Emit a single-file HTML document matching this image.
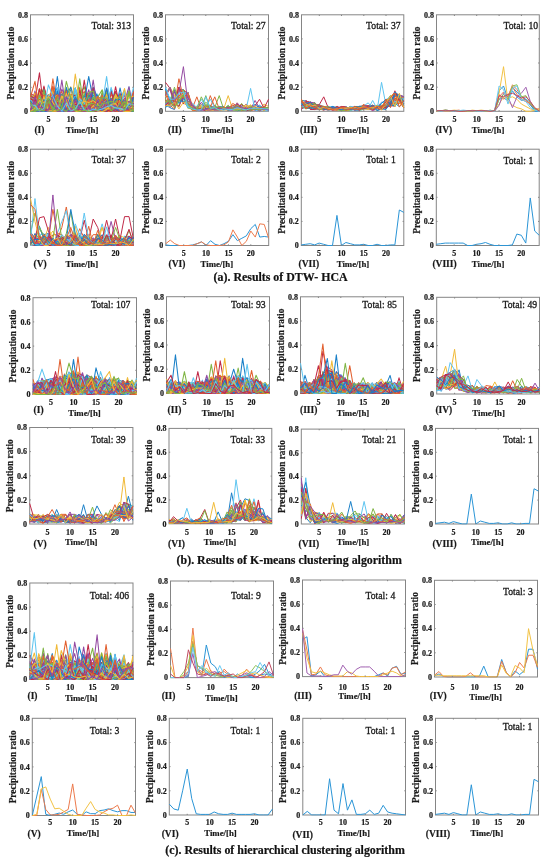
<!DOCTYPE html>
<html><head><meta charset="utf-8"><style>
html,body{margin:0;padding:0;background:#fff;}
body{width:550px;height:859px;overflow:hidden;}
svg{display:block;filter:blur(0.4px);}
text{font-family:"Liberation Serif",serif;fill:#1a1a1a;}
.tk{font-size:8px;font-weight:bold;stroke:#1a1a1a;stroke-width:0.2px;}
.yl{font-size:9.3px;font-weight:bold;stroke:#1a1a1a;stroke-width:0.2px;}
.xl{font-size:8.8px;font-weight:bold;stroke:#1a1a1a;stroke-width:0.2px;}
.rl{font-size:9.5px;font-weight:bold;stroke:#1a1a1a;stroke-width:0.2px;}
.tt{font-size:9.7px;stroke:#1a1a1a;stroke-width:0.3px;}
.pl path{fill:none;stroke-width:1;stroke-linejoin:round;vector-effect:non-scaling-stroke;}
.pl.th path{stroke-width:1.05;}
.cap{font-size:11.9px;font-weight:bold;fill:#111;stroke:#111;stroke-width:0.2px;}
</style></head><body>
<svg width="550" height="859" viewBox="0 0 550 859">
<rect width="550" height="859" fill="#fff"/>
<rect x="30.5" y="14.8" width="103" height="96.7" fill="none" stroke="#858585" stroke-width="1"/>
<clipPath id="cpa1"><rect x="29.9" y="14.2" width="104.2" height="97.9"/></clipPath>
<g clip-path="url(#cpa1)"><g class="pl th" transform="translate(30.5 111.5) scale(4.4783 -0.6044)">
<path stroke="#1a80c8" d="M0 7 1 24 2 1 3 24 4 3 5 5 6 19 7 5 8 8 9 0 10 16 11 8 12 3 13 17 14 2 15 5 16 0 17 4 18 1 19 1 20 11 21 1 22 4 23 15M0 1 1 10 2 1 3 2 4 7 5 8 6 6 7 8 8 1 9 17 10 2 11 23 12 7 13 2 14 1 15 6 16 3 17 9 18 5 19 0 20 14 21 0 22 12 23 11"/>
<path stroke="#e26030" d="M0 1 1 18 2 13 3 17 4 1 5 18 6 1 7 0 8 20 9 21 10 22 11 6 12 2 13 0 14 11 15 13 16 17 17 2 18 1 19 9 20 13 21 22 22 0 23 4M0 2 1 0 2 6 3 11 4 4 5 27 6 5 7 3 8 19 9 6 10 2 11 2 12 25 13 25 14 11 15 2 16 12 17 1 18 2 19 6 20 3 21 2 22 16 23 0"/>
<path stroke="#f0ba38" d="M0 10 1 4 2 14 3 12 4 5 5 21 6 11 7 18 8 3 9 8 10 1 11 28 12 2 13 2 14 0 15 2 16 14 17 11 18 0 19 3 20 3 21 8 22 4 23 6M0 20 1 1 2 0 3 4 4 1 5 9 6 9 7 0 8 14 9 9 10 5 11 24 12 20 13 1 14 1 15 22 16 1 17 13 18 2 19 3 20 6 21 16 22 0 23 26"/>
<path stroke="#944aa2" d="M0 16 1 2 2 16 3 8 4 1 5 26 6 5 7 37 8 20 9 0 10 15 11 1 12 4 13 1 14 19 15 21 16 23 17 9 18 11 19 6 20 2 21 3 22 15 23 1M0 16 1 0 2 1 3 3 4 8 5 4 6 22 7 1 8 9 9 17 10 24 11 21 12 1 13 17 14 12 15 5 16 0 17 1 18 12 19 0 20 2 21 1 22 10 23 2"/>
<path stroke="#80b545" d="M0 5 1 4 2 6 3 0 4 1 5 9 6 4 7 18 8 10 9 21 10 15 11 10 12 2 13 17 14 2 15 0 16 23 17 7 18 13 19 6 20 7 21 0 22 1 23 7M0 0 1 3 2 24 3 25 4 27 5 0 6 19 7 24 8 23 9 14 10 13 11 14 12 9 13 17 14 7 15 1 16 0 17 19 18 13 19 1 20 13 21 2 22 7 23 2"/>
<path stroke="#5fc5f0" d="M0 9 1 2 2 2 3 2 4 0 5 15 6 12 7 10 8 0 9 5 10 13 11 1 12 4 13 0 14 0 15 1 16 4 17 5 18 17 19 2 20 0 21 13 22 0 23 0"/>
<path stroke="#c02a48" d="M0 0 1 0 2 25 3 11 4 25 5 3 6 16 7 0 8 38 9 2 10 8 11 9 12 7 13 5 14 9 15 24 16 5 17 16 18 0 19 3 20 6 21 7 22 1 23 3"/>
<path stroke="#5fc5f0" d="M0 4 1 20 2 22 3 11 4 27 5 15 6 19 7 22 8 2 9 27 10 4 11 7 12 1 13 18 14 3 15 12 16 1 17 38 18 3 19 1 20 0 21 11 22 16 23 1M0 10 1 7 2 4 3 0 4 6 5 27 6 10 7 9 8 27 9 22 10 28 11 25 12 12 13 3 14 10 15 3 16 16 17 0 18 5 19 15 20 4 21 7 22 0 23 1"/>
<path stroke="#c02a48" d="M0 1 1 9 2 8 3 5 4 9 5 19 6 1 7 7 8 0 9 7 10 18 11 28 12 6 13 2 14 9 15 4 16 0 17 6 18 14 19 17 20 19 21 2 22 1 23 0M0 25 1 22 2 8 3 42 4 10 5 2 6 1 7 24 8 11 9 6 10 0 11 4 12 21 13 2 14 3 15 10 16 2 17 7 18 13 19 2 20 4 21 6 22 2 23 1"/>
<path stroke="#1a80c8" d="M0 5 1 21 2 19 3 24 4 5 5 15 6 5 7 2 8 12 9 25 10 18 11 2 12 1 13 16 14 13 15 19 16 1 17 17 18 4 19 2 20 2 21 18 22 16 23 0M0 9 1 4 2 22 3 0 4 3 5 16 6 1 7 4 8 20 9 3 10 2 11 22 12 0 13 20 14 3 15 1 16 6 17 5 18 20 19 12 20 4 21 6 22 2 23 15"/>
<path stroke="#e26030" d="M0 0 1 1 2 15 3 14 4 1 5 19 6 18 7 3 8 3 9 0 10 6 11 0 12 8 13 11 14 9 15 0 16 10 17 13 18 0 19 7 20 13 21 1 22 14 23 15M0 0 1 0 2 1 3 8 4 5 5 1 6 3 7 6 8 18 9 12 10 0 11 6 12 1 13 20 14 21 15 8 16 13 17 11 18 15 19 2 20 1 21 10 22 16 23 1"/>
<path stroke="#f0ba38" d="M0 0 1 3 2 33 3 17 4 4 5 21 6 3 7 3 8 1 9 26 10 18 11 6 12 2 13 25 14 4 15 25 16 4 17 12 18 13 19 0 20 18 21 8 22 0 23 11M0 15 1 1 2 22 3 2 4 27 5 3 6 2 7 3 8 7 9 1 10 2 11 22 12 24 13 1 14 5 15 5 16 17 17 10 18 4 19 13 20 7 21 1 22 11 23 3"/>
<path stroke="#944aa2" d="M0 13 1 0 2 12 3 12 4 0 5 7 6 15 7 16 8 14 9 25 10 16 11 24 12 5 13 0 14 1 15 2 16 0 17 0 18 6 19 1 20 2 21 10 22 13 23 12"/>
<path stroke="#80b545" d="M0 3 1 9 2 27 3 38 4 6 5 11 6 13 7 1 8 10 9 8 10 12 11 0 12 0 13 26 14 18 15 18 16 22 17 22 18 3 19 12 20 8 21 6 22 8 23 2"/>
<path stroke="#944aa2" d="M0 11 1 6 2 5 3 1 4 0 5 13 6 24 7 18 8 0 9 0 10 7 11 9 12 10 13 21 14 21 15 25 16 3 17 5 18 22 19 10 20 0 21 15 22 7 23 1M0 10 1 14 2 0 3 0 4 0 5 0 6 2 7 0 8 10 9 9 10 6 11 0 12 7 13 0 14 0 15 16 16 20 17 0 18 10 19 0 20 7 21 7 22 6 23 33"/>
<path stroke="#80b545" d="M0 15 1 1 2 0 3 1 4 24 5 17 6 1 7 0 8 11 9 3 10 1 11 1 12 6 13 3 14 23 15 8 16 20 17 20 18 18 19 5 20 7 21 5 22 0 23 14M0 1 1 0 2 4 3 2 4 13 5 2 6 4 7 15 8 13 9 1 10 10 11 24 12 23 13 19 14 2 15 24 16 1 17 4 18 0 19 7 20 10 21 9 22 0 23 15"/>
<path stroke="#5fc5f0" d="M0 29 1 6 2 0 3 8 4 3 5 20 6 6 7 1 8 21 9 5 10 0 11 2 12 4 13 0 14 1 15 2 16 3 17 4 18 2 19 2 20 4 21 2 22 10 23 10M0 0 1 4 2 5 3 19 4 0 5 21 6 5 7 20 8 1 9 0 10 5 11 1 12 6 13 18 14 21 15 0 16 2 17 2 18 1 19 5 20 0 21 1 22 0 23 3"/>
<path stroke="#c02a48" d="M0 1 1 0 2 3 3 1 4 0 5 35 6 26 7 13 8 23 9 21 10 12 11 8 12 4 13 7 14 3 15 1 16 6 17 10 18 8 19 11 20 2 21 0 22 1 23 24M0 10 1 1 2 3 3 9 4 1 5 24 6 0 7 22 8 27 9 11 10 1 11 18 12 5 13 14 14 3 15 1 16 22 17 0 18 0 19 25 20 12 21 2 22 2 23 8"/>
<path stroke="#1a80c8" d="M0 1 1 22 2 23 3 14 4 1 5 6 6 3 7 0 8 2 9 0 10 26 11 2 12 4 13 2 14 11 15 8 16 14 17 0 18 1 19 7 20 7 21 13 22 0 23 2M0 28 1 0 2 5 3 2 4 2 5 2 6 27 7 3 8 0 9 23 10 1 11 15 12 12 13 14 14 16 15 1 16 0 17 4 18 4 19 1 20 13 21 0 22 4 23 4"/>
<path stroke="#e26030" d="M0 24 1 20 2 3 3 4 4 7 5 26 6 1 7 8 8 12 9 15 10 0 11 10 12 6 13 3 14 25 15 0 16 12 17 1 18 33 19 5 20 4 21 1 22 5 23 12"/>
<path stroke="#f0ba38" d="M0 3 1 20 2 1 3 0 4 0 5 8 6 10 7 19 8 26 9 5 10 19 11 5 12 4 13 0 14 20 15 3 16 10 17 6 18 22 19 1 20 6 21 11 22 1 23 11"/>
<path stroke="#e26030" d="M0 3 1 23 2 3 3 17 4 1 5 7 6 4 7 2 8 2 9 26 10 13 11 6 12 9 13 19 14 12 15 0 16 1 17 19 18 7 19 7 20 1 21 0 22 1 23 2M0 0 1 0 2 23 3 5 4 22 5 28 6 10 7 2 8 22 9 1 10 8 11 26 12 15 13 8 14 4 15 7 16 0 17 0 18 2 19 0 20 1 21 3 22 13 23 14"/>
<path stroke="#f0ba38" d="M0 24 1 11 2 7 3 6 4 23 5 0 6 27 7 6 8 19 9 7 10 19 11 0 12 5 13 16 14 26 15 7 16 0 17 13 18 9 19 0 20 1 21 5 22 0 23 13M0 8 1 22 2 7 3 5 4 12 5 6 6 0 7 4 8 1 9 23 10 15 11 5 12 0 13 0 14 2 15 7 16 0 17 3 18 1 19 0 20 0 21 0 22 12 23 1"/>
<path stroke="#944aa2" d="M0 0 1 12 2 12 3 12 4 13 5 10 6 25 7 6 8 0 9 2 10 5 11 10 12 4 13 5 14 2 15 14 16 18 17 3 18 14 19 1 20 19 21 2 22 8 23 6M0 13 1 2 2 17 3 28 4 8 5 1 6 0 7 27 8 0 9 0 10 6 11 25 12 8 13 27 14 14 15 18 16 17 17 21 18 21 19 2 20 21 21 5 22 16 23 6"/>
<path stroke="#80b545" d="M0 6 1 5 2 8 3 4 4 0 5 9 6 4 7 7 8 14 9 4 10 1 11 19 12 25 13 1 14 10 15 4 16 12 17 0 18 19 19 15 20 0 21 8 22 2 23 1M0 5 1 11 2 3 3 9 4 18 5 8 6 24 7 17 8 9 9 0 10 6 11 0 12 25 13 0 14 1 15 1 16 18 17 19 18 12 19 15 20 1 21 15 22 0 23 2"/>
<path stroke="#5fc5f0" d="M0 17 1 12 2 1 3 0 4 3 5 1 6 10 7 0 8 13 9 17 10 0 11 22 12 19 13 0 14 8 15 0 16 6 17 0 18 7 19 0 20 0 21 17 22 11 23 7M0 7 1 15 2 0 3 1 4 26 5 18 6 3 7 28 8 6 9 2 10 3 11 2 12 13 13 4 14 9 15 10 16 6 17 5 18 3 19 1 20 0 21 9 22 0 23 9"/>
<path stroke="#c02a48" d="M0 8 1 21 2 20 3 0 4 3 5 5 6 17 7 13 8 8 9 4 10 2 11 9 12 18 13 3 14 2 15 0 16 0 17 0 18 4 19 13 20 3 21 0 22 0 23 15"/>
<path stroke="#1a80c8" d="M0 13 1 25 2 7 3 0 4 7 5 7 6 18 7 24 8 1 9 22 10 1 11 10 12 0 13 19 14 5 15 1 16 22 17 0 18 3 19 5 20 1 21 2 22 12 23 1"/>
<path stroke="#c02a48" d="M0 17 1 6 2 18 3 6 4 15 5 12 6 4 7 0 8 2 9 5 10 6 11 1 12 2 13 3 14 8 15 0 16 4 17 11 18 15 19 6 20 18 21 10 22 11 23 32M0 1 1 11 2 20 3 15 4 17 5 2 6 9 7 1 8 16 9 24 10 7 11 8 12 15 13 22 14 0 15 15 16 20 17 1 18 2 19 5 20 7 21 4 22 6 23 2"/>
<path stroke="#1a80c8" d="M0 7 1 12 2 0 3 21 4 6 5 4 6 2 7 20 8 2 9 3 10 22 11 6 12 0 13 0 14 15 15 3 16 2 17 2 18 21 19 5 20 16 21 12 22 11 23 10M0 0 1 0 2 5 3 9 4 5 5 7 6 4 7 18 8 18 9 1 10 11 11 8 12 0 13 0 14 18 15 13 16 23 17 8 18 18 19 6 20 7 21 8 22 5 23 12"/>
<path stroke="#e26030" d="M0 16 1 20 2 3 3 1 4 12 5 11 6 0 7 10 8 25 9 2 10 11 11 24 12 4 13 18 14 21 15 0 16 2 17 1 18 18 19 8 20 0 21 3 22 1 23 16M0 1 1 23 2 0 3 17 4 15 5 14 6 0 7 25 8 1 9 21 10 7 11 3 12 1 13 0 14 1 15 0 16 0 17 10 18 21 19 6 20 13 21 17 22 0 23 3"/>
<path stroke="#f0ba38" d="M0 4 1 19 2 6 3 19 4 4 5 3 6 1 7 0 8 9 9 4 10 1 11 8 12 14 13 11 14 0 15 4 16 11 17 4 18 4 19 13 20 0 21 1 22 10 23 14M0 10 1 5 2 6 3 27 4 5 5 12 6 0 7 8 8 16 9 6 10 15 11 12 12 0 13 6 14 0 15 0 16 11 17 1 18 0 19 5 20 10 21 1 22 31 23 1"/>
<path stroke="#944aa2" d="M0 0 1 5 2 15 3 6 4 20 5 5 6 3 7 0 8 7 9 27 10 23 11 0 12 0 13 0 14 20 15 3 16 2 17 13 18 3 19 3 20 10 21 15 22 1 23 1M0 10 1 20 2 1 3 22 4 1 5 24 6 1 7 4 8 15 9 1 10 0 11 2 12 3 13 21 14 2 15 12 16 17 17 0 18 2 19 17 20 7 21 1 22 4 23 3"/>
<path stroke="#80b545" d="M0 17 1 23 2 5 3 1 4 22 5 0 6 3 7 18 8 15 9 16 10 6 11 14 12 3 13 20 14 16 15 23 16 14 17 12 18 1 19 7 20 0 21 15 22 11 23 5"/>
<path stroke="#5fc5f0" d="M0 1 1 1 2 6 3 30 4 1 5 4 6 18 7 21 8 2 9 1 10 0 11 0 12 4 13 1 14 7 15 0 16 10 17 7 18 18 19 14 20 0 21 6 22 2 23 0"/>
<path stroke="#80b545" d="M0 9 1 1 2 21 3 12 4 0 5 0 6 0 7 1 8 10 9 0 10 5 11 2 12 12 13 14 14 11 15 9 16 8 17 14 18 6 19 1 20 0 21 7 22 11 23 8M0 0 1 18 2 18 3 0 4 2 5 6 6 25 7 4 8 9 9 0 10 0 11 15 12 7 13 0 14 14 15 1 16 20 17 23 18 20 19 1 20 7 21 14 22 7 23 0"/>
<path stroke="#5fc5f0" d="M0 3 1 0 2 0 3 3 4 0 5 0 6 17 7 22 8 27 9 3 10 0 11 5 12 0 13 9 14 12 15 13 16 0 17 15 18 15 19 2 20 19 21 36 22 1 23 0M0 11 1 9 2 22 3 12 4 23 5 8 6 11 7 19 8 5 9 5 10 14 11 0 12 6 13 1 14 6 15 0 16 0 17 7 18 2 19 10 20 6 21 4 22 41 23 0"/>
<path stroke="#c02a48" d="M0 23 1 3 2 23 3 21 4 0 5 0 6 23 7 20 8 19 9 12 10 26 11 5 12 18 13 16 14 5 15 2 16 0 17 21 18 15 19 11 20 1 21 12 22 1 23 6M0 1 1 21 2 19 3 3 4 17 5 3 6 11 7 7 8 1 9 5 10 4 11 0 12 21 13 2 14 3 15 24 16 4 17 4 18 16 19 2 20 18 21 27 22 2 23 2"/>
<path stroke="#1a80c8" d="M0 13 1 2 2 19 3 10 4 2 5 1 6 0 7 1 8 24 9 4 10 9 11 1 12 22 13 27 14 7 15 23 16 23 17 11 18 0 19 9 20 1 21 15 22 14 23 1M0 1 1 6 2 15 3 23 4 26 5 8 6 2 7 0 8 15 9 10 10 1 11 8 12 4 13 17 14 26 15 1 16 1 17 5 18 2 19 7 20 5 21 2 22 8 23 5"/>
<path stroke="#e26030" d="M0 7 1 3 2 0 3 17 4 2 5 1 6 12 7 5 8 3 9 0 10 27 11 10 12 5 13 9 14 5 15 16 16 19 17 2 18 19 19 2 20 8 21 16 22 8 23 0M0 0 1 16 2 27 3 1 4 22 5 21 6 1 7 1 8 1 9 2 10 5 11 1 12 3 13 9 14 9 15 26 16 1 17 19 18 1 19 1 20 15 21 6 22 8 23 13"/>
<path stroke="#f0ba38" d="M0 7 1 17 2 22 3 0 4 5 5 6 6 0 7 3 8 5 9 0 10 5 11 0 12 5 13 1 14 0 15 0 16 7 17 0 18 3 19 0 20 9 21 8 22 0 23 2"/>
<path stroke="#944aa2" d="M0 13 1 11 2 6 3 17 4 0 5 24 6 23 7 17 8 1 9 0 10 10 11 8 12 15 13 20 14 6 15 7 16 9 17 3 18 14 19 12 20 0 21 9 22 1 23 1"/>
<path stroke="#f0ba38" d="M0 20 1 1 2 24 3 20 4 5 5 18 6 7 7 18 8 3 9 12 10 0 11 27 12 14 13 22 14 11 15 12 16 20 17 23 18 3 19 2 20 11 21 4 22 17 23 5M0 22 1 2 2 2 3 13 4 5 5 1 6 9 7 21 8 0 9 5 10 1 11 14 12 17 13 1 14 19 15 3 16 14 17 0 18 5 19 9 20 5 21 9 22 10 23 14"/>
<path stroke="#944aa2" d="M0 9 1 2 2 5 3 0 4 23 5 0 6 3 7 23 8 8 9 8 10 12 11 14 12 3 13 0 14 10 15 6 16 9 17 21 18 7 19 1 20 2 21 14 22 1 23 1M0 15 1 25 2 10 3 5 4 4 5 0 6 14 7 3 8 0 9 23 10 2 11 0 12 15 13 16 14 16 15 10 16 29 17 7 18 20 19 4 20 2 21 6 22 7 23 1"/>
<path stroke="#80b545" d="M0 4 1 1 2 26 3 5 4 2 5 12 6 13 7 10 8 22 9 10 10 39 11 0 12 0 13 7 14 2 15 1 16 17 17 5 18 12 19 15 20 0 21 17 22 5 23 2M0 0 1 0 2 22 3 21 4 6 5 2 6 0 7 26 8 8 9 0 10 11 11 16 12 3 13 26 14 0 15 0 16 9 17 5 18 3 19 10 20 17 21 14 22 33 23 1"/>
<path stroke="#5fc5f0" d="M0 8 1 5 2 8 3 8 4 11 5 8 6 3 7 23 8 11 9 28 10 0 11 25 12 11 13 12 14 23 15 0 16 1 17 21 18 2 19 0 20 2 21 9 22 8 23 0M0 10 1 1 2 4 3 4 4 14 5 5 6 4 7 19 8 13 9 0 10 8 11 1 12 2 13 10 14 20 15 3 16 7 17 0 18 13 19 1 20 3 21 1 22 5 23 1"/>
<path stroke="#c02a48" d="M0 15 1 3 2 2 3 17 4 24 5 27 6 24 7 0 8 0 9 16 10 16 11 1 12 9 13 11 14 4 15 1 16 3 17 2 18 0 19 2 20 1 21 8 22 7 23 7M0 0 1 10 2 20 3 14 4 1 5 1 6 6 7 4 8 1 9 8 10 1 11 0 12 7 13 24 14 1 15 1 16 6 17 21 18 4 19 1 20 6 21 2 22 0 23 6"/>
<path stroke="#1a80c8" d="M0 2 1 1 2 8 3 0 4 9 5 5 6 22 7 22 8 2 9 1 10 39 11 7 12 14 13 25 14 21 15 4 16 7 17 8 18 17 19 0 20 13 21 1 22 0 23 15"/>
<path stroke="#e26030" d="M0 16 1 0 2 0 3 24 4 2 5 21 6 1 7 22 8 5 9 0 10 27 11 0 12 0 13 17 14 3 15 0 16 0 17 4 18 0 19 3 20 9 21 17 22 1 23 5"/>
<path stroke="#1a80c8" d="M0 9 1 9 2 19 3 23 4 20 5 27 6 39 7 5 8 14 9 21 10 14 11 9 12 1 13 14 14 22 15 6 16 19 17 8 18 2 19 20 20 11 21 18 22 6 23 9M0 0 1 0 2 0 3 12 4 0 5 26 6 7 7 3 8 40 9 17 10 3 11 10 12 11 13 24 14 25 15 14 16 1 17 8 18 37 19 4 20 11 21 12 22 2 23 1"/>
<path stroke="#e26030" d="M0 13 1 0 2 5 3 21 4 6 5 21 6 1 7 21 8 14 9 0 10 0 11 15 12 19 13 4 14 2 15 25 16 18 17 23 18 1 19 5 20 0 21 8 22 3 23 0M0 2 1 16 2 23 3 26 4 27 5 8 6 0 7 8 8 1 9 8 10 0 11 14 12 0 13 2 14 19 15 0 16 1 17 3 18 3 19 14 20 0 21 3 22 11 23 10"/>
<path stroke="#f0ba38" d="M0 0 1 10 2 7 3 0 4 25 5 7 6 34 7 8 8 4 9 0 10 17 11 22 12 13 13 6 14 18 15 0 16 1 17 8 18 1 19 9 20 5 21 12 22 17 23 0M0 14 1 15 2 0 3 16 4 25 5 25 6 9 7 1 8 17 9 7 10 23 11 8 12 1 13 0 14 0 15 21 16 21 17 0 18 10 19 2 20 15 21 17 22 3 23 2"/>
<path stroke="#944aa2" d="M0 13 1 0 2 0 3 0 4 20 5 0 6 0 7 0 8 0 9 3 10 10 11 24 12 1 13 0 14 25 15 1 16 13 17 20 18 4 19 20 20 2 21 0 22 13 23 7M0 0 1 2 2 5 3 0 4 1 5 13 6 21 7 0 8 16 9 3 10 5 11 26 12 3 13 1 14 18 15 1 16 10 17 9 18 1 19 13 20 8 21 0 22 9 23 2"/>
<path stroke="#80b545" d="M0 17 1 0 2 27 3 17 4 16 5 2 6 2 7 22 8 0 9 0 10 10 11 2 12 7 13 8 14 4 15 17 16 1 17 13 18 4 19 17 20 0 21 1 22 2 23 1M0 1 1 18 2 15 3 2 4 9 5 2 6 0 7 4 8 13 9 10 10 9 11 5 12 17 13 25 14 0 15 0 16 12 17 14 18 5 19 0 20 2 21 4 22 7 23 2"/>
<path stroke="#5fc5f0" d="M0 1 1 6 2 7 3 2 4 10 5 17 6 1 7 3 8 1 9 3 10 17 11 16 12 24 13 4 14 0 15 1 16 7 17 0 18 11 19 2 20 4 21 3 22 2 23 11"/>
<path stroke="#c02a48" d="M0 3 1 4 2 0 3 24 4 5 5 18 6 10 7 4 8 7 9 7 10 4 11 0 12 19 13 7 14 7 15 5 16 4 17 20 18 32 19 11 20 0 21 3 22 8 23 26"/>
<path stroke="#5fc5f0" d="M0 0 1 19 2 14 3 0 4 13 5 4 6 0 7 14 8 14 9 11 10 3 11 0 12 1 13 4 14 2 15 4 16 2 17 20 18 5 19 16 20 0 21 12 22 10 23 7M0 10 1 2 2 0 3 7 4 2 5 1 6 7 7 3 8 9 9 16 10 6 11 21 12 0 13 15 14 0 15 0 16 10 17 17 18 1 19 5 20 12 21 1 22 3 23 6"/>
<path stroke="#c02a48" d="M0 5 1 14 2 1 3 8 4 9 5 13 6 9 7 6 8 3 9 8 10 0 11 2 12 22 13 0 14 6 15 21 16 16 17 2 18 4 19 2 20 1 21 2 22 14 23 11M0 14 1 3 2 15 3 15 4 12 5 16 6 9 7 20 8 19 9 0 10 6 11 0 12 25 13 5 14 1 15 18 16 0 17 1 18 10 19 5 20 1 21 6 22 1 23 2"/>
<path stroke="#1a80c8" d="M0 1 1 3 2 3 3 9 4 1 5 16 6 16 7 13 8 3 9 21 10 3 11 3 12 1 13 0 14 11 15 6 16 1 17 3 18 4 19 1 20 1 21 0 22 1 23 0M0 17 1 0 2 10 3 26 4 8 5 22 6 18 7 6 8 5 9 1 10 4 11 1 12 20 13 10 14 23 15 4 16 12 17 16 18 0 19 2 20 4 21 16 22 13 23 0"/>
<path stroke="#e26030" d="M0 10 1 0 2 0 3 1 4 0 5 6 6 14 7 0 8 9 9 18 10 7 11 14 12 20 13 5 14 0 15 1 16 0 17 2 18 30 19 8 20 12 21 12 22 8 23 1M0 5 1 6 2 2 3 19 4 15 5 21 6 8 7 0 8 29 9 0 10 1 11 29 12 9 13 12 14 18 15 11 16 5 17 7 18 3 19 7 20 0 21 5 22 0 23 0"/>
<path stroke="#f0ba38" d="M0 18 1 11 2 0 3 1 4 2 5 22 6 0 7 0 8 20 9 16 10 20 11 14 12 18 13 0 14 9 15 3 16 7 17 2 18 1 19 1 20 0 21 3 22 12 23 5M0 10 1 1 2 3 3 1 4 2 5 16 6 11 7 26 8 25 9 1 10 1 11 23 12 1 13 16 14 1 15 1 16 22 17 11 18 16 19 1 20 0 21 12 22 3 23 6"/>
<path stroke="#944aa2" d="M0 1 1 3 2 4 3 17 4 23 5 12 6 0 7 6 8 6 9 22 10 3 11 14 12 17 13 7 14 6 15 0 16 0 17 22 18 7 19 1 20 13 21 0 22 15 23 0"/>
<path stroke="#80b545" d="M0 5 1 10 2 0 3 13 4 4 5 22 6 7 7 0 8 16 9 13 10 25 11 18 12 9 13 17 14 1 15 21 16 14 17 6 18 0 19 4 20 2 21 8 22 17 23 2"/>
<path stroke="#944aa2" d="M0 4 1 34 2 6 3 12 4 1 5 14 6 27 7 12 8 27 9 19 10 17 11 6 12 9 13 2 14 20 15 0 16 16 17 21 18 2 19 13 20 4 21 14 22 7 23 0M0 20 1 21 2 2 3 7 4 26 5 8 6 19 7 8 8 22 9 7 10 17 11 0 12 10 13 0 14 10 15 10 16 21 17 1 18 19 19 16 20 6 21 0 22 15 23 5"/>
<path stroke="#80b545" d="M0 1 1 25 2 11 3 12 4 15 5 17 6 0 7 4 8 10 9 28 10 7 11 0 12 26 13 8 14 0 15 3 16 23 17 3 18 7 19 2 20 7 21 4 22 2 23 0M0 23 1 13 2 1 3 10 4 2 5 15 6 10 7 16 8 10 9 14 10 26 11 7 12 24 13 4 14 1 15 26 16 11 17 0 18 17 19 11 20 0 21 5 22 17 23 3"/>
<path stroke="#5fc5f0" d="M0 16 1 4 2 0 3 13 4 0 5 6 6 39 7 11 8 19 9 25 10 3 11 15 12 21 13 19 14 17 15 7 16 15 17 1 18 6 19 6 20 0 21 14 22 3 23 3M0 7 1 19 2 23 3 2 4 0 5 1 6 0 7 4 8 2 9 0 10 21 11 22 12 1 13 2 14 25 15 16 16 7 17 3 18 7 19 12 20 0 21 0 22 0 23 1"/>
<path stroke="#c02a48" d="M0 5 1 25 2 0 3 8 4 6 5 2 6 0 7 0 8 19 9 1 10 0 11 9 12 1 13 4 14 17 15 9 16 1 17 27 18 8 19 15 20 4 21 8 22 11 23 0M0 24 1 8 2 18 3 27 4 26 5 7 6 9 7 1 8 12 9 4 10 17 11 9 12 8 13 16 14 19 15 10 16 0 17 6 18 17 19 11 20 7 21 0 22 16 23 0"/>
<path stroke="#1a80c8" d="M0 16 1 13 2 11 3 0 4 1 5 0 6 9 7 16 8 6 9 18 10 0 11 1 12 0 13 4 14 1 15 22 16 1 17 15 18 0 19 1 20 27 21 15 22 16 23 7M0 10 1 10 2 3 3 2 4 15 5 9 6 6 7 6 8 24 9 0 10 22 11 5 12 0 13 13 14 1 15 6 16 4 17 24 18 10 19 16 20 15 21 8 22 28 23 1"/>
<path stroke="#e26030" d="M0 4 1 8 2 3 3 1 4 12 5 0 6 3 7 1 8 0 9 19 10 16 11 21 12 33 13 19 14 5 15 6 16 6 17 0 18 16 19 15 20 19 21 13 22 15 23 15"/>
<path stroke="#f0ba38" d="M0 22 1 7 2 6 3 10 4 21 5 0 6 13 7 3 8 1 9 23 10 24 11 1 12 6 13 27 14 40 15 4 16 1 17 23 18 8 19 3 20 1 21 16 22 7 23 0"/>
<path stroke="#e26030" d="M0 6 1 1 2 27 3 0 4 5 5 4 6 16 7 6 8 0 9 3 10 13 11 21 12 22 13 2 14 21 15 22 16 5 17 4 18 3 19 9 20 19 21 9 22 5 23 1M0 8 1 1 2 25 3 17 4 1 5 14 6 21 7 4 8 0 9 0 10 0 11 26 12 7 13 0 14 0 15 10 16 15 17 18 18 0 19 5 20 1 21 15 22 14 23 0"/>
<path stroke="#f0ba38" d="M0 10 1 16 2 4 3 14 4 24 5 0 6 1 7 11 8 15 9 22 10 3 11 19 12 27 13 1 14 23 15 20 16 2 17 9 18 8 19 0 20 3 21 2 22 10 23 15M0 7 1 10 2 24 3 2 4 21 5 17 6 0 7 2 8 2 9 8 10 3 11 8 12 8 13 27 14 7 15 21 16 22 17 17 18 14 19 13 20 3 21 11 22 12 23 3"/>
<path stroke="#944aa2" d="M0 0 1 1 2 17 3 2 4 14 5 4 6 11 7 28 8 18 9 4 10 0 11 13 12 7 13 24 14 17 15 10 16 8 17 11 18 9 19 1 20 14 21 2 22 1 23 2M0 8 1 3 2 7 3 7 4 1 5 22 6 5 7 4 8 1 9 2 10 12 11 2 12 1 13 7 14 15 15 2 16 3 17 0 18 5 19 16 20 16 21 12 22 1 23 2"/>
<path stroke="#80b545" d="M0 17 1 21 2 0 3 21 4 0 5 5 6 5 7 17 8 23 9 25 10 12 11 23 12 18 13 0 14 20 15 3 16 6 17 0 18 11 19 7 20 7 21 8 22 4 23 1M0 2 1 0 2 3 3 7 4 2 5 0 6 10 7 18 8 18 9 4 10 6 11 19 12 9 13 2 14 20 15 25 16 16 17 10 18 18 19 17 20 3 21 15 22 8 23 2"/>
<path stroke="#5fc5f0" d="M0 8 1 0 2 17 3 9 4 5 5 0 6 0 7 21 8 10 9 5 10 22 11 6 12 0 13 12 14 7 15 11 16 7 17 1 18 4 19 12 20 6 21 8 22 11 23 10M0 0 1 1 2 5 3 3 4 0 5 24 6 15 7 5 8 3 9 0 10 19 11 2 12 25 13 2 14 26 15 18 16 12 17 23 18 5 19 3 20 0 21 14 22 0 23 0"/>
<path stroke="#c02a48" d="M0 0 1 7 2 0 3 8 4 0 5 22 6 19 7 4 8 12 9 12 10 10 11 22 12 12 13 5 14 4 15 1 16 0 17 2 18 8 19 11 20 0 21 17 22 14 23 7"/>
<path stroke="#1a80c8" d="M0 8 1 18 2 8 3 25 4 24 5 13 6 15 7 16 8 27 9 9 10 1 11 5 12 9 13 2 14 1 15 14 16 21 17 9 18 3 19 20 20 10 21 18 22 15 23 3"/>
<path stroke="#c02a48" d="M0 18 1 2 2 0 3 12 4 21 5 21 6 0 7 4 8 8 9 0 10 3 11 4 12 2 13 6 14 8 15 10 16 17 17 2 18 7 19 0 20 7 21 0 22 8 23 1M0 2 1 8 2 3 3 1 4 6 5 1 6 1 7 9 8 13 9 0 10 11 11 25 12 19 13 17 14 1 15 0 16 3 17 5 18 1 19 1 20 1 21 1 22 0 23 0"/>
<path stroke="#1a80c8" d="M0 1 1 6 2 2 3 8 4 2 5 2 6 2 7 1 8 28 9 4 10 3 11 0 12 5 13 15 14 1 15 23 16 13 17 15 18 7 19 14 20 1 21 5 22 0 23 5M0 5 1 9 2 27 3 3 4 19 5 4 6 5 7 22 8 1 9 39 10 5 11 19 12 13 13 17 14 3 15 3 16 16 17 2 18 13 19 18 20 11 21 12 22 3 23 8"/>
<path stroke="#e26030" d="M0 23 1 23 2 1 3 26 4 1 5 7 6 1 7 17 8 24 9 3 10 26 11 12 12 15 13 17 14 24 15 12 16 11 17 2 18 18 19 12 20 17 21 7 22 1 23 7M0 14 1 0 2 24 3 0 4 16 5 0 6 13 7 0 8 24 9 0 10 8 11 15 12 25 13 8 14 0 15 3 16 18 17 1 18 1 19 5 20 3 21 12 22 16 23 6"/>
<path stroke="#f0ba38" d="M0 20 1 3 2 0 3 13 4 16 5 25 6 26 7 6 8 15 9 5 10 28 11 6 12 1 13 17 14 0 15 3 16 1 17 14 18 15 19 12 20 4 21 11 22 14 23 2M0 2 1 2 2 2 3 6 4 22 5 18 6 12 7 7 8 19 9 41 10 0 11 0 12 18 13 10 14 1 15 14 16 4 17 0 18 5 19 1 20 9 21 2 22 0 23 0"/>
<path stroke="#944aa2" d="M0 1 1 18 2 1 3 23 4 12 5 1 6 16 7 7 8 9 9 20 10 27 11 4 12 14 13 0 14 7 15 7 16 0 17 24 18 12 19 0 20 2 21 8 22 0 23 9M0 15 1 6 2 7 3 17 4 2 5 9 6 18 7 0 8 15 9 4 10 2 11 19 12 5 13 0 14 26 15 19 16 6 17 7 18 18 19 17 20 0 21 15 22 3 23 8"/>
<path stroke="#80b545" d="M0 17 1 25 2 0 3 0 4 17 5 11 6 28 7 10 8 7 9 10 10 17 11 23 12 22 13 11 14 2 15 0 16 10 17 9 18 1 19 4 20 9 21 5 22 7 23 5"/>
<path stroke="#5fc5f0" d="M0 20 1 23 2 1 3 23 4 3 5 4 6 0 7 23 8 12 9 24 10 38 11 15 12 10 13 9 14 1 15 6 16 8 17 4 18 17 19 4 20 0 21 1 22 5 23 9"/>
<path stroke="#80b545" d="M0 2 1 2 2 17 3 2 4 26 5 14 6 11 7 20 8 17 9 0 10 10 11 5 12 9 13 11 14 7 15 0 16 11 17 9 18 2 19 0 20 17 21 9 22 5 23 4M0 4 1 4 2 19 3 3 4 4 5 6 6 2 7 0 8 27 9 0 10 6 11 9 12 7 13 5 14 0 15 11 16 0 17 3 18 0 19 4 20 18 21 1 22 4 23 4"/>
<path stroke="#5fc5f0" d="M0 8 1 9 2 2 3 3 4 1 5 3 6 0 7 3 8 1 9 15 10 2 11 0 12 5 13 2 14 0 15 14 16 23 17 4 18 1 19 2 20 16 21 15 22 11 23 40M0 0 1 24 2 1 3 26 4 1 5 1 6 5 7 17 8 1 9 0 10 24 11 26 12 5 13 6 14 13 15 14 16 10 17 10 18 6 19 2 20 1 21 11 22 6 23 8"/>
<path stroke="#c02a48" d="M0 1 1 4 2 20 3 0 4 17 5 0 6 11 7 4 8 5 9 21 10 11 11 1 12 1 13 4 14 5 15 3 16 6 17 2 18 0 19 13 20 8 21 14 22 7 23 0M0 17 1 22 2 25 3 36 4 8 5 41 6 6 7 16 8 20 9 23 10 9 11 10 12 25 13 2 14 15 15 13 16 6 17 0 18 33 19 16 20 7 21 3 22 14 23 1"/>
<path stroke="#1a80c8" d="M0 2 1 1 2 7 3 0 4 24 5 24 6 14 7 23 8 19 9 7 10 12 11 2 12 15 13 6 14 35 15 1 16 21 17 4 18 19 19 2 20 8 21 13 22 3 23 9M0 28 1 0 2 3 3 12 4 1 5 10 6 23 7 4 8 14 9 17 10 7 11 26 12 1 13 16 14 26 15 1 16 10 17 6 18 3 19 5 20 4 21 8 22 15 23 2"/>
<path stroke="#e26030" d="M0 2 1 16 2 0 3 2 4 2 5 10 6 8 7 5 8 34 9 14 10 17 11 22 12 24 13 0 14 18 15 21 16 3 17 11 18 2 19 0 20 4 21 0 22 0 23 14M0 12 1 6 2 0 3 25 4 0 5 27 6 26 7 33 8 6 9 1 10 20 11 18 12 0 13 14 14 0 15 7 16 3 17 3 18 12 19 1 20 0 21 0 22 10 23 9"/>
<path stroke="#f0ba38" d="M0 10 1 24 2 3 3 8 4 27 5 33 6 2 7 13 8 25 9 8 10 11 11 3 12 5 13 14 14 15 15 8 16 6 17 11 18 9 19 4 20 0 21 2 22 34 23 8"/>
<path stroke="#944aa2" d="M0 11 1 0 2 0 3 1 4 0 5 1 6 15 7 3 8 9 9 2 10 21 11 0 12 8 13 8 14 16 15 20 16 14 17 0 18 13 19 5 20 1 21 11 22 11 23 4"/>
<path stroke="#f0ba38" d="M0 5 1 5 2 10 3 22 4 1 5 0 6 5 7 6 8 15 9 5 10 7 11 5 12 0 13 7 14 36 15 6 16 13 17 3 18 0 19 25 20 10 21 0 22 16 23 12M0 3 1 0 2 13 3 27 4 16 5 12 6 19 7 0 8 5 9 0 10 1 11 2 12 0 13 2 14 0 15 2 16 13 17 20 18 19 19 6 20 14 21 4 22 5 23 14"/>
<path stroke="#944aa2" d="M0 17 1 1 2 3 3 0 4 25 5 0 6 13 7 17 8 5 9 15 10 14 11 14 12 3 13 5 14 1 15 2 16 2 17 1 18 11 19 5 20 18 21 5 22 11 23 8M0 24 1 1 2 24 3 0 4 1 5 0 6 23 7 8 8 1 9 14 10 2 11 1 12 0 13 10 14 13 15 3 16 0 17 3 18 7 19 12 20 12 21 9 22 0 23 3"/>
<path stroke="#80b545" d="M0 7 1 0 2 14 3 27 4 2 5 1 6 5 7 2 8 18 9 0 10 3 11 4 12 10 13 22 14 15 15 0 16 16 17 9 18 19 19 6 20 1 21 1 22 15 23 0M0 16 1 18 2 1 3 0 4 14 5 14 6 0 7 22 8 4 9 9 10 1 11 12 12 13 13 6 14 7 15 9 16 11 17 5 18 1 19 10 20 8 21 4 22 0 23 0"/>
<path stroke="#5fc5f0" d="M0 13 1 10 2 9 3 4 4 2 5 2 6 0 7 19 8 0 9 17 10 27 11 0 12 4 13 1 14 4 15 2 16 1 17 0 18 1 19 12 20 11 21 15 22 0 23 6M0 25 1 0 2 10 3 6 4 11 5 13 6 0 7 20 8 1 9 19 10 37 11 22 12 13 13 13 14 26 15 0 16 18 17 9 18 20 19 17 20 22 21 7 22 3 23 1"/>
<path stroke="#c02a48" d="M0 1 1 26 2 0 3 18 4 21 5 0 6 1 7 14 8 28 9 10 10 22 11 13 12 8 13 14 14 12 15 2 16 3 17 18 18 1 19 1 20 6 21 12 22 2 23 1M0 9 1 11 2 7 3 0 4 24 5 1 6 9 7 20 8 3 9 6 10 11 11 13 12 4 13 14 14 4 15 3 16 10 17 1 18 12 19 0 20 0 21 0 22 8 23 4"/>
<path stroke="#1a80c8" d="M0 1 1 4 2 4 3 18 4 9 5 10 6 13 7 3 8 6 9 3 10 4 11 5 12 3 13 9 14 17 15 3 16 0 17 1 18 17 19 17 20 4 21 0 22 11 23 6"/>
<path stroke="#e26030" d="M0 17 1 3 2 24 3 22 4 15 5 2 6 0 7 4 8 14 9 0 10 17 11 8 12 14 13 9 14 3 15 18 16 1 17 1 18 17 19 12 20 16 21 9 22 0 23 6"/>
<path stroke="#1a80c8" d="M0 8 1 21 2 7 3 25 4 17 5 11 6 10 7 20 8 2 9 2 10 1 11 16 12 1 13 24 14 18 15 1 16 5 17 14 18 1 19 1 20 3 21 13 22 1 23 9M0 24 1 11 2 5 3 6 4 24 5 12 6 5 7 29 8 3 9 5 10 1 11 13 12 14 13 1 14 0 15 16 16 2 17 4 18 21 19 0 20 0 21 2 22 5 23 3"/>
<path stroke="#e26030" d="M0 12 1 8 2 17 3 0 4 25 5 10 6 1 7 25 8 27 9 14 10 0 11 18 12 17 13 27 14 11 15 2 16 9 17 21 18 8 19 10 20 0 21 9 22 3 23 8M0 26 1 13 2 21 3 2 4 13 5 18 6 8 7 0 8 25 9 1 10 3 11 2 12 27 13 4 14 1 15 21 16 13 17 21 18 14 19 3 20 1 21 2 22 1 23 7"/>
<path stroke="#f0ba38" d="M0 3 1 15 2 0 3 26 4 5 5 5 6 12 7 25 8 7 9 15 10 12 11 23 12 18 13 8 14 11 15 15 16 23 17 9 18 0 19 1 20 0 21 14 22 14 23 1M0 17 1 0 2 14 3 24 4 9 5 7 6 3 7 5 8 4 9 4 10 10 11 9 12 4 13 7 14 19 15 3 16 19 17 0 18 6 19 5 20 2 21 8 22 1 23 3"/>
<path stroke="#944aa2" d="M0 2 1 18 2 2 3 20 4 0 5 1 6 14 7 1 8 18 9 0 10 25 11 3 12 12 13 36 14 9 15 14 16 0 17 14 18 5 19 4 20 15 21 16 22 0 23 8M0 10 1 8 2 20 3 15 4 0 5 6 6 12 7 3 8 15 9 19 10 0 11 4 12 13 13 8 14 16 15 2 16 0 17 14 18 3 19 19 20 0 21 3 22 4 23 3"/>
<path stroke="#80b545" d="M0 25 1 4 2 10 3 17 4 0 5 23 6 12 7 12 8 3 9 0 10 3 11 8 12 19 13 11 14 1 15 1 16 1 17 7 18 0 19 4 20 13 21 1 22 3 23 2M0 5 1 15 2 2 3 0 4 0 5 6 6 5 7 7 8 9 9 2 10 2 11 27 12 41 13 11 14 1 15 14 16 4 17 14 18 21 19 3 20 3 21 14 22 10 23 15"/>
<path stroke="#5fc5f0" d="M0 18 1 26 2 5 3 5 4 5 5 0 6 34 7 1 8 5 9 3 10 15 11 6 12 1 13 2 14 4 15 29 16 5 17 0 18 21 19 0 20 7 21 12 22 6 23 7"/>
<path stroke="#c02a48" d="M0 12 1 16 2 3 3 3 4 27 5 15 6 16 7 6 8 25 9 4 10 5 11 11 12 7 13 16 14 9 15 12 16 18 17 11 18 2 19 41 20 5 21 0 22 13 23 0"/>
<path stroke="#5fc5f0" d="M0 20 1 12 2 1 3 1 4 3 5 1 6 1 7 8 8 10 9 9 10 19 11 4 12 0 13 1 14 2 15 0 16 0 17 0 18 0 19 5 20 4 21 14 22 9 23 2M0 0 1 1 2 0 3 1 4 26 5 9 6 0 7 0 8 21 9 3 10 2 11 6 12 11 13 2 14 0 15 0 16 20 17 3 18 4 19 1 20 0 21 11 22 1 23 0"/>
<path stroke="#c02a48" d="M0 8 1 5 2 19 3 10 4 24 5 24 6 8 7 4 8 1 9 14 10 11 11 8 12 23 13 4 14 7 15 7 16 2 17 5 18 4 19 6 20 4 21 2 22 1 23 12M0 1 1 20 2 3 3 22 4 4 5 27 6 0 7 9 8 23 9 15 10 12 11 27 12 0 13 1 14 2 15 17 16 2 17 12 18 10 19 7 20 0 21 1 22 15 23 0"/>
<path stroke="#1a80c8" d="M0 14 1 12 2 5 3 16 4 3 5 0 6 4 7 14 8 13 9 27 10 11 11 0 12 5 13 20 14 40 15 23 16 0 17 11 18 8 19 2 20 1 21 0 22 4 23 10M0 1 1 6 2 37 3 24 4 5 5 7 6 15 7 4 8 19 9 6 10 1 11 2 12 14 13 25 14 7 15 19 16 3 17 2 18 9 19 1 20 39 21 4 22 0 23 3"/>
<path stroke="#e26030" d="M0 3 1 0 2 2 3 0 4 13 5 0 6 8 7 6 8 17 9 2 10 5 11 12 12 19 13 2 14 25 15 6 16 13 17 6 18 2 19 7 20 8 21 17 22 4 23 11M0 0 1 0 2 13 3 15 4 0 5 1 6 9 7 11 8 1 9 21 10 3 11 4 12 2 13 14 14 8 15 14 16 9 17 0 18 9 19 1 20 1 21 6 22 5 23 2"/>
<path stroke="#f0ba38" d="M0 13 1 25 2 1 3 6 4 10 5 0 6 20 7 0 8 0 9 0 10 1 11 23 12 2 13 4 14 7 15 18 16 22 17 3 18 2 19 1 20 1 21 8 22 3 23 11M0 3 1 20 2 0 3 24 4 7 5 25 6 19 7 19 8 21 9 16 10 6 11 1 12 2 13 4 14 8 15 24 16 0 17 19 18 3 19 5 20 10 21 0 22 1 23 9"/>
<path stroke="#944aa2" d="M0 4 1 16 2 2 3 5 4 0 5 5 6 2 7 13 8 24 9 17 10 7 11 11 12 7 13 5 14 23 15 7 16 5 17 0 18 1 19 15 20 0 21 1 22 13 23 13"/>
<path stroke="#80b545" d="M0 25 1 2 2 22 3 27 4 12 5 20 6 25 7 0 8 10 9 7 10 7 11 12 12 0 13 10 14 1 15 6 16 8 17 16 18 0 19 21 20 14 21 0 22 13 23 4"/>
<path stroke="#944aa2" d="M0 12 1 2 2 24 3 0 4 1 5 14 6 1 7 16 8 26 9 7 10 12 11 21 12 2 13 22 14 10 15 5 16 7 17 0 18 10 19 16 20 7 21 3 22 3 23 0M0 20 1 11 2 1 3 27 4 1 5 12 6 9 7 2 8 28 9 7 10 9 11 14 12 0 13 2 14 9 15 2 16 1 17 7 18 2 19 12 20 9 21 8 22 0 23 3"/>
<path stroke="#80b545" d="M0 29 1 20 2 12 3 1 4 3 5 10 6 3 7 0 8 3 9 17 10 18 11 12 12 22 13 0 14 0 15 9 16 1 17 6 18 22 19 1 20 0 21 9 22 13 23 0M0 0 1 9 2 18 3 3 4 5 5 1 6 10 7 0 8 1 9 18 10 3 11 27 12 11 13 2 14 11 15 24 16 0 17 20 18 13 19 18 20 12 21 18 22 1 23 8"/>
<path stroke="#5fc5f0" d="M0 5 1 11 2 4 3 6 4 8 5 19 6 19 7 11 8 27 9 5 10 0 11 21 12 15 13 5 14 2 15 8 16 0 17 0 18 12 19 5 20 8 21 0 22 15 23 0M0 13 1 25 2 2 3 8 4 3 5 21 6 1 7 21 8 3 9 20 10 0 11 16 12 12 13 21 14 0 15 3 16 0 17 13 18 18 19 8 20 0 21 8 22 7 23 8"/>
<path stroke="#c02a48" d="M0 15 1 9 2 2 3 1 4 2 5 19 6 12 7 8 8 1 9 17 10 7 11 2 12 12 13 13 14 1 15 19 16 4 17 1 18 2 19 18 20 4 21 8 22 4 23 16M0 1 1 24 2 17 3 2 4 25 5 27 6 17 7 10 8 2 9 11 10 1 11 0 12 0 13 0 14 1 15 13 16 12 17 16 18 1 19 0 20 6 21 9 22 2 23 8"/>
<path stroke="#1a80c8" d="M0 3 1 4 2 9 3 32 4 1 5 0 6 34 7 5 8 5 9 14 10 10 11 9 12 9 13 2 14 12 15 4 16 16 17 2 18 6 19 0 20 0 21 7 22 0 23 14M0 11 1 4 2 22 3 1 4 11 5 0 6 6 7 1 8 2 9 12 10 0 11 3 12 6 13 0 14 1 15 11 16 13 17 8 18 2 19 3 20 5 21 7 22 11 23 3"/>
<path stroke="#e26030" d="M0 6 1 19 2 25 3 6 4 5 5 24 6 6 7 10 8 16 9 1 10 14 11 17 12 4 13 13 14 16 15 2 16 11 17 1 18 8 19 1 20 7 21 1 22 1 23 15"/>
<path stroke="#f0ba38" d="M0 6 1 12 2 0 3 9 4 13 5 24 6 2 7 0 8 9 9 8 10 11 11 1 12 2 13 24 14 20 15 12 16 16 17 3 18 19 19 0 20 0 21 0 22 1 23 11"/>
<path stroke="#e26030" d="M0 5 1 5 2 26 3 0 4 0 5 12 6 28 7 0 8 21 9 0 10 0 11 2 12 0 13 6 14 10 15 0 16 13 17 22 18 4 19 0 20 1 21 8 22 17 23 1M0 8 1 14 2 3 3 0 4 1 5 3 6 13 7 3 8 14 9 23 10 3 11 5 12 5 13 5 14 10 15 18 16 8 17 4 18 7 19 17 20 1 21 3 22 9 23 4"/>
<path stroke="#f0ba38" d="M0 1 1 0 2 33 3 0 4 7 5 9 6 18 7 18 8 0 9 3 10 3 11 1 12 17 13 6 14 0 15 14 16 12 17 3 18 10 19 0 20 0 21 7 22 0 23 6M0 1 1 20 2 10 3 5 4 16 5 2 6 12 7 4 8 5 9 4 10 8 11 14 12 2 13 5 14 9 15 3 16 1 17 22 18 9 19 13 20 1 21 6 22 1 23 5"/>
<path stroke="#944aa2" d="M0 13 1 6 2 12 3 6 4 11 5 0 6 17 7 9 8 1 9 5 10 17 11 6 12 11 13 0 14 3 15 6 16 8 17 0 18 0 19 14 20 2 21 9 22 2 23 0M0 5 1 0 2 23 3 3 4 9 5 25 6 8 7 0 8 17 9 0 10 3 11 1 12 2 13 2 14 16 15 5 16 2 17 2 18 11 19 11 20 5 21 10 22 13 23 4"/>
<path stroke="#80b545" d="M0 5 1 16 2 10 3 3 4 10 5 18 6 24 7 1 8 20 9 12 10 8 11 5 12 7 13 6 14 12 15 22 16 1 17 0 18 0 19 17 20 17 21 14 22 6 23 5M0 1 1 1 2 14 3 2 4 10 5 1 6 4 7 28 8 6 9 2 10 26 11 22 12 15 13 18 14 0 15 1 16 0 17 1 18 15 19 7 20 4 21 2 22 0 23 3"/>
<path stroke="#5fc5f0" d="M0 2 1 5 2 4 3 24 4 0 5 23 6 0 7 25 8 24 9 7 10 1 11 1 12 2 13 19 14 8 15 20 16 14 17 22 18 10 19 1 20 6 21 31 22 2 23 16M0 10 1 5 2 0 3 7 4 13 5 2 6 16 7 21 8 16 9 2 10 25 11 6 12 10 13 20 14 2 15 2 16 22 17 9 18 14 19 9 20 0 21 0 22 2 23 5"/>
<path stroke="#c02a48" d="M0 1 1 2 2 6 3 15 4 26 5 7 6 6 7 4 8 19 9 9 10 23 11 8 12 1 13 0 14 8 15 1 16 12 17 14 18 13 19 3 20 6 21 1 22 5 23 11"/>
<path stroke="#1a80c8" d="M0 21 1 5 2 1 3 10 4 0 5 0 6 23 7 5 8 13 9 0 10 20 11 6 12 1 13 20 14 13 15 19 16 23 17 16 18 3 19 20 20 11 21 12 22 2 23 6"/>
<path stroke="#c02a48" d="M0 0 1 7 2 15 3 1 4 22 5 1 6 8 7 17 8 11 9 7 10 12 11 21 12 7 13 0 14 22 15 3 16 1 17 12 18 8 19 5 20 11 21 4 22 3 23 1M0 16 1 10 2 24 3 13 4 1 5 0 6 16 7 8 8 21 9 18 10 7 11 10 12 16 13 1 14 0 15 0 16 1 17 1 18 1 19 6 20 12 21 5 22 1 23 11"/>
<path stroke="#1a80c8" d="M0 4 1 4 2 4 3 23 4 19 5 22 6 15 7 7 8 5 9 27 10 6 11 14 12 18 13 20 14 12 15 3 16 5 17 16 18 5 19 17 20 0 21 14 22 7 23 11M0 3 1 9 2 15 3 5 4 9 5 1 6 0 7 1 8 7 9 11 10 4 11 12 12 26 13 8 14 6 15 7 16 1 17 4 18 3 19 0 20 1 21 8 22 4 23 9"/>
<path stroke="#e26030" d="M0 0 1 4 2 22 3 8 4 0 5 20 6 23 7 25 8 23 9 1 10 18 11 19 12 4 13 0 14 2 15 25 16 0 17 22 18 1 19 0 20 1 21 0 22 1 23 1M0 7 1 1 2 12 3 4 4 0 5 0 6 8 7 9 8 15 9 1 10 9 11 7 12 3 13 15 14 11 15 25 16 2 17 12 18 8 19 0 20 1 21 18 22 8 23 2"/>
<path stroke="#f0ba38" d="M0 3 1 22 2 3 3 0 4 2 5 3 6 12 7 5 8 0 9 0 10 7 11 18 12 12 13 9 14 8 15 14 16 20 17 16 18 18 19 13 20 2 21 3 22 10 23 0M0 20 1 6 2 1 3 2 4 1 5 9 6 18 7 9 8 0 9 0 10 0 11 5 12 10 13 5 14 19 15 18 16 2 17 10 18 3 19 3 20 12 21 0 22 1 23 4"/>
<path stroke="#944aa2" d="M0 17 1 8 2 26 3 0 4 16 5 2 6 0 7 11 8 23 9 1 10 4 11 17 12 6 13 9 14 12 15 5 16 23 17 10 18 4 19 19 20 0 21 12 22 0 23 0M0 26 1 0 2 0 3 9 4 1 5 6 6 25 7 11 8 3 9 3 10 4 11 4 12 16 13 7 14 21 15 1 16 15 17 2 18 6 19 8 20 5 21 5 22 3 23 8"/>
<path stroke="#80b545" d="M0 0 1 14 2 17 3 8 4 2 5 2 6 17 7 9 8 0 9 19 10 6 11 6 12 24 13 0 14 14 15 1 16 18 17 3 18 3 19 3 20 1 21 8 22 11 23 12"/>
<path stroke="#5fc5f0" d="M0 0 1 8 2 18 3 2 4 0 5 9 6 2 7 6 8 24 9 2 10 20 11 9 12 26 13 8 14 8 15 0 16 14 17 21 18 0 19 5 20 0 21 0 22 0 23 15"/>
<path stroke="#80b545" d="M0 25 1 9 2 3 3 1 4 0 5 0 6 3 7 13 8 12 9 1 10 0 11 13 12 0 13 21 14 10 15 5 16 13 17 1 18 9 19 19 20 0 21 4 22 3 23 14M0 3 1 18 2 26 3 10 4 6 5 2 6 7 7 8 8 7 9 26 10 0 11 8 12 5 13 1 14 15 15 1 16 0 17 3 18 13 19 0 20 19 21 4 22 16 23 3"/>
<path stroke="#5fc5f0" d="M0 1 1 24 2 12 3 0 4 4 5 7 6 5 7 0 8 1 9 3 10 0 11 6 12 4 13 0 14 17 15 2 16 18 17 0 18 40 19 16 20 2 21 2 22 2 23 0M0 19 1 15 2 2 3 24 4 16 5 1 6 15 7 4 8 1 9 5 10 9 11 0 12 21 13 16 14 1 15 1 16 9 17 2 18 9 19 16 20 10 21 31 22 10 23 3"/>
<path stroke="#c02a48" d="M0 11 1 9 2 1 3 40 4 15 5 1 6 13 7 5 8 1 9 24 10 1 11 1 12 22 13 15 14 17 15 0 16 1 17 38 18 10 19 7 20 5 21 1 22 2 23 1M0 1 1 1 2 1 3 11 4 19 5 23 6 11 7 5 8 4 9 4 10 4 11 14 12 19 13 28 14 1 15 4 16 9 17 1 18 0 19 4 20 1 21 16 22 4 23 0"/>
<path stroke="#1a80c8" d="M0 15 1 5 2 4 3 14 4 16 5 2 6 4 7 16 8 8 9 13 10 0 11 0 12 22 13 3 14 0 15 0 16 8 17 1 18 1 19 6 20 0 21 1 22 8 23 0M0 0 1 23 2 1 3 8 4 22 5 2 6 0 7 27 8 19 9 11 10 16 11 11 12 3 13 10 14 22 15 0 16 4 17 23 18 21 19 0 20 0 21 8 22 1 23 1"/>
<path stroke="#e26030" d="M0 11 1 8 2 0 3 37 4 15 5 16 6 16 7 19 8 8 9 23 10 14 11 17 12 14 13 5 14 15 15 7 16 13 17 19 18 7 19 3 20 6 21 1 22 6 23 33M0 0 1 0 2 38 3 10 4 0 5 13 6 14 7 12 8 5 9 7 10 23 11 3 12 5 13 16 14 3 15 2 16 17 17 1 18 8 19 18 20 1 21 18 22 14 23 5"/>
<path stroke="#f0ba38" d="M0 8 1 0 2 24 3 0 4 0 5 11 6 21 7 6 8 1 9 1 10 16 11 0 12 5 13 6 14 0 15 1 16 7 17 3 18 2 19 5 20 15 21 1 22 7 23 1"/>
<path stroke="#944aa2" d="M0 14 1 6 2 0 3 4 4 16 5 22 6 0 7 2 8 1 9 18 10 6 11 20 12 15 13 9 14 9 15 4 16 18 17 8 18 8 19 0 20 8 21 17 22 0 23 4"/>
<path stroke="#f0ba38" d="M0 11 1 18 2 12 3 13 4 9 5 36 6 1 7 14 8 1 9 2 10 1 11 12 12 6 13 0 14 19 15 9 16 6 17 0 18 1 19 1 20 1 21 9 22 2 23 2M0 23 1 5 2 6 3 21 4 13 5 2 6 3 7 1 8 1 9 26 10 8 11 20 12 8 13 8 14 1 15 12 16 0 17 2 18 10 19 2 20 9 21 12 22 15 23 10"/>
<path stroke="#944aa2" d="M0 20 1 2 2 0 3 8 4 3 5 8 6 18 7 16 8 7 9 24 10 0 11 12 12 9 13 3 14 5 15 16 16 1 17 8 18 1 19 4 20 1 21 1 22 2 23 12M0 23 1 20 2 0 3 7 4 5 5 15 6 15 7 26 8 3 9 13 10 19 11 23 12 3 13 3 14 14 15 20 16 2 17 4 18 17 19 4 20 1 21 9 22 3 23 0"/>
<path stroke="#80b545" d="M0 22 1 7 2 24 3 10 4 6 5 14 6 9 7 20 8 8 9 0 10 0 11 2 12 3 13 9 14 23 15 6 16 3 17 32 18 1 19 16 20 10 21 9 22 12 23 15M0 6 1 1 2 17 3 25 4 24 5 5 6 0 7 12 8 5 9 0 10 6 11 18 12 1 13 26 14 12 15 2 16 0 17 0 18 11 19 32 20 5 21 0 22 31 23 0"/>
<path stroke="#5fc5f0" d="M0 2 1 2 2 0 3 9 4 26 5 10 6 2 7 21 8 5 9 1 10 10 11 10 12 2 13 5 14 15 15 5 16 10 17 2 18 14 19 1 20 1 21 14 22 7 23 0M0 7 1 18 2 21 3 10 4 0 5 0 6 4 7 15 8 2 9 17 10 7 11 13 12 21 13 21 14 10 15 8 16 17 17 1 18 2 19 6 20 0 21 3 22 14 23 9"/>
<path stroke="#c02a48" d="M0 29 1 26 2 2 3 11 4 11 5 6 6 1 7 0 8 4 9 28 10 26 11 3 12 27 13 13 14 4 15 2 16 1 17 1 18 17 19 11 20 8 21 2 22 8 23 13M0 13 1 19 2 1 3 1 4 0 5 19 6 3 7 1 8 10 9 0 10 3 11 1 12 21 13 17 14 1 15 1 16 14 17 18 18 14 19 3 20 0 21 0 22 0 23 1"/>
<path stroke="#1a80c8" d="M0 2 1 1 2 4 3 36 4 5 5 16 6 7 7 13 8 20 9 3 10 15 11 2 12 1 13 2 14 26 15 26 16 7 17 13 18 4 19 6 20 0 21 7 22 0 23 3"/>
<path stroke="#e26030" d="M0 13 1 0 2 21 3 4 4 0 5 8 6 2 7 4 8 8 9 8 10 5 11 13 12 0 13 2 14 0 15 23 16 2 17 5 18 2 19 7 20 0 21 13 22 3 23 12"/>
<path stroke="#1a80c8" d="M0 1 1 1 2 20 3 5 4 27 5 8 6 2 7 11 8 13 9 17 10 4 11 20 12 20 13 0 14 20 15 4 16 10 17 16 18 6 19 7 20 15 21 6 22 5 23 0M0 15 1 10 2 19 3 16 4 9 5 20 6 11 7 0 8 9 9 6 10 8 11 6 12 7 13 11 14 3 15 18 16 0 17 0 18 8 19 1 20 7 21 11 22 8 23 6"/>
<path stroke="#e26030" d="M0 5 1 9 2 19 3 2 4 3 5 4 6 0 7 16 8 4 9 23 10 0 11 40 12 0 13 22 14 0 15 14 16 0 17 4 18 1 19 1 20 8 21 5 22 6 23 8M0 13 1 22 2 6 3 26 4 27 5 4 6 0 7 1 8 3 9 25 10 11 11 28 12 1 13 1 14 1 15 1 16 4 17 27 18 3 19 20 20 12 21 14 22 0 23 1"/>
<path stroke="#f0ba38" d="M0 0 1 1 2 0 3 1 4 8 5 0 6 5 7 13 8 1 9 0 10 0 11 22 12 26 13 7 14 8 15 7 16 1 17 28 18 12 19 8 20 6 21 12 22 4 23 0M0 8 1 0 2 37 3 27 4 21 5 23 6 5 7 0 8 4 9 14 10 3 11 17 12 9 13 7 14 1 15 17 16 2 17 13 18 7 19 6 20 13 21 5 22 24 23 25"/>
<path stroke="#944aa2" d="M0 0 1 13 2 8 3 2 4 12 5 28 6 19 7 1 8 0 9 0 10 9 11 5 12 2 13 3 14 12 15 18 16 3 17 0 18 9 19 1 20 8 21 13 22 16 23 10M0 17 1 11 2 3 3 20 4 19 5 5 6 0 7 18 8 24 9 20 10 2 11 19 12 11 13 10 14 1 15 7 16 4 17 14 18 1 19 5 20 13 21 17 22 41 23 0"/>
<path stroke="#80b545" d="M0 7 1 1 2 0 3 15 4 15 5 5 6 2 7 4 8 11 9 3 10 3 11 7 12 30 13 0 14 2 15 2 16 33 17 1 18 1 19 1 20 0 21 11 22 9 23 0M0 0 1 5 2 0 3 4 4 1 5 0 6 16 7 0 8 18 9 13 10 21 11 0 12 2 13 7 14 6 15 0 16 6 17 3 18 18 19 1 20 0 21 1 22 2 23 1"/>
<path stroke="#5fc5f0" d="M0 0 1 25 2 0 3 1 4 27 5 24 6 1 7 7 8 13 9 9 10 2 11 2 12 14 13 2 14 1 15 9 16 6 17 4 18 14 19 1 20 12 21 12 22 1 23 1"/>
<path stroke="#c02a48" d="M0 8 1 23 2 24 3 14 4 16 5 2 6 4 7 8 8 10 9 4 10 3 11 2 12 13 13 4 14 21 15 1 16 0 17 16 18 1 19 6 20 17 21 6 22 0 23 11"/>
<path stroke="#5fc5f0" d="M0 11 1 0 2 23 3 0 4 2 5 1 6 2 7 6 8 27 9 20 10 33 11 4 12 12 13 11 14 15 15 4 16 1 17 20 18 0 19 0 20 28 21 5 22 0 23 6M0 19 1 0 2 6 3 9 4 15 5 17 6 0 7 7 8 26 9 4 10 0 11 5 12 1 13 14 14 25 15 19 16 12 17 23 18 2 19 9 20 6 21 7 22 3 23 14"/>
<path stroke="#c02a48" d="M0 0 1 2 2 37 3 13 4 18 5 0 6 20 7 4 8 0 9 3 10 0 11 35 12 2 13 12 14 7 15 18 16 2 17 5 18 0 19 18 20 7 21 0 22 8 23 0M0 16 1 7 2 2 3 26 4 3 5 2 6 27 7 7 8 0 9 0 10 6 11 13 12 8 13 1 14 9 15 1 16 21 17 6 18 17 19 17 20 7 21 3 22 1 23 2"/>
<path stroke="#1a80c8" d="M0 2 1 0 2 10 3 20 4 1 5 2 6 5 7 8 8 27 9 40 10 17 11 12 12 0 13 16 14 19 15 6 16 12 17 1 18 0 19 0 20 18 21 15 22 11 23 0M0 6 1 0 2 0 3 24 4 12 5 1 6 3 7 1 8 2 9 11 10 7 11 23 12 0 13 15 14 33 15 26 16 5 17 6 18 3 19 12 20 19 21 8 22 0 23 10"/>
<path stroke="#e26030" d="M0 26 1 1 2 3 3 26 4 1 5 11 6 1 7 4 8 1 9 0 10 22 11 4 12 2 13 24 14 11 15 0 16 1 17 4 18 9 19 4 20 5 21 7 22 3 23 2M0 1 1 1 2 6 3 0 4 8 5 42 6 1 7 15 8 1 9 16 10 19 11 25 12 16 13 9 14 1 15 2 16 5 17 6 18 3 19 7 20 12 21 4 22 11 23 3"/>
<path stroke="#f0ba38" d="M0 20 1 3 2 0 3 15 4 3 5 12 6 1 7 3 8 8 9 14 10 14 11 1 12 8 13 0 14 0 15 12 16 6 17 12 18 8 19 3 20 3 21 0 22 10 23 1M0 7 1 31 2 2 3 16 4 1 5 2 6 18 7 5 8 8 9 10 10 12 11 4 12 1 13 14 14 8 15 24 16 17 17 0 18 0 19 16 20 17 21 9 22 9 23 15"/>
<path stroke="#944aa2" d="M0 1 1 7 2 0 3 17 4 13 5 1 6 1 7 17 8 0 9 2 10 18 11 0 12 24 13 14 14 1 15 1 16 0 17 15 18 18 19 19 20 1 21 14 22 5 23 0"/>
<path stroke="#80b545" d="M0 18 1 1 2 3 3 10 4 1 5 17 6 9 7 14 8 27 9 4 10 6 11 6 12 13 13 12 14 1 15 23 16 36 17 9 18 21 19 2 20 0 21 6 22 15 23 0"/>
<path stroke="#944aa2" d="M0 4 1 22 2 8 3 6 4 5 5 0 6 0 7 3 8 11 9 23 10 22 11 0 12 13 13 1 14 17 15 14 16 1 17 10 18 11 19 0 20 17 21 1 22 7 23 2M0 15 1 21 2 7 3 13 4 0 5 21 6 0 7 2 8 3 9 3 10 9 11 0 12 0 13 22 14 16 15 5 16 0 17 15 18 19 19 1 20 13 21 17 22 16 23 1"/>
<path stroke="#80b545" d="M0 8 1 25 2 1 3 1 4 1 5 0 6 7 7 13 8 4 9 4 10 8 11 25 12 22 13 4 14 1 15 3 16 0 17 0 18 4 19 5 20 4 21 5 22 12 23 0M0 4 1 3 2 2 3 35 4 0 5 12 6 0 7 22 8 10 9 18 10 1 11 14 12 0 13 24 14 19 15 3 16 10 17 15 18 6 19 1 20 6 21 1 22 7 23 12"/>
<path stroke="#5fc5f0" d="M0 0 1 4 2 26 3 2 4 1 5 20 6 20 7 16 8 1 9 17 10 10 11 9 12 24 13 20 14 0 15 2 16 18 17 5 18 1 19 1 20 16 21 1 22 1 23 1M0 23 1 22 2 16 3 3 4 2 5 17 6 6 7 4 8 23 9 16 10 25 11 0 12 14 13 18 14 18 15 5 16 11 17 58 18 1 19 5 20 3 21 0 22 3 23 0"/>
<path stroke="#c02a48" d="M0 4 1 10 2 9 3 11 4 1 5 22 6 15 7 0 8 28 9 0 10 8 11 11 12 0 13 0 14 39 15 2 16 16 17 21 18 1 19 0 20 3 21 2 22 1 23 0M0 0 1 6 2 19 3 1 4 0 5 11 6 20 7 7 8 17 9 1 10 3 11 0 12 52 13 5 14 0 15 8 16 5 17 9 18 17 19 33 20 15 21 4 22 10 23 1"/>
<path stroke="#1a80c8" d="M0 3 1 23 2 1 3 0 4 0 5 0 6 1 7 0 8 4 9 3 10 6 11 18 12 7 13 27 14 20 15 6 16 0 17 15 18 20 19 11 20 6 21 0 22 0 23 24M0 0 1 0 2 18 3 18 4 16 5 0 6 1 7 0 8 3 9 11 10 1 11 0 12 16 13 58 14 19 15 16 16 0 17 20 18 8 19 14 20 1 21 0 22 12 23 0"/>
<path stroke="#e26030" d="M0 15 1 16 2 0 3 2 4 13 5 5 6 8 7 3 8 20 9 21 10 0 11 26 12 11 13 12 14 8 15 16 16 1 17 0 18 2 19 5 20 0 21 16 22 7 23 10"/>
<path stroke="#f0ba38" d="M0 6 1 22 2 1 3 4 4 7 5 2 6 2 7 4 8 0 9 9 10 1 11 18 12 19 13 0 14 1 15 8 16 2 17 1 18 11 19 0 20 4 21 2 22 0 23 2"/>
<path stroke="#e26030" d="M0 1 1 26 2 17 3 22 4 1 5 54 6 9 7 5 8 8 9 14 10 14 11 2 12 0 13 1 14 0 15 1 16 27 17 15 18 10 19 0 20 1 21 0 22 5 23 11M0 2 1 1 2 26 3 27 4 6 5 17 6 9 7 0 8 18 9 6 10 16 11 1 12 0 13 7 14 16 15 2 16 19 17 5 18 0 19 14 20 14 21 1 22 0 23 4"/>
<path stroke="#f0ba38" d="M0 3 1 23 2 7 3 9 4 0 5 23 6 27 7 6 8 30 9 2 10 13 11 0 12 7 13 12 14 9 15 0 16 15 17 3 18 2 19 28 20 15 21 38 22 1 23 11M0 3 1 10 2 0 3 6 4 22 5 2 6 5 7 4 8 8 9 4 10 10 11 0 12 10 13 1 14 4 15 2 16 0 17 20 18 1 19 1 20 18 21 0 22 14 23 3"/>
<path stroke="#944aa2" d="M0 12 1 0 2 2 3 1 4 16 5 11 6 0 7 19 8 13 9 22 10 1 11 1 12 0 13 7 14 52 15 2 16 0 17 16 18 20 19 2 20 2 21 0 22 6 23 3M0 11 1 4 2 19 3 2 4 0 5 7 6 1 7 3 8 0 9 2 10 20 11 1 12 4 13 16 14 1 15 3 16 18 17 5 18 0 19 2 20 10 21 17 22 1 23 1"/>
<path stroke="#80b545" d="M0 16 1 10 2 1 3 5 4 7 5 0 6 0 7 1 8 16 9 4 10 0 11 54 12 4 13 0 14 24 15 12 16 0 17 6 18 1 19 4 20 15 21 9 22 1 23 1M0 10 1 0 2 6 3 2 4 24 5 21 6 25 7 10 8 2 9 15 10 4 11 6 12 8 13 31 14 34 15 7 16 4 17 1 18 15 19 4 20 0 21 12 22 7 23 0"/>
<path stroke="#5fc5f0" d="M0 20 1 8 2 21 3 3 4 1 5 5 6 4 7 1 8 24 9 8 10 0 11 22 12 0 13 13 14 10 15 0 16 7 17 15 18 0 19 4 20 1 21 0 22 0 23 12M0 9 1 4 2 1 3 1 4 5 5 7 6 8 7 0 8 7 9 11 10 2 11 21 12 14 13 4 14 3 15 0 16 0 17 3 18 5 19 7 20 7 21 1 22 1 23 13"/>
<path stroke="#c02a48" d="M0 25 1 22 2 3 3 2 4 4 5 11 6 3 7 7 8 13 9 3 10 2 11 3 12 24 13 0 14 17 15 9 16 2 17 0 18 5 19 3 20 0 21 4 22 6 23 1"/>
<path stroke="#1a80c8" d="M0 4 1 3 2 0 3 1 4 25 5 10 6 0 7 19 8 2 9 27 10 0 11 1 12 25 13 3 14 1 15 3 16 5 17 1 18 14 19 8 20 4 21 1 22 3 23 0"/>
<path stroke="#c02a48" d="M0 2 1 20 2 12 3 3 4 20 5 14 6 3 7 2 8 4 9 4 10 20 11 0 12 2 13 8 14 0 15 1 16 2 17 3 18 0 19 5 20 8 21 7 22 0 23 14M0 21 1 17 2 64 3 2 4 2 5 3 6 4 7 4 8 1 9 1 10 12 11 9 12 10 13 2 14 12 15 15 16 6 17 6 18 5 19 0 20 30 21 2 22 2 23 5"/>
<path stroke="#1a80c8" d="M0 18 1 1 2 3 3 22 4 2 5 6 6 0 7 13 8 1 9 1 10 24 11 10 12 22 13 3 14 9 15 11 16 1 17 18 18 2 19 20 20 20 21 1 22 7 23 11M0 2 1 7 2 11 3 13 4 25 5 4 6 58 7 0 8 24 9 16 10 9 11 4 12 4 13 0 14 5 15 12 16 10 17 39 18 2 19 5 20 0 21 0 22 8 23 0"/>
<path stroke="#e26030" d="M0 0 1 8 2 20 3 16 4 1 5 10 6 27 7 23 8 7 9 3 10 5 11 17 12 7 13 20 14 15 15 13 16 20 17 7 18 1 19 14 20 0 21 1 22 2 23 9M0 24 1 50 2 1 3 2 4 17 5 1 6 1 7 17 8 21 9 1 10 0 11 2 12 0 13 17 14 5 15 25 16 10 17 4 18 6 19 14 20 16 21 2 22 2 23 12"/>
<path stroke="#f0ba38" d="M0 0 1 6 2 18 3 14 4 25 5 15 6 4 7 26 8 8 9 29 10 0 11 0 12 23 13 0 14 10 15 1 16 0 17 3 18 12 19 13 20 1 21 9 22 8 23 6M0 1 1 5 2 4 3 25 4 1 5 1 6 1 7 26 8 20 9 0 10 62 11 13 12 17 13 15 14 18 15 12 16 5 17 4 18 5 19 7 20 3 21 0 22 0 23 3"/>
<path stroke="#944aa2" d="M0 2 1 24 2 7 3 7 4 2 5 27 6 0 7 1 8 24 9 2 10 19 11 4 12 0 13 6 14 0 15 19 16 3 17 19 18 5 19 2 20 11 21 3 22 12 23 11M0 2 1 16 2 0 3 3 4 17 5 10 6 4 7 52 8 0 9 0 10 1 11 7 12 6 13 8 14 0 15 5 16 13 17 13 18 7 19 10 20 0 21 2 22 5 23 14"/>
<path stroke="#80b545" d="M0 1 1 0 2 27 3 7 4 22 5 1 6 22 7 5 8 0 9 10 10 1 11 18 12 4 13 13 14 13 15 9 16 23 17 22 18 1 19 7 20 7 21 17 22 6 23 0"/>
<path stroke="#5fc5f0" d="M0 11 1 10 2 1 3 5 4 44 5 25 6 9 7 1 8 14 9 1 10 4 11 17 12 3 13 0 14 4 15 2 16 4 17 8 18 10 19 6 20 5 21 2 22 13 23 11"/>
<path stroke="#80b545" d="M0 15 1 1 2 3 3 1 4 16 5 6 6 1 7 5 8 50 9 22 10 2 11 0 12 2 13 0 14 0 15 3 16 13 17 14 18 17 19 15 20 27 21 1 22 34 23 0"/>
</g></g>
<path d="M48.4,111.5v-1.2M48.4,14.8v1.2M70.8,111.5v-1.2M70.8,14.8v1.2M93.2,111.5v-1.2M93.2,14.8v1.2M115.6,111.5v-1.2M115.6,14.8v1.2M30.5,87.3h1.2M133.5,87.3h-1.2M30.5,63.1h1.2M133.5,63.1h-1.2M30.5,39h1.2M133.5,39h-1.2" stroke="#858585" stroke-width="1" fill="none"/>
<text class="tk" x="27.9" y="114.3" text-anchor="end">0</text>
<text class="tk" x="27.9" y="90.1" text-anchor="end">0.2</text>
<text class="tk" x="27.9" y="66" text-anchor="end">0.4</text>
<text class="tk" x="27.9" y="41.8" text-anchor="end">0.6</text>
<text class="tk" x="27.9" y="17.6" text-anchor="end">0.8</text>
<text class="tk" x="48.4" y="122.3" text-anchor="middle">5</text>
<text class="tk" x="70.8" y="122.3" text-anchor="middle">10</text>
<text class="tk" x="93.2" y="122.3" text-anchor="middle">15</text>
<text class="tk" x="115.6" y="122.3" text-anchor="middle">20</text>
<text class="yl" transform="translate(13.8,63.1) rotate(-90)" text-anchor="middle">Precipitation ratio</text>
<text class="rl" x="34.4" y="133.1">(I)</text>
<text class="xl" x="65.8" y="132.8">Time/[h]</text>
<text class="tt" x="91.6" y="28.5">Total: 313</text>
<rect x="165.5" y="14.8" width="103" height="96.5" fill="none" stroke="#858585" stroke-width="1"/>
<clipPath id="cpa2"><rect x="164.9" y="14.2" width="104.2" height="97.7"/></clipPath>
<g clip-path="url(#cpa2)"><g class="pl" transform="translate(165.5 111.3) scale(4.4783 -0.6031)">
<path stroke="#1a80c8" d="M0 17 1 7 2 14 3 35 4 36 5 23 6 5 7 1 8 4 9 4 10 4 11 9 12 4 13 5 14 6 15 3 16 3 17 3 18 6 19 5 20 3 21 8 22 4 23 2M0 13 1 6 2 3 3 24 4 22 5 32 6 3 7 2 8 4 9 8 10 9 11 4 12 3 13 4 14 9 15 4 16 3 17 5 18 4 19 4 20 12 21 6 22 4 23 3"/>
<path stroke="#e26030" d="M0 17 1 15 2 17 3 25 4 36 5 29 6 5 7 7 8 4 9 2 10 26 11 7 12 3 13 7 14 3 15 4 16 2 17 12 18 5 19 7 20 3 21 2 22 8 23 3M0 29 1 9 2 10 3 40 4 29 5 9 6 5 7 24 8 3 9 2 10 2 11 9 12 3 13 3 14 2 15 6 16 5 17 2 18 2 19 4 20 4 21 1 22 7 23 2"/>
<path stroke="#f0ba38" d="M0 9 1 13 2 10 3 40 4 13 5 10 6 1 7 2 8 4 9 2 10 1 11 3 12 4 13 4 14 26 15 3 16 14 17 3 18 5 19 2 20 3 21 2 22 4 23 3M0 16 1 11 2 26 3 26 4 24 5 18 6 5 7 3 8 6 9 2 10 2 11 2 12 6 13 2 14 3 15 3 16 2 17 4 18 4 19 11 20 3 21 4 22 12 23 8"/>
<path stroke="#944aa2" d="M0 25 1 37 2 8 3 22 4 25 5 6 6 7 7 3 8 5 9 2 10 2 11 3 12 2 13 4 14 8 15 4 16 5 17 8 18 5 19 3 20 18 21 5 22 3 23 3M0 11 1 6 2 32 3 16 4 31 5 16 6 4 7 3 8 2 9 8 10 6 11 2 12 7 13 5 14 2 15 2 16 5 17 5 18 12 19 4 20 7 21 3 22 4 23 4"/>
<path stroke="#80b545" d="M0 29 1 40 2 16 3 17 4 20 5 6 6 3 7 4 8 4 9 15 10 8 11 6 12 26 13 3 14 3 15 3 16 4 17 13 18 3 19 3 20 4 21 6 22 5 23 6M0 20 1 13 2 21 3 8 4 36 5 5 6 10 7 3 8 5 9 26 10 4 11 5 12 3 13 3 14 8 15 3 16 6 17 4 18 3 19 7 20 2 21 5 22 2 23 3"/>
<path stroke="#5fc5f0" d="M0 9 1 7 2 14 3 40 4 23 5 6 6 14 7 5 8 2 9 3 10 4 11 3 12 4 13 5 14 4 15 9 16 4 17 9 18 3 19 38 20 1 21 2 22 4 23 7"/>
<path stroke="#c02a48" d="M0 18 1 18 2 12 3 40 4 12 5 32 6 2 7 8 8 3 9 1 10 5 11 5 12 2 13 7 14 2 15 7 16 6 17 11 18 3 19 7 20 3 21 6 22 5 23 6"/>
<path stroke="#5fc5f0" d="M0 12 1 23 2 24 3 28 4 21 5 7 6 9 7 8 8 20 9 7 10 9 11 6 12 3 13 6 14 2 15 4 16 4 17 7 18 3 19 3 20 3 21 5 22 1 23 1M0 38 1 20 2 12 3 20 4 26 5 32 6 3 7 4 8 2 9 7 10 20 11 6 12 2 13 2 14 4 15 5 16 6 17 3 18 4 19 3 20 3 21 3 22 2 23 7"/>
<path stroke="#c02a48" d="M0 9 1 18 2 20 3 40 4 27 5 13 6 7 7 5 8 4 9 5 10 10 11 4 12 2 13 3 14 4 15 3 16 5 17 7 18 1 19 2 20 3 21 6 22 2 23 7M0 48 1 38 2 14 3 8 4 25 5 12 6 5 7 3 8 5 9 5 10 4 11 5 12 4 13 5 14 6 15 4 16 12 17 2 18 3 19 4 20 9 21 20 22 5 23 20"/>
<path stroke="#1a80c8" d="M0 38 1 18 2 10 3 18 4 16 5 17 6 6 7 3 8 3 9 5 10 8 11 4 12 8 13 7 14 2 15 3 16 1 17 2 18 3 19 2 20 4 21 3 22 5 23 3M0 6 1 13 2 36 3 13 4 21 5 13 6 6 7 5 8 11 9 7 10 4 11 5 12 5 13 4 14 3 15 5 16 6 17 3 18 4 19 5 20 5 21 10 22 4 23 3"/>
<path stroke="#e26030" d="M0 19 1 10 2 4 3 27 4 22 5 27 6 2 7 1 8 6 9 9 10 7 11 24 12 4 13 5 14 3 15 13 16 9 17 1 18 8 19 1 20 4 21 3 22 9 23 4M0 33 1 14 2 10 3 54 4 22 5 31 6 10 7 4 8 3 9 8 10 3 11 5 12 6 13 7 14 3 15 10 16 8 17 4 18 4 19 2 20 5 21 6 22 3 23 4"/>
<path stroke="#f0ba38" d="M0 10 1 9 2 15 3 4 4 15 5 16 6 7 7 7 8 7 9 7 10 3 11 2 12 1 13 3 14 4 15 3 16 2 17 6 18 11 19 3 20 8 21 5 22 2 23 4M0 24 1 40 2 27 3 19 4 30 5 13 6 3 7 5 8 11 9 1 10 5 11 3 12 2 13 5 14 4 15 5 16 5 17 2 18 9 19 9 20 3 21 4 22 2 23 5"/>
<path stroke="#944aa2" d="M0 12 1 17 2 34 3 18 4 21 5 23 6 10 7 4 8 15 9 5 10 4 11 2 12 2 13 4 14 4 15 2 16 14 17 6 18 5 19 4 20 4 21 1 22 4 23 2"/>
<path stroke="#80b545" d="M0 19 1 15 2 40 3 17 4 26 5 12 6 3 7 5 8 2 9 11 10 9 11 3 12 3 13 3 14 10 15 2 16 2 17 2 18 2 19 9 20 3 21 4 22 4 23 4"/>
<path stroke="#944aa2" d="M0 26 1 40 2 19 3 30 4 74 5 13 6 9 7 3 8 2 9 3 10 5 11 3 12 6 13 3 14 6 15 4 16 8 17 3 18 4 19 4 20 2 21 5 22 3 23 3"/>
<path stroke="#80b545" d="M0 14 1 18 2 6 3 18 4 28 5 12 6 3 7 3 8 24 9 9 10 4 11 6 12 8 13 5 14 2 15 5 16 10 17 3 18 3 19 2 20 4 21 2 22 6 23 6"/>
<path stroke="#5fc5f0" d="M0 40 1 20 2 20 3 30 4 32 5 8 6 4 7 2 8 3 9 24 10 5 11 6 12 2 13 4 14 3 15 3 16 6 17 4 18 2 19 5 20 5 21 5 22 4 23 4"/>
</g></g>
<path d="M183.4,111.3v-1.2M183.4,14.8v1.2M205.8,111.3v-1.2M205.8,14.8v1.2M228.2,111.3v-1.2M228.2,14.8v1.2M250.6,111.3v-1.2M250.6,14.8v1.2M165.5,87.2h1.2M268.5,87.2h-1.2M165.5,63h1.2M268.5,63h-1.2M165.5,38.9h1.2M268.5,38.9h-1.2" stroke="#858585" stroke-width="1" fill="none"/>
<text class="tk" x="162.9" y="114.1" text-anchor="end">0</text>
<text class="tk" x="162.9" y="90" text-anchor="end">0.2</text>
<text class="tk" x="162.9" y="65.8" text-anchor="end">0.4</text>
<text class="tk" x="162.9" y="41.7" text-anchor="end">0.6</text>
<text class="tk" x="162.9" y="17.6" text-anchor="end">0.8</text>
<text class="tk" x="183.4" y="122.3" text-anchor="middle">5</text>
<text class="tk" x="205.8" y="122.3" text-anchor="middle">10</text>
<text class="tk" x="228.2" y="122.3" text-anchor="middle">15</text>
<text class="tk" x="250.6" y="122.3" text-anchor="middle">20</text>
<text class="yl" transform="translate(148.8,63) rotate(-90)" text-anchor="middle">Precipitation ratio</text>
<text class="rl" x="168" y="133.1">(II)</text>
<text class="xl" x="201" y="132.8">Time/[h]</text>
<text class="tt" x="231.1" y="28.5">Total: 27</text>
<rect x="301.5" y="14.8" width="102.3" height="96.5" fill="none" stroke="#858585" stroke-width="1"/>
<clipPath id="cpa3"><rect x="300.9" y="14.2" width="103.5" height="97.7"/></clipPath>
<g clip-path="url(#cpa3)"><g class="pl" transform="translate(301.5 111.3) scale(4.4478 -0.6031)">
<path stroke="#1a80c8" d="M0 4 1 7 2 7 3 4 4 3 5 5 6 6 7 4 8 3 9 5 10 6 11 3 12 5 13 8 14 5 15 4 16 7 17 6 18 10 19 5 20 11 21 13 22 8 23 15M0 18 1 17 2 14 3 4 4 4 5 4 6 3 7 7 8 4 9 4 10 5 11 2 12 3 13 3 14 7 15 7 16 8 17 9 18 3 19 8 20 17 21 10 22 14 23 23"/>
<path stroke="#e26030" d="M0 12 1 7 2 10 3 8 4 5 5 3 6 5 7 5 8 4 9 4 10 2 11 3 12 7 13 5 14 3 15 9 16 8 17 10 18 6 19 8 20 8 21 30 22 27 23 9M0 3 1 12 2 15 3 6 4 9 5 5 6 3 7 5 8 8 9 2 10 5 11 5 12 2 13 8 14 9 15 4 16 10 17 5 18 6 19 20 20 18 21 24 22 27 23 24"/>
<path stroke="#f0ba38" d="M0 9 1 7 2 10 3 6 4 8 5 8 6 5 7 5 8 4 9 3 10 4 11 3 12 5 13 5 14 7 15 3 16 9 17 3 18 4 19 9 20 12 21 23 22 14 23 8M0 18 1 7 2 5 3 12 4 3 5 8 6 2 7 6 8 4 9 3 10 3 11 5 12 2 13 4 14 4 15 8 16 3 17 10 18 5 19 6 20 25 21 30 22 16 23 9"/>
<path stroke="#944aa2" d="M0 12 1 8 2 10 3 11 4 4 5 2 6 4 7 4 8 3 9 7 10 8 11 3 12 6 13 8 14 8 15 9 16 5 17 7 18 15 19 15 20 12 21 27 22 27 23 17M0 16 1 4 2 9 3 7 4 5 5 4 6 2 7 6 8 3 9 3 10 3 11 3 12 6 13 6 14 4 15 4 16 5 17 8 18 6 19 11 20 14 21 18 22 20 23 6"/>
<path stroke="#80b545" d="M0 6 1 13 2 9 3 14 4 4 5 5 6 8 7 3 8 3 9 4 10 4 11 6 12 4 13 3 14 6 15 9 16 10 17 1 18 6 19 6 20 22 21 18 22 27 23 22M0 11 1 5 2 5 3 6 4 5 5 7 6 6 7 5 8 2 9 6 10 4 11 7 12 3 13 1 14 4 15 9 16 8 17 5 18 9 19 13 20 20 21 15 22 19 23 15"/>
<path stroke="#5fc5f0" d="M0 16 1 12 2 7 3 6 4 6 5 6 6 5 7 2 8 3 9 4 10 8 11 1 12 5 13 4 14 7 15 4 16 7 17 10 18 7 19 12 20 19 21 14 22 24 23 13"/>
<path stroke="#c02a48" d="M0 9 1 17 2 15 3 9 4 5 5 7 6 2 7 4 8 2 9 8 10 6 11 4 12 4 13 1 14 8 15 9 16 4 17 7 18 9 19 5 20 25 21 30 22 20 23 14"/>
<path stroke="#5fc5f0" d="M0 14 1 13 2 11 3 13 4 3 5 5 6 2 7 5 8 2 9 2 10 4 11 8 12 5 13 6 14 9 15 4 16 18 17 4 18 5 19 19 20 25 21 10 22 27 23 24M0 13 1 16 2 8 3 11 4 11 5 8 6 8 7 7 8 2 9 7 10 5 11 4 12 2 13 2 14 3 15 6 16 3 17 3 18 4 19 14 20 14 21 19 22 27 23 12"/>
<path stroke="#c02a48" d="M0 17 1 7 2 9 3 10 4 11 5 24 6 6 7 4 8 6 9 5 10 4 11 8 12 5 13 3 14 9 15 5 16 8 17 2 18 6 19 6 20 10 21 8 22 27 23 13M0 14 1 11 2 6 3 14 4 7 5 5 6 6 7 3 8 8 9 5 10 5 11 5 12 3 13 3 14 6 15 7 16 10 17 6 18 4 19 13 20 24 21 30 22 21 23 8"/>
<path stroke="#1a80c8" d="M0 11 1 15 2 8 3 14 4 4 5 3 6 5 7 8 8 4 9 7 10 3 11 2 12 8 13 8 14 9 15 5 16 3 17 3 18 5 19 13 20 21 21 10 22 20 23 14M0 18 1 9 2 15 3 9 4 9 5 4 6 4 7 8 8 6 9 7 10 4 11 6 12 2 13 3 14 7 15 9 16 5 17 5 18 5 19 9 20 9 21 10 22 17 23 6"/>
<path stroke="#e26030" d="M0 9 1 8 2 15 3 11 4 10 5 4 6 2 7 3 8 5 9 3 10 4 11 6 12 5 13 3 14 12 15 4 16 7 17 3 18 5 19 14 20 16 21 13 22 13 23 15M0 4 1 17 2 13 3 3 4 5 5 8 6 7 7 2 8 3 9 2 10 2 11 3 12 8 13 5 14 5 15 5 16 8 17 7 18 4 19 20 20 9 21 17 22 22 23 24"/>
<path stroke="#f0ba38" d="M0 8 1 11 2 6 3 9 4 9 5 3 6 4 7 3 8 2 9 4 10 3 11 8 12 3 13 8 14 4 15 9 16 8 17 6 18 9 19 16 20 25 21 30 22 15 23 7M0 13 1 10 2 10 3 8 4 4 5 2 6 6 7 4 8 4 9 3 10 1 11 2 12 8 13 3 14 4 15 3 16 4 17 4 18 5 19 9 20 11 21 15 22 17 23 16"/>
<path stroke="#944aa2" d="M0 3 1 14 2 15 3 14 4 4 5 5 6 5 7 6 8 4 9 2 10 6 11 5 12 2 13 4 14 6 15 6 16 8 17 7 18 8 19 9 20 8 21 27 22 27 23 24"/>
<path stroke="#80b545" d="M0 18 1 8 2 4 3 9 4 6 5 8 6 6 7 3 8 5 9 2 10 7 11 4 12 7 13 8 14 5 15 5 16 4 17 2 18 6 19 11 20 9 21 28 22 19 23 17"/>
<path stroke="#944aa2" d="M0 9 1 17 2 3 3 9 4 7 5 3 6 5 7 5 8 3 9 7 10 2 11 5 12 3 13 3 14 5 15 5 16 9 17 2 18 5 19 8 20 25 21 11 22 27 23 6M0 7 1 16 2 8 3 9 4 7 5 2 6 8 7 3 8 4 9 3 10 5 11 5 12 4 13 8 14 6 15 5 16 1 17 4 18 5 19 7 20 11 21 27 22 27 23 24"/>
<path stroke="#80b545" d="M0 9 1 4 2 6 3 8 4 9 5 4 6 7 7 4 8 3 9 1 10 2 11 2 12 4 13 6 14 9 15 5 16 3 17 10 18 7 19 8 20 14 21 10 22 24 23 16M0 18 1 8 2 11 3 14 4 3 5 4 6 8 7 3 8 3 9 2 10 3 11 6 12 3 13 3 14 4 15 9 16 7 17 4 18 7 19 13 20 26 21 8 22 21 23 13"/>
<path stroke="#5fc5f0" d="M0 9 1 7 2 9 3 8 4 7 5 6 6 2 7 3 8 5 9 5 10 4 11 8 12 7 13 5 14 8 15 9 16 7 17 2 18 48 19 10 20 25 21 8 22 27 23 13M0 11 1 17 2 8 3 9 4 4 5 6 6 5 7 3 8 3 9 4 10 5 11 2 12 6 13 4 14 9 15 14 16 5 17 4 18 15 19 14 20 21 21 16 22 17 23 21"/>
<path stroke="#c02a48" d="M0 18 1 11 2 15 3 7 4 10 5 4 6 6 7 5 8 5 9 8 10 7 11 3 12 6 13 2 14 9 15 9 16 8 17 7 18 7 19 16 20 13 21 34 22 17 23 12M0 9 1 18 2 3 3 3 4 9 5 4 6 4 7 2 8 3 9 6 10 4 11 3 12 8 13 5 14 4 15 9 16 2 17 7 18 3 19 7 20 11 21 21 22 19 23 16"/>
<path stroke="#1a80c8" d="M0 12 1 13 2 15 3 7 4 7 5 4 6 3 7 6 8 3 9 4 10 3 11 4 12 3 13 8 14 6 15 6 16 10 17 1 18 4 19 3 20 16 21 26 22 26 23 16M0 13 1 5 2 6 3 5 4 11 5 6 6 5 7 4 8 3 9 3 10 6 11 3 12 8 13 6 14 6 15 5 16 6 17 5 18 13 19 20 20 9 21 32 22 26 23 9"/>
<path stroke="#e26030" d="M0 16 1 6 2 9 3 7 4 3 5 7 6 3 7 4 8 2 9 7 10 6 11 5 12 3 13 4 14 9 15 5 16 7 17 5 18 3 19 20 20 6 21 22 22 17 23 6"/>
<path stroke="#f0ba38" d="M0 18 1 12 2 9 3 10 4 5 5 6 6 5 7 3 8 4 9 5 10 5 11 6 12 6 13 6 14 7 15 5 16 6 17 9 18 2 19 13 20 25 21 8 22 30 23 6"/>
<path stroke="#e26030" d="M0 20 1 4 2 10 3 6 4 10 5 8 6 3 7 3 8 4 9 6 10 2 11 4 12 8 13 5 14 6 15 6 16 3 17 8 18 7 19 11 20 23 21 30 22 7 23 18"/>
</g></g>
<path d="M319.3,111.3v-1.2M319.3,14.8v1.2M341.5,111.3v-1.2M341.5,14.8v1.2M363.8,111.3v-1.2M363.8,14.8v1.2M386,111.3v-1.2M386,14.8v1.2M301.5,87.2h1.2M403.8,87.2h-1.2M301.5,63h1.2M403.8,63h-1.2M301.5,38.9h1.2M403.8,38.9h-1.2" stroke="#858585" stroke-width="1" fill="none"/>
<text class="tk" x="298.9" y="114.1" text-anchor="end">0</text>
<text class="tk" x="298.9" y="90" text-anchor="end">0.2</text>
<text class="tk" x="298.9" y="65.8" text-anchor="end">0.4</text>
<text class="tk" x="298.9" y="41.7" text-anchor="end">0.6</text>
<text class="tk" x="298.9" y="17.6" text-anchor="end">0.8</text>
<text class="tk" x="319.3" y="122.3" text-anchor="middle">5</text>
<text class="tk" x="341.5" y="122.3" text-anchor="middle">10</text>
<text class="tk" x="363.8" y="122.3" text-anchor="middle">15</text>
<text class="tk" x="386" y="122.3" text-anchor="middle">20</text>
<text class="yl" transform="translate(284.8,63) rotate(-90)" text-anchor="middle">Precipitation ratio</text>
<text class="rl" x="300" y="133.1">(III)</text>
<text class="xl" x="336.7" y="132.8">Time/[h]</text>
<text class="tt" x="366.1" y="28.5">Total: 37</text>
<rect x="436.5" y="14.8" width="102.8" height="96.5" fill="none" stroke="#858585" stroke-width="1"/>
<clipPath id="cpa4"><rect x="435.9" y="14.2" width="104" height="97.7"/></clipPath>
<g clip-path="url(#cpa4)"><g class="pl" transform="translate(436.5 111.3) scale(4.4696 -0.6031)">
<path stroke="#2b95d6" d="M0 1 1 1 2 1 3 0 4 0 5 1 6 0 7 1 8 1 9 1 10 0 11 0 12 0 13 1 14 34 15 42 16 20 17 40 18 32 19 24 20 20 21 10 22 2 23 0M0 0 1 0 2 2 3 1 4 1 5 1 6 1 7 1 8 1 9 1 10 1 11 1 12 1 13 1 14 20 15 22 16 18 17 34 18 24 19 18 20 20 21 12 22 0 23 0"/>
<path stroke="#ec7a4c" d="M0 1 1 1 2 2 3 1 4 1 5 2 6 0 7 0 8 1 9 0 10 0 11 1 12 1 13 1 14 24 15 32 16 24 17 44 18 36 19 24 20 18 21 12 22 4 23 2M0 0 1 1 2 0 3 1 4 1 5 0 6 1 7 1 8 0 9 1 10 1 11 1 12 1 13 0 14 28 15 20 16 26 17 40 18 28 19 20 20 16 21 14 22 4 23 4"/>
<path stroke="#f2c244" d="M0 1 1 1 2 1 3 0 4 0 5 0 6 1 7 0 8 1 9 0 10 1 11 0 12 0 13 1 14 30 15 74 16 16 17 10 18 6 19 4 20 0 21 0 22 2 23 4M0 0 1 1 2 0 3 1 4 2 5 1 6 1 7 0 8 2 9 1 10 2 11 1 12 1 13 1 14 12 15 24 16 22 17 24 18 20 19 12 20 8 21 4 22 2 23 2"/>
<path stroke="#a060b0" d="M0 1 1 1 2 1 3 1 4 0 5 1 6 1 7 1 8 1 9 1 10 0 11 1 12 1 13 0 14 10 15 30 16 24 17 6 18 24 19 30 20 40 21 16 22 4 23 0"/>
<path stroke="#8cc058" d="M0 1 1 1 2 2 3 1 4 1 5 1 6 1 7 0 8 1 9 0 10 1 11 0 12 2 13 0 14 20 15 28 16 20 17 42 18 44 19 24 20 26 21 14 22 4 23 0"/>
<path stroke="#6ccaf0" d="M0 1 1 0 2 1 3 1 4 0 5 1 6 2 7 1 8 1 9 0 10 0 11 1 12 1 13 0 14 42 15 36 16 12 17 38 18 42 19 20 20 16 21 6 22 2 23 0"/>
<path stroke="#c04a60" d="M0 1 1 1 2 1 3 1 4 1 5 0 6 0 7 1 8 1 9 1 10 1 11 1 12 0 13 1 14 26 15 24 16 28 17 30 18 26 19 22 20 24 21 16 22 6 23 0"/>
</g></g>
<path d="M454.4,111.3v-1.2M454.4,14.8v1.2M476.7,111.3v-1.2M476.7,14.8v1.2M499.1,111.3v-1.2M499.1,14.8v1.2M521.4,111.3v-1.2M521.4,14.8v1.2M436.5,87.2h1.2M539.3,87.2h-1.2M436.5,63h1.2M539.3,63h-1.2M436.5,38.9h1.2M539.3,38.9h-1.2" stroke="#858585" stroke-width="1" fill="none"/>
<text class="tk" x="433.9" y="114.1" text-anchor="end">0</text>
<text class="tk" x="433.9" y="90" text-anchor="end">0.2</text>
<text class="tk" x="433.9" y="65.8" text-anchor="end">0.4</text>
<text class="tk" x="433.9" y="41.7" text-anchor="end">0.6</text>
<text class="tk" x="433.9" y="17.6" text-anchor="end">0.8</text>
<text class="tk" x="454.4" y="122.3" text-anchor="middle">5</text>
<text class="tk" x="476.7" y="122.3" text-anchor="middle">10</text>
<text class="tk" x="499.1" y="122.3" text-anchor="middle">15</text>
<text class="tk" x="521.4" y="122.3" text-anchor="middle">20</text>
<text class="yl" transform="translate(419.8,63) rotate(-90)" text-anchor="middle">Precipitation ratio</text>
<text class="rl" x="435.4" y="133.1">(IV)</text>
<text class="xl" x="471.8" y="132.8">Time/[h]</text>
<text class="tt" x="503.5" y="28.5">Total: 10</text>
<rect x="30.5" y="149.2" width="103" height="96.3" fill="none" stroke="#858585" stroke-width="1"/>
<clipPath id="cpa5"><rect x="29.9" y="148.6" width="104.2" height="97.5"/></clipPath>
<g clip-path="url(#cpa5)"><g class="pl" transform="translate(30.5 245.5) scale(4.4783 -0.6019)">
<path stroke="#1a80c8" d="M0 1 1 20 2 1 3 0 4 2 5 1 6 8 7 0 8 16 9 14 10 0 11 5 12 0 13 1 14 3 15 3 16 3 17 15 18 1 19 0 20 7 21 15 22 14 23 12M0 20 1 1 2 10 3 8 4 2 5 12 6 0 7 2 8 4 9 18 10 11 11 0 12 7 13 0 14 2 15 17 16 1 17 0 18 15 19 1 20 5 21 1 22 14 23 9"/>
<path stroke="#e26030" d="M0 6 1 6 2 16 3 1 4 1 5 18 6 18 7 4 8 12 9 10 10 18 11 0 12 16 13 4 14 3 15 8 16 6 17 3 18 1 19 14 20 11 21 0 22 2 23 9M0 0 1 4 2 2 3 12 4 1 5 1 6 10 7 30 8 64 9 20 10 9 11 28 12 12 13 5 14 18 15 18 16 0 17 6 18 1 19 8 20 0 21 5 22 9 23 5"/>
<path stroke="#f0ba38" d="M0 11 1 17 2 4 3 12 4 14 5 24 6 11 7 1 8 0 9 1 10 32 11 0 12 10 13 15 14 0 15 9 16 11 17 8 18 4 19 4 20 8 21 1 22 9 23 0M0 4 1 14 2 2 3 12 4 0 5 2 6 2 7 3 8 1 9 1 10 21 11 0 12 4 13 16 14 3 15 3 16 4 17 0 18 1 19 8 20 5 21 1 22 3 23 16"/>
<path stroke="#944aa2" d="M0 0 1 1 2 15 3 3 4 11 5 3 6 3 7 15 8 2 9 5 10 6 11 0 12 0 13 1 14 0 15 8 16 6 17 2 18 18 19 0 20 2 21 11 22 0 23 6M0 0 1 15 2 0 3 8 4 0 5 0 6 0 7 2 8 14 9 16 10 5 11 15 12 8 13 18 14 1 15 1 16 1 17 12 18 15 19 10 20 16 21 0 22 0 23 0"/>
<path stroke="#80b545" d="M0 15 1 9 2 20 3 1 4 11 5 2 6 1 7 1 8 20 9 56 10 10 11 15 12 14 13 15 14 0 15 18 16 8 17 14 18 11 19 14 20 13 21 6 22 25 23 7M0 23 1 11 2 28 3 14 4 0 5 2 6 18 7 5 8 0 9 0 10 18 11 2 12 15 13 1 14 6 15 16 16 13 17 11 18 17 19 4 20 9 21 0 22 6 23 8"/>
<path stroke="#5fc5f0" d="M0 0 1 0 2 0 3 13 4 19 5 0 6 6 7 9 8 0 9 10 10 36 11 16 12 4 13 12 14 12 15 1 16 1 17 17 18 4 19 2 20 15 21 8 22 9 23 10"/>
<path stroke="#c02a48" d="M0 1 1 0 2 6 3 5 4 0 5 0 6 19 7 11 8 16 9 2 10 3 11 6 12 3 13 10 14 44 15 30 16 6 17 15 18 15 19 0 20 2 21 5 22 2 23 15"/>
<path stroke="#5fc5f0" d="M0 0 1 5 2 17 3 20 4 0 5 2 6 0 7 15 8 3 9 2 10 3 11 2 12 5 13 0 14 0 15 10 16 36 17 8 18 0 19 13 20 1 21 16 22 0 23 5M0 1 1 16 2 10 3 16 4 9 5 0 6 20 7 40 8 58 9 10 10 9 11 21 12 1 13 2 14 0 15 13 16 1 17 9 18 7 19 9 20 4 21 0 22 12 23 15"/>
<path stroke="#c02a48" d="M0 1 1 11 2 4 3 5 4 0 5 0 6 16 7 14 8 4 9 8 10 8 11 3 12 0 13 0 14 10 15 12 16 0 17 11 18 10 19 44 20 10 21 4 22 16 23 8M0 4 1 12 2 1 3 3 4 13 5 1 6 1 7 13 8 10 9 18 10 13 11 10 12 42 13 8 14 1 15 11 16 2 17 0 18 17 19 2 20 0 21 9 22 27 23 1"/>
<path stroke="#1a80c8" d="M0 8 1 16 2 3 3 18 4 20 5 3 6 2 7 8 8 8 9 16 10 1 11 17 12 4 13 1 14 2 15 1 16 1 17 10 18 2 19 13 20 7 21 2 22 2 23 5M0 14 1 10 2 32 3 10 4 17 5 3 6 0 7 2 8 18 9 0 10 2 11 0 12 11 13 12 14 4 15 9 16 18 17 1 18 4 19 12 20 0 21 10 22 1 23 1"/>
<path stroke="#e26030" d="M0 17 1 5 2 5 3 10 4 11 5 6 6 0 7 0 8 7 9 15 10 0 11 12 12 4 13 32 14 0 15 3 16 16 17 0 18 1 19 2 20 3 21 0 22 0 23 5M0 20 1 5 2 2 3 17 4 10 5 60 6 20 7 18 8 8 9 0 10 10 11 1 12 5 13 8 14 9 15 11 16 5 17 8 18 0 19 5 20 6 21 13 22 2 23 0"/>
<path stroke="#f0ba38" d="M0 2 1 17 2 4 3 10 4 30 5 10 6 1 7 3 8 0 9 8 10 0 11 4 12 5 13 18 14 3 15 14 16 30 17 6 18 12 19 4 20 16 21 13 22 2 23 8M0 0 1 3 2 11 3 12 4 11 5 5 6 0 7 9 8 11 9 2 10 19 11 10 12 5 13 0 14 0 15 4 16 30 17 6 18 7 19 11 20 7 21 1 22 2 23 2"/>
<path stroke="#944aa2" d="M0 2 1 13 2 10 3 3 4 13 5 3 6 0 7 6 8 0 9 18 10 0 11 1 12 2 13 0 14 3 15 3 16 0 17 8 18 40 19 10 20 12 21 0 22 14 23 0"/>
<path stroke="#80b545" d="M0 2 1 8 2 0 3 11 4 0 5 10 6 60 7 10 8 10 9 1 10 1 11 0 12 3 13 3 14 6 15 0 16 1 17 2 18 7 19 30 20 9 21 4 22 9 23 9"/>
<path stroke="#944aa2" d="M0 12 1 5 2 2 3 1 4 12 5 0 6 4 7 2 8 4 9 3 10 1 11 0 12 17 13 0 14 2 15 0 16 1 17 5 18 1 19 0 20 11 21 3 22 6 23 4M0 22 1 12 2 0 3 0 4 4 5 84 6 6 7 2 8 10 9 5 10 8 11 2 12 3 13 0 14 13 15 1 16 1 17 15 18 5 19 14 20 0 21 10 22 0 23 11"/>
<path stroke="#80b545" d="M0 11 1 1 2 1 3 5 4 9 5 2 6 5 7 1 8 0 9 3 10 2 11 9 12 0 13 0 14 0 15 5 16 5 17 17 18 1 19 10 20 10 21 9 22 1 23 10M0 20 1 54 2 30 3 16 4 4 5 4 6 2 7 12 8 0 9 6 10 12 11 2 12 15 13 1 14 2 15 0 16 2 17 13 18 4 19 3 20 5 21 2 22 5 23 7"/>
<path stroke="#5fc5f0" d="M0 0 1 2 2 1 3 3 4 4 5 0 6 7 7 18 8 11 9 8 10 6 11 10 12 54 13 10 14 2 15 2 16 2 17 10 18 6 19 0 20 10 21 3 22 0 23 4M0 10 1 78 2 14 3 2 4 2 5 11 6 0 7 3 8 11 9 5 10 0 11 0 12 12 13 8 14 6 15 2 16 2 17 31 18 2 19 9 20 1 21 3 22 7 23 4"/>
<path stroke="#c02a48" d="M0 13 1 2 2 16 3 1 4 15 5 9 6 1 7 1 8 2 9 1 10 17 11 0 12 4 13 1 14 8 15 11 16 10 17 42 18 10 19 3 20 0 21 5 22 6 23 5M0 4 1 10 2 46 3 48 4 24 5 4 6 11 7 11 8 4 9 0 10 17 11 5 12 10 13 0 14 4 15 1 16 0 17 18 18 0 19 11 20 10 21 48 22 48 23 10"/>
<path stroke="#1a80c8" d="M0 14 1 0 2 1 3 16 4 6 5 0 6 7 7 3 8 2 9 2 10 12 11 1 12 19 13 10 14 0 15 12 16 9 17 2 18 2 19 17 20 5 21 2 22 13 23 6M0 3 1 10 2 10 3 12 4 1 5 12 6 2 7 4 8 10 9 60 10 20 11 1 12 10 13 0 14 3 15 18 16 5 17 0 18 2 19 1 20 8 21 12 22 1 23 14"/>
<path stroke="#e26030" d="M0 19 1 3 2 7 3 12 4 1 5 4 6 0 7 9 8 0 9 7 10 18 11 0 12 0 13 6 14 2 15 1 16 2 17 10 18 5 19 17 20 6 21 4 22 1 23 3"/>
<path stroke="#f0ba38" d="M0 78 1 40 2 10 3 0 4 0 5 9 6 12 7 0 8 18 9 14 10 2 11 9 12 3 13 0 14 2 15 2 16 1 17 4 18 3 19 3 20 5 21 5 22 0 23 11"/>
<path stroke="#e26030" d="M0 68 1 60 2 10 3 18 4 9 5 5 6 0 7 0 8 12 9 30 10 6 11 0 12 14 13 9 14 1 15 25 16 5 17 2 18 5 19 16 20 0 21 12 22 0 23 0"/>
</g></g>
<path d="M48.4,245.5v-1.2M48.4,149.2v1.2M70.8,245.5v-1.2M70.8,149.2v1.2M93.2,245.5v-1.2M93.2,149.2v1.2M115.6,245.5v-1.2M115.6,149.2v1.2M30.5,221.4h1.2M133.5,221.4h-1.2M30.5,197.3h1.2M133.5,197.3h-1.2M30.5,173.3h1.2M133.5,173.3h-1.2" stroke="#858585" stroke-width="1" fill="none"/>
<text class="tk" x="27.9" y="248.3" text-anchor="end">0</text>
<text class="tk" x="27.9" y="224.2" text-anchor="end">0.2</text>
<text class="tk" x="27.9" y="200.2" text-anchor="end">0.4</text>
<text class="tk" x="27.9" y="176.1" text-anchor="end">0.6</text>
<text class="tk" x="27.9" y="152" text-anchor="end">0.8</text>
<text class="tk" x="48.4" y="256.3" text-anchor="middle">5</text>
<text class="tk" x="70.8" y="256.3" text-anchor="middle">10</text>
<text class="tk" x="93.2" y="256.3" text-anchor="middle">15</text>
<text class="tk" x="115.6" y="256.3" text-anchor="middle">20</text>
<text class="yl" transform="translate(13.8,197.3) rotate(-90)" text-anchor="middle">Precipitation ratio</text>
<text class="rl" x="33.6" y="267.1">(V)</text>
<text class="xl" x="65.6" y="266.8">Time/[h]</text>
<text class="tt" x="91.4" y="163">Total: 37</text>
<rect x="165.8" y="149.2" width="102.9" height="96.3" fill="none" stroke="#858585" stroke-width="1"/>
<clipPath id="cpa6"><rect x="165.2" y="148.6" width="104.1" height="97.5"/></clipPath>
<g clip-path="url(#cpa6)"><g class="pl" transform="translate(165.8 245.5) scale(4.4739 -0.6019)">
<path stroke="#2b95d6" d="M0 1 1 0 2 0 3 0 4 0 5 0 6 1 7 3 8 6 9 0 10 8 11 2 12 0 13 3 14 7 15 18 16 8 17 12 18 16 19 28 20 35 21 14 22 15 23 14"/>
<path stroke="#ec7a4c" d="M0 3 1 9 2 3 3 0 4 0 5 0 6 0 7 3 8 6 9 1 10 0 11 0 12 0 13 1 14 6 15 26 16 14 17 0 18 7 19 24 20 14 21 36 22 35 23 12"/>
</g></g>
<path d="M183.7,245.5v-1.2M183.7,149.2v1.2M206.1,245.5v-1.2M206.1,149.2v1.2M228.4,245.5v-1.2M228.4,149.2v1.2M250.8,245.5v-1.2M250.8,149.2v1.2M165.8,221.4h1.2M268.7,221.4h-1.2M165.8,197.3h1.2M268.7,197.3h-1.2M165.8,173.3h1.2M268.7,173.3h-1.2" stroke="#858585" stroke-width="1" fill="none"/>
<text class="tk" x="163.2" y="248.3" text-anchor="end">0</text>
<text class="tk" x="163.2" y="224.2" text-anchor="end">0.2</text>
<text class="tk" x="163.2" y="200.2" text-anchor="end">0.4</text>
<text class="tk" x="163.2" y="176.1" text-anchor="end">0.6</text>
<text class="tk" x="163.2" y="152" text-anchor="end">0.8</text>
<text class="tk" x="183.7" y="256.3" text-anchor="middle">5</text>
<text class="tk" x="206.1" y="256.3" text-anchor="middle">10</text>
<text class="tk" x="228.4" y="256.3" text-anchor="middle">15</text>
<text class="tk" x="250.8" y="256.3" text-anchor="middle">20</text>
<text class="yl" transform="translate(149.1,197.3) rotate(-90)" text-anchor="middle">Precipitation ratio</text>
<text class="rl" x="168.6" y="267.1">(VI)</text>
<text class="xl" x="200.6" y="266.8">Time/[h]</text>
<text class="tt" x="231.1" y="163">Total: 2</text>
<rect x="301.3" y="149.2" width="102.5" height="96.3" fill="none" stroke="#858585" stroke-width="1"/>
<clipPath id="cpa7"><rect x="300.7" y="148.6" width="103.7" height="97.5"/></clipPath>
<g clip-path="url(#cpa7)"><g class="pl" transform="translate(301.3 245.5) scale(4.4565 -0.6019)">
<path stroke="#2b95d6" d="M0 1 1 2 2 3 3 1 4 4 5 2 6 0 7 0 8 50 9 0 10 5 11 3 12 1 13 1 14 2 15 0 16 0 17 2 18 0 19 0 20 1 21 1 22 59 23 55"/>
</g></g>
<path d="M319.1,245.5v-1.2M319.1,149.2v1.2M341.4,245.5v-1.2M341.4,149.2v1.2M363.7,245.5v-1.2M363.7,149.2v1.2M386,245.5v-1.2M386,149.2v1.2M301.3,221.4h1.2M403.8,221.4h-1.2M301.3,197.3h1.2M403.8,197.3h-1.2M301.3,173.3h1.2M403.8,173.3h-1.2" stroke="#858585" stroke-width="1" fill="none"/>
<text class="tk" x="298.7" y="248.3" text-anchor="end">0</text>
<text class="tk" x="298.7" y="224.2" text-anchor="end">0.2</text>
<text class="tk" x="298.7" y="200.2" text-anchor="end">0.4</text>
<text class="tk" x="298.7" y="176.1" text-anchor="end">0.6</text>
<text class="tk" x="298.7" y="152" text-anchor="end">0.8</text>
<text class="tk" x="319.1" y="256.3" text-anchor="middle">5</text>
<text class="tk" x="341.4" y="256.3" text-anchor="middle">10</text>
<text class="tk" x="363.7" y="256.3" text-anchor="middle">15</text>
<text class="tk" x="386" y="256.3" text-anchor="middle">20</text>
<text class="yl" transform="translate(284.6,197.3) rotate(-90)" text-anchor="middle">Precipitation ratio</text>
<text class="rl" x="298.5" y="267.1">(VII)</text>
<text class="xl" x="336.7" y="266.8">Time/[h]</text>
<text class="tt" x="366.1" y="163">Total: 1</text>
<rect x="436.3" y="149.2" width="102.9" height="96.3" fill="none" stroke="#858585" stroke-width="1"/>
<clipPath id="cpa8"><rect x="435.7" y="148.6" width="104.1" height="97.5"/></clipPath>
<g clip-path="url(#cpa8)"><g class="pl" transform="translate(436.3 245.5) scale(4.4739 -0.6019)">
<path stroke="#2b95d6" d="M0 2 1 3 2 4 3 4 4 4 5 4 6 4 7 0 8 0 9 2 10 3 11 5 12 2 13 0 14 0 15 0 16 0 17 1 18 19 19 17 20 4 21 79 22 24 23 17"/>
</g></g>
<path d="M454.2,245.5v-1.2M454.2,149.2v1.2M476.6,245.5v-1.2M476.6,149.2v1.2M498.9,245.5v-1.2M498.9,149.2v1.2M521.3,245.5v-1.2M521.3,149.2v1.2M436.3,221.4h1.2M539.2,221.4h-1.2M436.3,197.3h1.2M539.2,197.3h-1.2M436.3,173.3h1.2M539.2,173.3h-1.2" stroke="#858585" stroke-width="1" fill="none"/>
<text class="tk" x="433.7" y="248.3" text-anchor="end">0</text>
<text class="tk" x="433.7" y="224.2" text-anchor="end">0.2</text>
<text class="tk" x="433.7" y="200.2" text-anchor="end">0.4</text>
<text class="tk" x="433.7" y="176.1" text-anchor="end">0.6</text>
<text class="tk" x="433.7" y="152" text-anchor="end">0.8</text>
<text class="tk" x="454.2" y="256.3" text-anchor="middle">5</text>
<text class="tk" x="476.6" y="256.3" text-anchor="middle">10</text>
<text class="tk" x="498.9" y="256.3" text-anchor="middle">15</text>
<text class="tk" x="521.3" y="256.3" text-anchor="middle">20</text>
<text class="yl" transform="translate(419.6,197.3) rotate(-90)" text-anchor="middle">Precipitation ratio</text>
<text class="rl" x="432.4" y="267.1">(VIII)</text>
<text class="xl" x="471.8" y="266.8">Time/[h]</text>
<text class="tt" x="503.5" y="163.5">Total: 1</text>
<rect x="33" y="297.7" width="103.5" height="96.8" fill="none" stroke="#858585" stroke-width="1"/>
<clipPath id="cpb1"><rect x="32.4" y="297.1" width="104.7" height="98"/></clipPath>
<g clip-path="url(#cpb1)"><g class="pl th" transform="translate(33 394.5) scale(4.5000 -0.6050)">
<path stroke="#1a80c8" d="M0 0 1 1 2 14 3 7 4 0 5 4 6 5 7 0 8 18 9 0 10 4 11 7 12 4 13 9 14 14 15 25 16 1 17 9 18 11 19 1 20 0 21 22 22 1 23 1M0 9 1 1 2 2 3 0 4 1 5 9 6 15 7 2 8 3 9 24 10 33 11 0 12 0 13 16 14 5 15 22 16 9 17 14 18 0 19 23 20 22 21 3 22 4 23 1"/>
<path stroke="#e26030" d="M0 14 1 2 2 4 3 0 4 11 5 1 6 23 7 2 8 9 9 4 10 11 11 1 12 1 13 15 14 15 15 7 16 22 17 1 18 17 19 0 20 22 21 8 22 7 23 20M0 4 1 21 2 5 3 0 4 0 5 8 6 15 7 11 8 18 9 2 10 3 11 1 12 3 13 1 14 19 15 0 16 1 17 12 18 3 19 2 20 23 21 18 22 1 23 0"/>
<path stroke="#f0ba38" d="M0 5 1 0 2 4 3 0 4 4 5 6 6 17 7 4 8 0 9 9 10 1 11 17 12 3 13 3 14 23 15 3 16 2 17 2 18 4 19 0 20 6 21 19 22 6 23 11M0 9 1 2 2 5 3 3 4 7 5 8 6 8 7 27 8 33 9 0 10 26 11 0 12 3 13 18 14 12 15 7 16 0 17 16 18 8 19 1 20 14 21 0 22 0 23 12"/>
<path stroke="#944aa2" d="M0 17 1 1 2 0 3 1 4 2 5 1 6 7 7 29 8 0 9 5 10 14 11 25 12 32 13 0 14 7 15 21 16 0 17 7 18 28 19 13 20 21 21 5 22 0 23 0M0 2 1 13 2 23 3 2 4 6 5 0 6 0 7 15 8 0 9 12 10 0 11 13 12 16 13 27 14 3 15 3 16 3 17 11 18 15 19 0 20 2 21 0 22 1 23 10"/>
<path stroke="#80b545" d="M0 8 1 5 2 6 3 9 4 2 5 11 6 10 7 19 8 16 9 0 10 8 11 24 12 11 13 11 14 3 15 2 16 12 17 0 18 18 19 18 20 22 21 0 22 0 23 17M0 3 1 0 2 14 3 0 4 0 5 26 6 6 7 28 8 29 9 19 10 0 11 12 12 0 13 0 14 20 15 2 16 14 17 6 18 14 19 9 20 23 21 4 22 16 23 14"/>
<path stroke="#5fc5f0" d="M0 2 1 10 2 12 3 4 4 9 5 11 6 3 7 12 8 10 9 17 10 7 11 2 12 4 13 26 14 27 15 0 16 0 17 18 18 25 19 1 20 1 21 0 22 7 23 4"/>
<path stroke="#c02a48" d="M0 10 1 0 2 1 3 18 4 5 5 23 6 17 7 12 8 18 9 9 10 1 11 1 12 32 13 28 14 12 15 21 16 1 17 0 18 3 19 2 20 4 21 3 22 20 23 0"/>
<path stroke="#5fc5f0" d="M0 4 1 8 2 1 3 5 4 0 5 1 6 2 7 0 8 5 9 17 10 0 11 2 12 32 13 14 14 4 15 1 16 0 17 3 18 9 19 16 20 4 21 16 22 23 23 15M0 0 1 1 2 27 3 4 4 13 5 8 6 25 7 6 8 5 9 0 10 33 11 13 12 31 13 26 14 0 15 8 16 5 17 13 18 0 19 9 20 7 21 2 22 0 23 9"/>
<path stroke="#c02a48" d="M0 4 1 6 2 0 3 1 4 0 5 14 6 13 7 2 8 27 9 0 10 0 11 3 12 12 13 27 14 6 15 0 16 8 17 0 18 16 19 2 20 0 21 0 22 14 23 17M0 13 1 9 2 11 3 13 4 7 5 4 6 24 7 0 8 0 9 2 10 1 11 32 12 7 13 23 14 7 15 1 16 20 17 20 18 0 19 13 20 23 21 0 22 2 23 10"/>
<path stroke="#1a80c8" d="M0 4 1 14 2 17 3 3 4 25 5 26 6 2 7 0 8 24 9 35 10 13 11 31 12 6 13 7 14 0 15 3 16 23 17 0 18 0 19 0 20 5 21 7 22 5 23 16M0 2 1 3 2 16 3 1 4 15 5 3 6 13 7 21 8 5 9 1 10 1 11 1 12 0 13 4 14 10 15 3 16 24 17 23 18 14 19 14 20 1 21 12 22 0 23 0"/>
<path stroke="#e26030" d="M0 7 1 19 2 11 3 21 4 7 5 0 6 2 7 17 8 3 9 15 10 0 11 12 12 3 13 27 14 0 15 2 16 15 17 3 18 4 19 2 20 0 21 20 22 17 23 12M0 11 1 1 2 6 3 19 4 0 5 24 6 9 7 34 8 2 9 7 10 15 11 10 12 10 13 22 14 0 15 13 16 4 17 21 18 23 19 4 20 2 21 18 22 20 23 12"/>
<path stroke="#f0ba38" d="M0 1 1 8 2 0 3 8 4 14 5 26 6 3 7 2 8 10 9 14 10 31 11 9 12 4 13 2 14 14 15 10 16 0 17 1 18 0 19 5 20 2 21 0 22 5 23 8M0 5 1 5 2 2 3 7 4 4 5 10 6 28 7 17 8 0 9 1 10 15 11 32 12 9 13 20 14 1 15 1 16 26 17 19 18 4 19 15 20 8 21 13 22 6 23 9"/>
<path stroke="#944aa2" d="M0 5 1 7 2 0 3 2 4 13 5 4 6 20 7 8 8 10 9 16 10 36 11 0 12 0 13 0 14 1 15 0 16 26 17 0 18 4 19 18 20 4 21 1 22 1 23 3"/>
<path stroke="#80b545" d="M0 19 1 16 2 11 3 0 4 4 5 15 6 8 7 0 8 19 9 5 10 1 11 3 12 0 13 3 14 0 15 28 16 0 17 2 18 1 19 4 20 2 21 18 22 0 23 22"/>
<path stroke="#944aa2" d="M0 4 1 16 2 0 3 1 4 5 5 26 6 3 7 24 8 8 9 6 10 19 11 1 12 7 13 0 14 6 15 28 16 0 17 0 18 7 19 21 20 6 21 21 22 1 23 22M0 1 1 0 2 27 3 14 4 2 5 20 6 8 7 19 8 37 9 0 10 4 11 0 12 0 13 14 14 22 15 12 16 22 17 3 18 10 19 0 20 12 21 13 22 6 23 18"/>
<path stroke="#80b545" d="M0 0 1 0 2 10 3 5 4 15 5 10 6 0 7 5 8 35 9 2 10 27 11 25 12 0 13 4 14 28 15 20 16 0 17 0 18 4 19 10 20 15 21 0 22 3 23 3M0 0 1 11 2 2 3 1 4 1 5 24 6 5 7 0 8 1 9 0 10 32 11 5 12 5 13 0 14 1 15 17 16 18 17 4 18 1 19 23 20 2 21 1 22 19 23 4"/>
<path stroke="#5fc5f0" d="M0 10 1 0 2 1 3 1 4 9 5 7 6 29 7 1 8 0 9 0 10 1 11 26 12 10 13 1 14 8 15 10 16 2 17 28 18 11 19 7 20 0 21 4 22 0 23 3M0 6 1 0 2 15 3 5 4 26 5 15 6 8 7 0 8 2 9 9 10 22 11 26 12 24 13 17 14 4 15 7 16 1 17 7 18 2 19 6 20 0 21 0 22 8 23 3"/>
<path stroke="#c02a48" d="M0 14 1 21 2 12 3 0 4 7 5 4 6 12 7 2 8 31 9 2 10 6 11 0 12 27 13 24 14 26 15 1 16 2 17 21 18 19 19 0 20 4 21 0 22 15 23 14M0 5 1 1 2 2 3 18 4 8 5 0 6 1 7 10 8 2 9 23 10 0 11 3 12 10 13 5 14 1 15 0 16 2 17 19 18 0 19 0 20 0 21 6 22 0 23 1"/>
<path stroke="#1a80c8" d="M0 0 1 4 2 0 3 0 4 0 5 6 6 8 7 4 8 17 9 0 10 1 11 1 12 6 13 18 14 0 15 22 16 2 17 1 18 1 19 13 20 0 21 3 22 1 23 5M0 0 1 1 2 3 3 24 4 26 5 0 6 21 7 4 8 1 9 5 10 0 11 16 12 14 13 1 14 0 15 14 16 26 17 0 18 25 19 6 20 1 21 12 22 12 23 2"/>
<path stroke="#e26030" d="M0 25 1 0 2 1 3 0 4 1 5 0 6 2 7 5 8 9 9 24 10 2 11 3 12 23 13 0 14 6 15 0 16 0 17 20 18 10 19 4 20 15 21 21 22 6 23 3"/>
<path stroke="#f0ba38" d="M0 1 1 0 2 2 3 17 4 16 5 19 6 1 7 5 8 17 9 1 10 25 11 15 12 26 13 28 14 4 15 8 16 25 17 12 18 15 19 12 20 0 21 13 22 10 23 2"/>
<path stroke="#e26030" d="M0 2 1 2 2 6 3 1 4 15 5 9 6 0 7 9 8 5 9 34 10 33 11 0 12 17 13 10 14 6 15 0 16 21 17 9 18 8 19 23 20 0 21 2 22 0 23 1M0 16 1 1 2 5 3 4 4 2 5 3 6 8 7 2 8 1 9 0 10 3 11 7 12 0 13 0 14 22 15 0 16 0 17 2 18 10 19 9 20 6 21 3 22 2 23 0"/>
<path stroke="#f0ba38" d="M0 0 1 20 2 1 3 24 4 12 5 18 6 0 7 27 8 0 9 24 10 0 11 30 12 0 13 0 14 4 15 0 16 0 17 2 18 0 19 7 20 12 21 4 22 6 23 1M0 20 1 11 2 23 3 6 4 4 5 9 6 14 7 1 8 18 9 4 10 37 11 1 12 18 13 22 14 16 15 10 16 20 17 0 18 2 19 23 20 5 21 2 22 1 23 1"/>
<path stroke="#944aa2" d="M0 0 1 18 2 2 3 10 4 0 5 1 6 16 7 15 8 11 9 4 10 16 11 27 12 20 13 18 14 4 15 4 16 21 17 1 18 6 19 1 20 4 21 1 22 17 23 17M0 1 1 20 2 6 3 23 4 4 5 8 6 30 7 3 8 16 9 22 10 1 11 3 12 3 13 0 14 2 15 1 16 16 17 25 18 0 19 9 20 9 21 1 22 14 23 2"/>
<path stroke="#80b545" d="M0 0 1 13 2 8 3 22 4 0 5 16 6 12 7 5 8 14 9 1 10 18 11 1 12 7 13 26 14 1 15 26 16 0 17 20 18 24 19 27 20 4 21 13 22 8 23 21M0 12 1 12 2 22 3 24 4 5 5 0 6 0 7 0 8 0 9 20 10 0 11 5 12 12 13 1 14 9 15 10 16 6 17 0 18 8 19 0 20 0 21 17 22 15 23 18"/>
<path stroke="#5fc5f0" d="M0 13 1 11 2 7 3 18 4 0 5 0 6 2 7 32 8 6 9 10 10 1 11 8 12 17 13 8 14 0 15 2 16 3 17 0 18 0 19 11 20 0 21 1 22 7 23 12M0 5 1 1 2 0 3 6 4 0 5 7 6 1 7 12 8 22 9 0 10 31 11 14 12 12 13 11 14 1 15 0 16 11 17 3 18 19 19 1 20 12 21 11 22 10 23 7"/>
<path stroke="#c02a48" d="M0 0 1 3 2 4 3 0 4 1 5 8 6 10 7 28 8 12 9 10 10 35 11 32 12 7 13 5 14 26 15 2 16 17 17 0 18 0 19 1 20 5 21 2 22 1 23 0"/>
<path stroke="#1a80c8" d="M0 11 1 0 2 16 3 24 4 13 5 0 6 0 7 1 8 1 9 0 10 1 11 3 12 16 13 30 14 0 15 22 16 21 17 25 18 5 19 3 20 1 21 1 22 1 23 1"/>
<path stroke="#c02a48" d="M0 0 1 0 2 0 3 0 4 0 5 20 6 7 7 0 8 1 9 24 10 12 11 2 12 0 13 3 14 2 15 1 16 25 17 17 18 14 19 7 20 16 21 17 22 6 23 3M0 3 1 10 2 4 3 1 4 0 5 8 6 7 7 0 8 0 9 34 10 17 11 1 12 3 13 12 14 19 15 0 16 10 17 7 18 11 19 0 20 2 21 8 22 1 23 5"/>
<path stroke="#1a80c8" d="M0 8 1 1 2 1 3 0 4 9 5 25 6 11 7 0 8 1 9 12 10 9 11 3 12 0 13 0 14 1 15 8 16 13 17 15 18 15 19 1 20 16 21 0 22 1 23 1M0 3 1 12 2 2 3 1 4 7 5 0 6 5 7 13 8 33 9 30 10 1 11 4 12 0 13 0 14 29 15 0 16 2 17 12 18 12 19 3 20 0 21 14 22 2 23 0"/>
<path stroke="#e26030" d="M0 9 1 11 2 12 3 7 4 2 5 4 6 13 7 27 8 25 9 15 10 17 11 0 12 4 13 27 14 25 15 19 16 20 17 2 18 0 19 9 20 3 21 3 22 0 23 1M0 3 1 1 2 15 3 14 4 4 5 22 6 2 7 0 8 25 9 36 10 0 11 4 12 0 13 11 14 18 15 0 16 13 17 6 18 27 19 1 20 1 21 1 22 5 23 0"/>
<path stroke="#f0ba38" d="M0 9 1 0 2 3 3 9 4 17 5 25 6 14 7 15 8 5 9 6 10 2 11 28 12 3 13 1 14 18 15 5 16 4 17 17 18 0 19 0 20 6 21 0 22 17 23 20M0 2 1 1 2 10 3 24 4 8 5 0 6 0 7 2 8 17 9 32 10 19 11 0 12 13 13 17 14 5 15 1 16 6 17 4 18 2 19 0 20 1 21 28 22 1 23 8"/>
<path stroke="#944aa2" d="M0 0 1 9 2 10 3 0 4 7 5 19 6 16 7 2 8 0 9 1 10 0 11 3 12 5 13 5 14 0 15 2 16 1 17 18 18 15 19 21 20 3 21 14 22 0 23 2M0 15 1 5 2 2 3 15 4 2 5 25 6 6 7 0 8 0 9 31 10 2 11 1 12 0 13 2 14 26 15 0 16 16 17 3 18 14 19 17 20 19 21 0 22 10 23 0"/>
<path stroke="#80b545" d="M0 10 1 0 2 21 3 3 4 10 5 1 6 0 7 0 8 10 9 31 10 14 11 0 12 0 13 30 14 4 15 21 16 14 17 13 18 17 19 2 20 1 21 0 22 22 23 0"/>
<path stroke="#5fc5f0" d="M0 0 1 0 2 3 3 9 4 5 5 16 6 1 7 0 8 10 9 18 10 6 11 0 12 5 13 13 14 3 15 18 16 1 17 10 18 3 19 0 20 1 21 0 22 5 23 27"/>
<path stroke="#80b545" d="M0 0 1 0 2 3 3 3 4 1 5 17 6 1 7 0 8 6 9 4 10 0 11 5 12 5 13 24 14 10 15 1 16 25 17 18 18 20 19 27 20 1 21 16 22 14 23 8M0 6 1 12 2 8 3 15 4 1 5 14 6 9 7 17 8 13 9 14 10 0 11 1 12 8 13 1 14 24 15 3 16 6 17 0 18 8 19 12 20 4 21 2 22 0 23 15"/>
<path stroke="#5fc5f0" d="M0 0 1 14 2 10 3 1 4 20 5 23 6 0 7 6 8 7 9 5 10 34 11 5 12 13 13 25 14 22 15 8 16 24 17 4 18 13 19 0 20 3 21 2 22 6 23 0M0 0 1 18 2 11 3 3 4 0 5 28 6 5 7 28 8 35 9 11 10 5 11 2 12 5 13 4 14 0 15 1 16 17 17 20 18 4 19 25 20 8 21 1 22 11 23 9"/>
<path stroke="#c02a48" d="M0 13 1 4 2 3 3 20 4 4 5 2 6 23 7 10 8 14 9 7 10 6 11 23 12 0 13 27 14 9 15 14 16 27 17 14 18 0 19 15 20 14 21 20 22 1 23 14M0 10 1 12 2 19 3 0 4 0 5 0 6 2 7 0 8 12 9 21 10 20 11 5 12 4 13 1 14 27 15 17 16 17 17 5 18 0 19 0 20 0 21 21 22 0 23 5"/>
<path stroke="#1a80c8" d="M0 0 1 6 2 2 3 3 4 19 5 10 6 1 7 1 8 8 9 0 10 23 11 16 12 0 13 0 14 0 15 5 16 1 17 4 18 5 19 16 20 5 21 0 22 1 23 13M0 3 1 18 2 1 3 1 4 12 5 0 6 1 7 17 8 0 9 0 10 16 11 3 12 0 13 0 14 14 15 2 16 9 17 21 18 25 19 11 20 2 21 9 22 19 23 15"/>
<path stroke="#e26030" d="M0 7 1 2 2 5 3 4 4 3 5 29 6 23 7 3 8 33 9 39 10 6 11 10 12 6 13 7 14 16 15 13 16 0 17 0 18 8 19 1 20 13 21 0 22 1 23 6M0 8 1 6 2 3 3 5 4 18 5 2 6 1 7 1 8 2 9 0 10 35 11 0 12 18 13 8 14 29 15 1 16 20 17 0 18 1 19 4 20 17 21 7 22 12 23 4"/>
<path stroke="#f0ba38" d="M0 8 1 3 2 0 3 15 4 0 5 0 6 17 7 16 8 4 9 26 10 29 11 4 12 0 13 0 14 4 15 1 16 0 17 3 18 4 19 10 20 15 21 6 22 22 23 1"/>
<path stroke="#944aa2" d="M0 1 1 14 2 2 3 2 4 0 5 0 6 0 7 2 8 36 9 9 10 0 11 7 12 2 13 23 14 29 15 6 16 14 17 2 18 0 19 9 20 0 21 5 22 14 23 0"/>
<path stroke="#f0ba38" d="M0 1 1 0 2 10 3 5 4 25 5 0 6 29 7 30 8 0 9 1 10 19 11 9 12 1 13 19 14 16 15 6 16 3 17 20 18 28 19 8 20 7 21 0 22 10 23 1M0 2 1 22 2 0 3 1 4 7 5 0 6 14 7 1 8 28 9 38 10 0 11 0 12 12 13 0 14 30 15 0 16 1 17 17 18 10 19 0 20 0 21 14 22 8 23 24"/>
<path stroke="#944aa2" d="M0 0 1 2 2 6 3 0 4 6 5 0 6 30 7 19 8 11 9 16 10 23 11 12 12 25 13 0 14 8 15 23 16 21 17 8 18 10 19 0 20 9 21 8 22 0 23 0M0 1 1 0 2 8 3 2 4 15 5 23 6 10 7 29 8 0 9 6 10 1 11 0 12 31 13 0 14 8 15 19 16 4 17 1 18 15 19 9 20 6 21 1 22 18 23 4"/>
<path stroke="#80b545" d="M0 0 1 0 2 20 3 3 4 23 5 0 6 20 7 15 8 27 9 1 10 18 11 0 12 30 13 0 14 6 15 25 16 3 17 7 18 5 19 9 20 9 21 2 22 0 23 6M0 2 1 16 2 0 3 0 4 1 5 0 6 2 7 19 8 5 9 28 10 2 11 14 12 32 13 0 14 16 15 6 16 1 17 8 18 9 19 18 20 4 21 5 22 24 23 0"/>
<path stroke="#5fc5f0" d="M0 14 1 16 2 5 3 0 4 11 5 0 6 10 7 10 8 36 9 16 10 1 11 0 12 22 13 5 14 26 15 19 16 4 17 21 18 0 19 14 20 22 21 0 22 5 23 14M0 6 1 22 2 1 3 9 4 11 5 10 6 0 7 17 8 37 9 3 10 25 11 21 12 7 13 0 14 0 15 38 16 15 17 13 18 19 19 0 20 4 21 7 22 10 23 16"/>
<path stroke="#c02a48" d="M0 3 1 10 2 0 3 8 4 22 5 26 6 15 7 10 8 1 9 31 10 0 11 19 12 2 13 16 14 1 15 23 16 13 17 0 18 1 19 1 20 0 21 2 22 0 23 17M0 15 1 20 2 13 3 2 4 1 5 21 6 16 7 6 8 18 9 25 10 9 11 19 12 0 13 27 14 21 15 11 16 20 17 5 18 5 19 0 20 0 21 2 22 2 23 19"/>
<path stroke="#1a80c8" d="M0 16 1 1 2 20 3 4 4 0 5 1 6 22 7 26 8 27 9 29 10 35 11 5 12 0 13 0 14 12 15 3 16 0 17 1 18 1 19 3 20 22 21 11 22 0 23 2"/>
<path stroke="#e26030" d="M0 12 1 5 2 14 3 11 4 18 5 0 6 25 7 1 8 4 9 24 10 16 11 14 12 21 13 12 14 28 15 21 16 19 17 21 18 20 19 19 20 14 21 8 22 0 23 12"/>
<path stroke="#1a80c8" d="M0 17 1 1 2 8 3 6 4 21 5 16 6 25 7 0 8 1 9 37 10 0 11 19 12 32 13 0 14 44 15 17 16 0 17 0 18 0 19 1 20 0 21 0 22 15 23 16M0 2 1 3 2 18 3 11 4 1 5 4 6 3 7 32 8 27 9 12 10 2 11 1 12 6 13 1 14 12 15 4 16 5 17 0 18 17 19 18 20 7 21 10 22 1 23 0"/>
<path stroke="#e26030" d="M0 0 1 2 2 2 3 20 4 2 5 16 6 0 7 5 8 5 9 1 10 62 11 0 12 10 13 14 14 1 15 2 16 0 17 22 18 23 19 1 20 19 21 8 22 4 23 13M0 12 1 3 2 3 3 4 4 4 5 19 6 1 7 0 8 23 9 1 10 18 11 2 12 14 13 23 14 13 15 16 16 9 17 25 18 12 19 16 20 12 21 13 22 2 23 4"/>
<path stroke="#f0ba38" d="M0 0 1 14 2 4 3 12 4 6 5 2 6 17 7 25 8 1 9 0 10 4 11 8 12 17 13 0 14 6 15 2 16 0 17 14 18 4 19 13 20 2 21 23 22 1 23 1M0 1 1 14 2 8 3 5 4 1 5 1 6 20 7 0 8 0 9 13 10 37 11 0 12 0 13 20 14 4 15 15 16 10 17 4 18 22 19 3 20 6 21 3 22 16 23 8"/>
<path stroke="#944aa2" d="M0 19 1 0 2 3 3 0 4 4 5 7 6 8 7 10 8 0 9 19 10 6 11 22 12 26 13 25 14 22 15 8 16 6 17 1 18 4 19 1 20 5 21 21 22 7 23 0M0 4 1 7 2 2 3 3 4 25 5 29 6 26 7 5 8 0 9 4 10 0 11 0 12 24 13 4 14 1 15 3 16 0 17 0 18 9 19 8 20 22 21 0 22 12 23 3"/>
<path stroke="#80b545" d="M0 0 1 16 2 0 3 4 4 2 5 4 6 0 7 23 8 5 9 4 10 0 11 19 12 0 13 11 14 3 15 3 16 0 17 5 18 2 19 0 20 12 21 22 22 21 23 11M0 1 1 5 2 1 3 1 4 4 5 21 6 6 7 29 8 9 9 0 10 32 11 7 12 22 13 29 14 0 15 10 16 7 17 19 18 9 19 12 20 1 21 2 22 5 23 0"/>
<path stroke="#5fc5f0" d="M0 3 1 23 2 22 3 3 4 11 5 25 6 1 7 2 8 1 9 16 10 1 11 1 12 0 13 9 14 0 15 1 16 10 17 24 18 4 19 0 20 6 21 0 22 3 23 21"/>
<path stroke="#c02a48" d="M0 12 1 6 2 0 3 4 4 24 5 12 6 23 7 22 8 2 9 2 10 11 11 7 12 12 13 21 14 2 15 22 16 24 17 0 18 10 19 19 20 0 21 9 22 10 23 10"/>
<path stroke="#5fc5f0" d="M0 5 1 11 2 3 3 19 4 2 5 3 6 25 7 2 8 36 9 26 10 0 11 29 12 0 13 0 14 13 15 7 16 26 17 10 18 3 19 3 20 7 21 4 22 4 23 20M0 1 1 19 2 42 3 20 4 26 5 19 6 13 7 0 8 0 9 10 10 32 11 30 12 9 13 1 14 13 15 24 16 25 17 0 18 1 19 2 20 2 21 0 22 7 23 6"/>
<path stroke="#c02a48" d="M0 9 1 1 2 15 3 0 4 6 5 24 6 27 7 15 8 21 9 9 10 33 11 24 12 0 13 0 14 1 15 5 16 18 17 14 18 11 19 7 20 20 21 5 22 2 23 5M0 5 1 18 2 20 3 0 4 4 5 38 6 4 7 0 8 29 9 2 10 16 11 10 12 10 13 29 14 10 15 6 16 25 17 3 18 12 19 10 20 4 21 23 22 1 23 0"/>
<path stroke="#1a80c8" d="M0 12 1 12 2 12 3 22 4 13 5 10 6 9 7 3 8 16 9 26 10 0 11 8 12 5 13 16 14 2 15 1 16 19 17 16 18 1 19 23 20 0 21 11 22 0 23 0M0 9 1 13 2 7 3 5 4 0 5 3 6 19 7 6 8 4 9 58 10 5 11 12 12 13 13 1 14 17 15 0 16 20 17 0 18 10 19 5 20 17 21 18 22 16 23 10"/>
<path stroke="#e26030" d="M0 1 1 14 2 1 3 2 4 2 5 14 6 20 7 9 8 8 9 38 10 2 11 20 12 1 13 27 14 3 15 0 16 0 17 10 18 12 19 0 20 4 21 7 22 4 23 2M0 2 1 5 2 10 3 24 4 2 5 0 6 58 7 5 8 7 9 0 10 0 11 6 12 16 13 17 14 0 15 8 16 5 17 2 18 8 19 0 20 21 21 6 22 0 23 0"/>
<path stroke="#f0ba38" d="M0 0 1 2 2 0 3 4 4 0 5 11 6 30 7 1 8 33 9 13 10 0 11 7 12 13 13 25 14 1 15 19 16 27 17 38 18 6 19 20 20 9 21 9 22 22 23 0"/>
<path stroke="#944aa2" d="M0 3 1 21 2 16 3 1 4 16 5 10 6 29 7 11 8 2 9 11 10 19 11 36 12 10 13 4 14 8 15 1 16 25 17 5 18 2 19 20 20 14 21 1 22 9 23 6"/>
<path stroke="#80b545" d="M0 3 1 0 2 0 3 0 4 3 5 14 6 3 7 22 8 52 9 27 10 26 11 1 12 20 13 30 14 11 15 15 16 20 17 6 18 30 19 11 20 1 21 4 22 2 23 4"/>
</g></g>
<path d="M51,394.5v-1.2M51,297.7v1.2M73.5,394.5v-1.2M73.5,297.7v1.2M96,394.5v-1.2M96,297.7v1.2M118.5,394.5v-1.2M118.5,297.7v1.2M33,370.3h1.2M136.5,370.3h-1.2M33,346.1h1.2M136.5,346.1h-1.2M33,321.9h1.2M136.5,321.9h-1.2" stroke="#858585" stroke-width="1" fill="none"/>
<text class="tk" x="30.4" y="397.3" text-anchor="end">0</text>
<text class="tk" x="30.4" y="373.1" text-anchor="end">0.2</text>
<text class="tk" x="30.4" y="348.9" text-anchor="end">0.4</text>
<text class="tk" x="30.4" y="324.7" text-anchor="end">0.6</text>
<text class="tk" x="30.4" y="300.5" text-anchor="end">0.8</text>
<text class="tk" x="51" y="405.3" text-anchor="middle">5</text>
<text class="tk" x="73.5" y="405.3" text-anchor="middle">10</text>
<text class="tk" x="96" y="405.3" text-anchor="middle">15</text>
<text class="tk" x="118.5" y="405.3" text-anchor="middle">20</text>
<text class="yl" transform="translate(16.3,346.1) rotate(-90)" text-anchor="middle">Precipitation ratio</text>
<text class="rl" x="33.6" y="413.1">(I)</text>
<text class="xl" x="68.2" y="416.1">Time/[h]</text>
<text class="tt" x="91" y="308.4">Total: 107</text>
<rect x="166.5" y="296.7" width="103" height="96.7" fill="none" stroke="#858585" stroke-width="1"/>
<clipPath id="cpb2"><rect x="165.9" y="296.1" width="104.2" height="97.9"/></clipPath>
<g clip-path="url(#cpb2)"><g class="pl th" transform="translate(166.5 393.4) scale(4.4783 -0.6044)">
<path stroke="#1a80c8" d="M0 21 1 4 2 20 3 0 4 6 5 2 6 12 7 0 8 16 9 5 10 21 11 5 12 4 13 17 14 29 15 2 16 28 17 25 18 0 19 8 20 10 21 18 22 7 23 0M0 21 1 7 2 1 3 0 4 3 5 2 6 4 7 4 8 0 9 1 10 0 11 18 12 0 13 11 14 0 15 10 16 4 17 5 18 14 19 1 20 10 21 17 22 9 23 4"/>
<path stroke="#e26030" d="M0 18 1 2 2 10 3 0 4 16 5 4 6 12 7 1 8 2 9 2 10 26 11 4 12 5 13 27 14 23 15 3 16 2 17 18 18 0 19 3 20 17 21 17 22 0 23 0M0 4 1 0 2 4 3 0 4 0 5 16 6 1 7 0 8 0 9 17 10 19 11 14 12 17 13 1 14 8 15 14 16 1 17 14 18 16 19 5 20 8 21 0 22 2 23 1"/>
<path stroke="#f0ba38" d="M0 4 1 6 2 18 3 5 4 0 5 0 6 8 7 1 8 11 9 5 10 2 11 14 12 0 13 1 14 1 15 3 16 24 17 18 18 17 19 8 20 0 21 1 22 3 23 12M0 19 1 14 2 7 3 0 4 1 5 16 6 3 7 0 8 1 9 7 10 19 11 4 12 1 13 17 14 2 15 1 16 8 17 6 18 19 19 4 20 8 21 3 22 7 23 12"/>
<path stroke="#944aa2" d="M0 15 1 22 2 9 3 13 4 2 5 10 6 2 7 17 8 12 9 2 10 15 11 0 12 25 13 12 14 2 15 10 16 16 17 9 18 21 19 3 20 1 21 2 22 1 23 3M0 5 1 2 2 0 3 6 4 6 5 1 6 16 7 17 8 2 9 4 10 1 11 13 12 0 13 2 14 27 15 0 16 23 17 7 18 0 19 15 20 6 21 11 22 2 23 1"/>
<path stroke="#80b545" d="M0 7 1 1 2 16 3 0 4 5 5 15 6 4 7 7 8 13 9 11 10 17 11 1 12 24 13 5 14 24 15 12 16 14 17 26 18 0 19 18 20 1 21 13 22 0 23 2M0 9 1 2 2 0 3 4 4 0 5 0 6 7 7 10 8 7 9 3 10 18 11 20 12 0 13 14 14 18 15 9 16 4 17 16 18 0 19 20 20 5 21 6 22 7 23 2"/>
<path stroke="#5fc5f0" d="M0 1 1 19 2 1 3 0 4 0 5 12 6 0 7 1 8 22 9 3 10 9 11 7 12 5 13 23 14 0 15 3 16 4 17 12 18 13 19 0 20 0 21 1 22 1 23 8"/>
<path stroke="#c02a48" d="M0 11 1 19 2 12 3 14 4 5 5 10 6 18 7 3 8 9 9 22 10 1 11 0 12 5 13 22 14 6 15 1 16 29 17 5 18 4 19 0 20 3 21 20 22 2 23 9"/>
<path stroke="#5fc5f0" d="M0 13 1 0 2 4 3 1 4 20 5 10 6 1 7 19 8 7 9 0 10 1 11 18 12 27 13 0 14 7 15 1 16 13 17 0 18 13 19 6 20 8 21 3 22 7 23 10M0 0 1 0 2 6 3 9 4 0 5 13 6 5 7 5 8 4 9 0 10 24 11 21 12 0 13 1 14 0 15 4 16 4 17 26 18 10 19 23 20 16 21 0 22 9 23 4"/>
<path stroke="#c02a48" d="M0 5 1 0 2 1 3 7 4 8 5 8 6 0 7 0 8 10 9 0 10 5 11 4 12 18 13 0 14 14 15 2 16 11 17 0 18 8 19 13 20 10 21 11 22 5 23 3M0 16 1 19 2 12 3 0 4 9 5 0 6 5 7 5 8 12 9 1 10 4 11 3 12 0 13 3 14 12 15 12 16 0 17 0 18 20 19 9 20 0 21 6 22 0 23 7"/>
<path stroke="#1a80c8" d="M0 16 1 0 2 2 3 1 4 0 5 5 6 2 7 17 8 3 9 11 10 0 11 19 12 8 13 1 14 7 15 0 16 0 17 13 18 4 19 20 20 10 21 18 22 13 23 0M0 2 1 7 2 0 3 1 4 0 5 2 6 0 7 5 8 0 9 24 10 12 11 1 12 28 13 19 14 0 15 11 16 21 17 0 18 0 19 0 20 7 21 6 22 0 23 0"/>
<path stroke="#e26030" d="M0 0 1 21 2 0 3 0 4 6 5 2 6 10 7 0 8 5 9 0 10 17 11 1 12 27 13 1 14 8 15 4 16 27 17 2 18 8 19 20 20 0 21 4 22 13 23 1M0 2 1 9 2 21 3 5 4 5 5 5 6 0 7 1 8 13 9 0 10 1 11 27 12 30 13 4 14 0 15 17 16 28 17 5 18 16 19 1 20 14 21 0 22 17 23 2"/>
<path stroke="#f0ba38" d="M0 5 1 13 2 7 3 2 4 11 5 1 6 4 7 4 8 0 9 0 10 19 11 0 12 29 13 2 14 28 15 14 16 5 17 22 18 0 19 7 20 11 21 10 22 1 23 0M0 11 1 20 2 10 3 9 4 4 5 17 6 8 7 17 8 0 9 9 10 1 11 0 12 2 13 10 14 0 15 0 16 14 17 4 18 5 19 0 20 0 21 2 22 10 23 1"/>
<path stroke="#944aa2" d="M0 16 1 0 2 20 3 7 4 2 5 12 6 10 7 19 8 10 9 14 10 3 11 19 12 16 13 5 14 1 15 29 16 5 17 18 18 0 19 2 20 1 21 11 22 2 23 10"/>
<path stroke="#80b545" d="M0 23 1 7 2 0 3 0 4 0 5 0 6 12 7 0 8 3 9 0 10 9 11 17 12 7 13 13 14 0 15 0 16 0 17 1 18 0 19 13 20 16 21 11 22 1 23 2"/>
<path stroke="#944aa2" d="M0 20 1 0 2 11 3 10 4 0 5 0 6 9 7 0 8 0 9 17 10 1 11 5 12 1 13 1 14 28 15 4 16 6 17 1 18 0 19 11 20 23 21 0 22 6 23 4M0 0 1 2 2 11 3 1 4 0 5 2 6 16 7 12 8 20 9 0 10 1 11 25 12 27 13 4 14 0 15 7 16 22 17 2 18 23 19 0 20 12 21 0 22 14 23 2"/>
<path stroke="#80b545" d="M0 15 1 7 2 5 3 15 4 20 5 15 6 14 7 2 8 3 9 2 10 1 11 1 12 0 13 6 14 8 15 16 16 7 17 0 18 4 19 5 20 30 21 13 22 0 23 1M0 6 1 2 2 0 3 0 4 2 5 9 6 6 7 3 8 0 9 19 10 1 11 1 12 13 13 8 14 2 15 2 16 26 17 5 18 0 19 1 20 21 21 0 22 4 23 0"/>
<path stroke="#5fc5f0" d="M0 4 1 0 2 4 3 2 4 2 5 6 6 12 7 0 8 2 9 5 10 19 11 7 12 0 13 27 14 1 15 11 16 19 17 0 18 12 19 17 20 9 21 6 22 0 23 15M0 0 1 10 2 0 3 4 4 19 5 2 6 9 7 2 8 2 9 9 10 16 11 1 12 11 13 2 14 0 15 4 16 12 17 4 18 10 19 10 20 3 21 7 22 2 23 15"/>
<path stroke="#c02a48" d="M0 0 1 0 2 1 3 0 4 0 5 0 6 6 7 0 8 0 9 15 10 2 11 1 12 28 13 28 14 5 15 2 16 15 17 21 18 3 19 16 20 17 21 0 22 17 23 0M0 5 1 2 2 12 3 0 4 15 5 0 6 2 7 3 8 12 9 9 10 1 11 22 12 23 13 4 14 9 15 26 16 7 17 21 18 0 19 0 20 18 21 3 22 3 23 2"/>
<path stroke="#1a80c8" d="M0 7 1 0 2 3 3 8 4 10 5 1 6 0 7 2 8 5 9 5 10 0 11 1 12 5 13 0 14 3 15 0 16 5 17 3 18 21 19 18 20 0 21 1 22 0 23 1M0 1 1 0 2 8 3 2 4 6 5 2 6 0 7 0 8 1 9 14 10 2 11 29 12 16 13 23 14 5 15 5 16 0 17 9 18 21 19 0 20 5 21 13 22 11 23 7"/>
<path stroke="#e26030" d="M0 7 1 2 2 9 3 0 4 7 5 0 6 2 7 2 8 11 9 1 10 2 11 2 12 6 13 0 14 10 15 1 16 9 17 17 18 17 19 0 20 11 21 4 22 0 23 0"/>
<path stroke="#f0ba38" d="M0 2 1 0 2 12 3 12 4 0 5 2 6 5 7 0 8 14 9 0 10 6 11 22 12 19 13 0 14 1 15 0 16 2 17 28 18 0 19 2 20 2 21 3 22 1 23 5"/>
<path stroke="#e26030" d="M0 4 1 12 2 0 3 4 4 0 5 11 6 2 7 1 8 2 9 9 10 19 11 16 12 29 13 1 14 0 15 7 16 0 17 0 18 9 19 18 20 11 21 0 22 17 23 9M0 8 1 1 2 5 3 12 4 3 5 0 6 13 7 4 8 5 9 1 10 20 11 14 12 20 13 29 14 2 15 1 16 2 17 0 18 3 19 4 20 9 21 0 22 10 23 1"/>
<path stroke="#f0ba38" d="M0 0 1 8 2 0 3 0 4 1 5 1 6 1 7 1 8 0 9 0 10 3 11 2 12 0 13 0 14 5 15 1 16 0 17 18 18 1 19 15 20 1 21 0 22 2 23 1M0 12 1 21 2 3 3 1 4 9 5 16 6 1 7 1 8 0 9 11 10 1 11 8 12 4 13 0 14 3 15 3 16 3 17 26 18 21 19 9 20 19 21 18 22 16 23 8"/>
<path stroke="#944aa2" d="M0 3 1 14 2 12 3 0 4 0 5 1 6 2 7 0 8 13 9 21 10 6 11 2 12 0 13 0 14 5 15 0 16 8 17 0 18 17 19 1 20 4 21 11 22 13 23 0M0 9 1 3 2 1 3 3 4 1 5 0 6 9 7 12 8 19 9 0 10 7 11 18 12 3 13 26 14 1 15 1 16 15 17 0 18 0 19 6 20 5 21 8 22 0 23 3"/>
<path stroke="#80b545" d="M0 1 1 16 2 3 3 4 4 10 5 4 6 6 7 2 8 18 9 17 10 4 11 17 12 25 13 25 14 0 15 7 16 10 17 2 18 3 19 4 20 6 21 9 22 13 23 12M0 0 1 2 2 9 3 3 4 7 5 0 6 4 7 18 8 0 9 3 10 19 11 5 12 0 13 1 14 18 15 4 16 42 17 1 18 0 19 0 20 11 21 2 22 0 23 16"/>
<path stroke="#5fc5f0" d="M0 14 1 8 2 5 3 1 4 3 5 7 6 16 7 4 8 0 9 2 10 13 11 11 12 2 13 8 14 23 15 1 16 16 17 4 18 2 19 22 20 3 21 2 22 18 23 1M0 0 1 14 2 10 3 0 4 1 5 6 6 9 7 2 8 14 9 13 10 0 11 14 12 24 13 9 14 23 15 16 16 0 17 23 18 0 19 1 20 22 21 12 22 1 23 9"/>
<path stroke="#c02a48" d="M0 8 1 11 2 8 3 5 4 3 5 5 6 1 7 5 8 0 9 13 10 1 11 27 12 3 13 18 14 11 15 3 16 23 17 16 18 22 19 4 20 0 21 0 22 5 23 0"/>
<path stroke="#1a80c8" d="M0 2 1 10 2 6 3 3 4 7 5 1 6 1 7 10 8 3 9 1 10 7 11 0 12 1 13 3 14 27 15 14 16 13 17 19 18 6 19 23 20 0 21 19 22 0 23 1"/>
<path stroke="#c02a48" d="M0 5 1 1 2 4 3 2 4 6 5 1 6 0 7 0 8 7 9 13 10 1 11 0 12 54 13 11 14 24 15 18 16 4 17 2 18 4 19 0 20 1 21 0 22 0 23 1M0 5 1 1 2 2 3 0 4 9 5 16 6 14 7 1 8 0 9 10 10 24 11 17 12 7 13 26 14 0 15 0 16 22 17 21 18 2 19 9 20 3 21 3 22 8 23 0"/>
<path stroke="#1a80c8" d="M0 9 1 23 2 2 3 4 4 1 5 13 6 12 7 18 8 8 9 1 10 0 11 18 12 0 13 0 14 4 15 18 16 0 17 58 18 10 19 16 20 0 21 6 22 3 23 4M0 7 1 1 2 5 3 0 4 4 5 0 6 2 7 7 8 1 9 8 10 11 11 0 12 6 13 18 14 7 15 5 16 0 17 2 18 14 19 23 20 0 21 0 22 1 23 0"/>
<path stroke="#e26030" d="M0 9 1 5 2 3 3 2 4 6 5 8 6 17 7 20 8 17 9 11 10 27 11 0 12 9 13 0 14 2 15 0 16 7 17 1 18 13 19 0 20 12 21 7 22 9 23 8M0 17 1 4 2 10 3 18 4 1 5 5 6 2 7 4 8 19 9 6 10 4 11 0 12 1 13 9 14 2 15 22 16 5 17 23 18 8 19 1 20 3 21 1 22 0 23 2"/>
<path stroke="#f0ba38" d="M0 11 1 8 2 2 3 9 4 2 5 2 6 0 7 15 8 0 9 14 10 17 11 1 12 18 13 29 14 8 15 3 16 3 17 15 18 0 19 1 20 0 21 9 22 16 23 9M0 1 1 1 2 2 3 10 4 5 5 2 6 8 7 0 8 18 9 3 10 2 11 29 12 1 13 7 14 0 15 0 16 2 17 0 18 6 19 9 20 0 21 3 22 1 23 3"/>
<path stroke="#944aa2" d="M0 3 1 4 2 0 3 7 4 13 5 1 6 17 7 15 8 0 9 3 10 8 11 11 12 26 13 1 14 3 15 4 16 5 17 23 18 1 19 5 20 22 21 0 22 3 23 15M0 0 1 4 2 14 3 11 4 12 5 10 6 0 7 0 8 4 9 0 10 20 11 6 12 25 13 0 14 11 15 22 16 0 17 0 18 5 19 10 20 7 21 7 22 0 23 7"/>
<path stroke="#80b545" d="M0 20 1 11 2 0 3 2 4 11 5 0 6 10 7 0 8 13 9 3 10 13 11 25 12 2 13 4 14 3 15 0 16 5 17 4 18 4 19 11 20 18 21 14 22 13 23 10"/>
<path stroke="#5fc5f0" d="M0 3 1 0 2 1 3 13 4 3 5 4 6 2 7 1 8 14 9 3 10 4 11 0 12 1 13 1 14 0 15 7 16 2 17 0 18 16 19 2 20 1 21 12 22 4 23 12"/>
<path stroke="#80b545" d="M0 2 1 4 2 3 3 3 4 1 5 18 6 16 7 2 8 11 9 3 10 10 11 25 12 19 13 3 14 5 15 4 16 10 17 21 18 0 19 0 20 9 21 0 22 17 23 8M0 3 1 12 2 0 3 5 4 9 5 14 6 8 7 1 8 0 9 1 10 48 11 6 12 17 13 11 14 9 15 5 16 27 17 0 18 18 19 0 20 3 21 17 22 0 23 0"/>
<path stroke="#5fc5f0" d="M0 2 1 17 2 1 3 1 4 0 5 2 6 0 7 4 8 9 9 0 10 0 11 1 12 0 13 6 14 0 15 0 16 3 17 16 18 1 19 0 20 0 21 8 22 16 23 1M0 10 1 17 2 13 3 10 4 0 5 3 6 26 7 2 8 7 9 25 10 5 11 9 12 14 13 0 14 24 15 17 16 29 17 21 18 25 19 22 20 0 21 0 22 1 23 2"/>
<path stroke="#c02a48" d="M0 9 1 0 2 15 3 9 4 0 5 2 6 7 7 3 8 12 9 23 10 5 11 7 12 0 13 12 14 10 15 0 16 8 17 0 18 11 19 1 20 0 21 10 22 3 23 0M0 4 1 0 2 0 3 4 4 0 5 1 6 0 7 36 8 0 9 17 10 0 11 20 12 11 13 14 14 0 15 0 16 20 17 0 18 0 19 25 20 2 21 3 22 4 23 11"/>
<path stroke="#1a80c8" d="M0 16 1 14 2 1 3 0 4 0 5 1 6 2 7 0 8 1 9 4 10 7 11 1 12 1 13 26 14 10 15 1 16 18 17 23 18 6 19 8 20 20 21 19 22 1 23 0M0 22 1 4 2 0 3 3 4 3 5 0 6 0 7 0 8 7 9 14 10 3 11 7 12 13 13 0 14 15 15 40 16 15 17 3 18 3 19 18 20 14 21 0 22 6 23 12"/>
<path stroke="#e26030" d="M0 6 1 12 2 6 3 0 4 2 5 1 6 1 7 7 8 3 9 8 10 0 11 0 12 13 13 24 14 19 15 0 16 5 17 2 18 4 19 20 20 1 21 16 22 12 23 0M0 0 1 10 2 17 3 8 4 16 5 4 6 10 7 2 8 4 9 21 10 11 11 0 12 0 13 13 14 11 15 17 16 20 17 6 18 1 19 38 20 0 21 2 22 1 23 10"/>
<path stroke="#f0ba38" d="M0 3 1 3 2 12 3 3 4 0 5 9 6 7 7 6 8 19 9 1 10 27 11 20 12 20 13 22 14 13 15 2 16 8 17 15 18 0 19 0 20 4 21 2 22 18 23 10"/>
<path stroke="#944aa2" d="M0 13 1 0 2 0 3 7 4 0 5 3 6 2 7 3 8 19 9 0 10 4 11 2 12 13 13 13 14 18 15 9 16 3 17 27 18 17 19 3 20 4 21 2 22 10 23 14"/>
<path stroke="#f0ba38" d="M0 17 1 3 2 0 3 13 4 19 5 6 6 2 7 0 8 4 9 9 10 12 11 11 12 15 13 1 14 28 15 2 16 5 17 0 18 25 19 4 20 3 21 0 22 14 23 7M0 3 1 0 2 5 3 12 4 8 5 1 6 3 7 0 8 0 9 0 10 21 11 12 12 1 13 23 14 4 15 20 16 1 17 8 18 10 19 18 20 11 21 9 22 0 23 5"/>
<path stroke="#944aa2" d="M0 12 1 7 2 1 3 6 4 14 5 8 6 0 7 16 8 7 9 0 10 8 11 21 12 15 13 27 14 0 15 1 16 7 17 7 18 16 19 20 20 19 21 0 22 2 23 0M0 4 1 2 2 17 3 19 4 1 5 0 6 5 7 4 8 0 9 9 10 4 11 28 12 25 13 4 14 18 15 7 16 0 17 16 18 12 19 22 20 4 21 0 22 6 23 12"/>
<path stroke="#80b545" d="M0 2 1 15 2 16 3 15 4 0 5 5 6 8 7 1 8 2 9 0 10 11 11 8 12 15 13 6 14 2 15 22 16 7 17 5 18 12 19 0 20 5 21 10 22 17 23 8M0 0 1 2 2 7 3 15 4 5 5 0 6 1 7 14 8 0 9 5 10 21 11 10 12 9 13 0 14 0 15 22 16 9 17 0 18 0 19 15 20 6 21 0 22 0 23 0"/>
<path stroke="#5fc5f0" d="M0 8 1 1 2 12 3 2 4 13 5 2 6 3 7 3 8 0 9 2 10 7 11 13 12 3 13 2 14 17 15 5 16 13 17 1 18 19 19 22 20 0 21 17 22 5 23 0M0 8 1 13 2 0 3 16 4 9 5 17 6 18 7 2 8 10 9 4 10 0 11 0 12 1 13 18 14 1 15 4 16 1 17 29 18 16 19 0 20 0 21 11 22 17 23 1"/>
<path stroke="#c02a48" d="M0 10 1 11 2 0 3 4 4 1 5 19 6 0 7 0 8 0 9 2 10 4 11 2 12 12 13 28 14 3 15 0 16 1 17 26 18 0 19 1 20 2 21 9 22 6 23 1M0 4 1 4 2 1 3 2 4 6 5 4 6 2 7 5 8 18 9 13 10 24 11 2 12 2 13 22 14 1 15 0 16 3 17 0 18 0 19 16 20 0 21 2 22 1 23 1"/>
<path stroke="#1a80c8" d="M0 5 1 18 2 2 3 3 4 16 5 6 6 0 7 0 8 3 9 23 10 11 11 7 12 0 13 0 14 4 15 2 16 25 17 19 18 26 19 1 20 22 21 12 22 0 23 8"/>
<path stroke="#e26030" d="M0 0 1 17 2 10 3 0 4 6 5 4 6 6 7 2 8 15 9 18 10 6 11 8 12 0 13 0 14 3 15 11 16 2 17 11 18 0 19 5 20 8 21 20 22 0 23 0"/>
<path stroke="#1a80c8" d="M0 19 1 11 2 4 3 17 4 4 5 0 6 0 7 10 8 13 9 10 10 20 11 21 12 7 13 2 14 23 15 0 16 14 17 0 18 5 19 1 20 16 21 0 22 15 23 0M0 15 1 2 2 64 3 0 4 0 5 5 6 8 7 15 8 8 9 2 10 3 11 0 12 4 13 22 14 0 15 8 16 0 17 10 18 1 19 14 20 12 21 1 22 7 23 3"/>
<path stroke="#e26030" d="M0 19 1 1 2 8 3 14 4 1 5 6 6 1 7 1 8 0 9 3 10 0 11 0 12 0 13 4 14 0 15 4 16 2 17 0 18 0 19 6 20 3 21 0 22 0 23 9M0 10 1 2 2 6 3 15 4 13 5 1 6 10 7 1 8 0 9 18 10 6 11 54 12 0 13 2 14 24 15 11 16 26 17 1 18 1 19 3 20 4 21 5 22 4 23 2"/>
<path stroke="#f0ba38" d="M0 24 1 0 2 21 3 0 4 0 5 5 6 7 7 9 8 9 9 0 10 4 11 0 12 6 13 58 14 0 15 20 16 0 17 13 18 1 19 12 20 18 21 4 22 0 23 0"/>
<path stroke="#944aa2" d="M0 5 1 12 2 4 3 5 4 6 5 4 6 2 7 6 8 5 9 30 10 1 11 0 12 12 13 0 14 10 15 10 16 0 17 1 18 0 19 17 20 0 21 10 22 7 23 0"/>
<path stroke="#80b545" d="M0 1 1 6 2 0 3 0 4 36 5 0 6 1 7 16 8 14 9 6 10 5 11 21 12 0 13 17 14 1 15 7 16 10 17 0 18 20 19 15 20 1 21 4 22 0 23 3"/>
<path stroke="#5fc5f0" d="M0 3 1 21 2 12 3 13 4 0 5 1 6 1 7 0 8 6 9 1 10 2 11 20 12 0 13 13 14 5 15 22 16 5 17 1 18 48 19 0 20 20 21 10 22 4 23 15"/>
<path stroke="#c02a48" d="M0 18 1 30 2 5 3 11 4 0 5 15 6 0 7 1 8 1 9 0 10 0 11 16 12 4 13 0 14 12 15 14 16 6 17 1 18 3 19 0 20 23 21 17 22 1 23 2"/>
</g></g>
<path d="M184.4,393.4v-1.2M184.4,296.7v1.2M206.8,393.4v-1.2M206.8,296.7v1.2M229.2,393.4v-1.2M229.2,296.7v1.2M251.6,393.4v-1.2M251.6,296.7v1.2M166.5,369.2h1.2M269.5,369.2h-1.2M166.5,345h1.2M269.5,345h-1.2M166.5,320.9h1.2M269.5,320.9h-1.2" stroke="#858585" stroke-width="1" fill="none"/>
<text class="tk" x="163.9" y="396.2" text-anchor="end">0</text>
<text class="tk" x="163.9" y="372" text-anchor="end">0.2</text>
<text class="tk" x="163.9" y="347.8" text-anchor="end">0.4</text>
<text class="tk" x="163.9" y="323.7" text-anchor="end">0.6</text>
<text class="tk" x="163.9" y="299.5" text-anchor="end">0.8</text>
<text class="tk" x="184.4" y="405.3" text-anchor="middle">5</text>
<text class="tk" x="206.8" y="405.3" text-anchor="middle">10</text>
<text class="tk" x="229.2" y="405.3" text-anchor="middle">15</text>
<text class="tk" x="251.6" y="405.3" text-anchor="middle">20</text>
<text class="yl" transform="translate(149.8,345) rotate(-90)" text-anchor="middle">Precipitation ratio</text>
<text class="rl" x="167.6" y="413.1">(II)</text>
<text class="xl" x="201.7" y="415.5">Time/[h]</text>
<text class="tt" x="231.1" y="308">Total: 93</text>
<rect x="300.5" y="296.8" width="103" height="96.7" fill="none" stroke="#858585" stroke-width="1"/>
<clipPath id="cpb3"><rect x="299.9" y="296.2" width="104.2" height="97.9"/></clipPath>
<g clip-path="url(#cpb3)"><g class="pl th" transform="translate(300.5 393.5) scale(4.4783 -0.6044)">
<path stroke="#1a80c8" d="M0 14 1 13 2 4 3 2 4 0 5 4 6 6 7 0 8 0 9 31 10 10 11 1 12 3 13 17 14 14 15 13 16 2 17 4 18 8 19 0 20 5 21 1 22 15 23 0M0 5 1 0 2 6 3 1 4 1 5 29 6 14 7 2 8 16 9 31 10 20 11 13 12 2 13 6 14 6 15 0 16 8 17 5 18 5 19 10 20 0 21 1 22 19 23 1"/>
<path stroke="#e26030" d="M0 0 1 17 2 0 3 17 4 3 5 33 6 6 7 35 8 10 9 1 10 13 11 9 12 8 13 3 14 1 15 7 16 0 17 8 18 7 19 2 20 12 21 1 22 3 23 12M0 1 1 8 2 12 3 22 4 0 5 1 6 7 7 11 8 21 9 9 10 6 11 1 12 7 13 6 14 16 15 0 16 0 17 2 18 2 19 3 20 0 21 9 22 13 23 0"/>
<path stroke="#f0ba38" d="M0 14 1 0 2 2 3 0 4 21 5 24 6 1 7 10 8 2 9 7 10 7 11 0 12 13 13 1 14 3 15 0 16 0 17 1 18 2 19 16 20 15 21 4 22 4 23 8M0 6 1 6 2 14 3 2 4 0 5 1 6 8 7 1 8 2 9 16 10 3 11 2 12 1 13 5 14 18 15 0 16 13 17 11 18 6 19 5 20 5 21 0 22 6 23 20"/>
<path stroke="#944aa2" d="M0 3 1 9 2 2 3 16 4 1 5 27 6 10 7 20 8 9 9 2 10 6 11 0 12 0 13 4 14 4 15 12 16 0 17 5 18 4 19 6 20 10 21 5 22 6 23 4M0 6 1 11 2 0 3 5 4 22 5 4 6 27 7 7 8 32 9 4 10 17 11 0 12 2 13 0 14 2 15 3 16 1 17 3 18 8 19 6 20 1 21 9 22 9 23 3"/>
<path stroke="#80b545" d="M0 1 1 4 2 15 3 1 4 15 5 2 6 1 7 3 8 0 9 27 10 3 11 0 12 0 13 0 14 1 15 3 16 6 17 18 18 15 19 1 20 7 21 16 22 0 23 14M0 2 1 0 2 14 3 0 4 15 5 6 6 9 7 17 8 0 9 6 10 5 11 3 12 0 13 0 14 4 15 3 16 2 17 0 18 2 19 8 20 13 21 11 22 0 23 2"/>
<path stroke="#5fc5f0" d="M0 18 1 0 2 2 3 21 4 0 5 5 6 27 7 0 8 0 9 26 10 11 11 1 12 4 13 1 14 14 15 17 16 0 17 5 18 0 19 3 20 10 21 9 22 1 23 2"/>
<path stroke="#c02a48" d="M0 0 1 5 2 1 3 2 4 19 5 5 6 26 7 0 8 36 9 28 10 11 11 1 12 7 13 0 14 2 15 0 16 0 17 0 18 0 19 13 20 1 21 13 22 0 23 0"/>
<path stroke="#5fc5f0" d="M0 15 1 0 2 0 3 20 4 19 5 2 6 4 7 0 8 0 9 0 10 8 11 7 12 0 13 12 14 4 15 6 16 8 17 1 18 12 19 3 20 4 21 0 22 1 23 4M0 16 1 1 2 1 3 14 4 9 5 11 6 14 7 25 8 21 9 2 10 3 11 22 12 12 13 5 14 1 15 15 16 1 17 3 18 6 19 11 20 9 21 9 22 1 23 2"/>
<path stroke="#c02a48" d="M0 5 1 12 2 13 3 16 4 0 5 29 6 0 7 20 8 0 9 2 10 0 11 8 12 1 13 5 14 1 15 2 16 15 17 6 18 4 19 10 20 19 21 2 22 0 23 1M0 6 1 9 2 18 3 6 4 6 5 0 6 7 7 29 8 0 9 8 10 23 11 20 12 0 13 1 14 1 15 18 16 11 17 1 18 2 19 8 20 0 21 0 22 12 23 1"/>
<path stroke="#1a80c8" d="M0 11 1 6 2 11 3 1 4 3 5 11 6 31 7 10 8 0 9 0 10 0 11 12 12 14 13 0 14 12 15 0 16 13 17 9 18 4 19 4 20 1 21 17 22 1 23 1M0 0 1 30 2 6 3 10 4 29 5 2 6 2 7 3 8 23 9 12 10 14 11 1 12 0 13 3 14 15 15 1 16 10 17 9 18 2 19 9 20 16 21 1 22 1 23 3"/>
<path stroke="#e26030" d="M0 0 1 0 2 0 3 14 4 4 5 16 6 7 7 9 8 26 9 4 10 0 11 9 12 0 13 4 14 2 15 3 16 9 17 13 18 18 19 11 20 13 21 17 22 2 23 2M0 8 1 15 2 1 3 0 4 8 5 26 6 0 7 1 8 0 9 30 10 14 11 0 12 13 13 3 14 0 15 0 16 1 17 0 18 0 19 0 20 0 21 0 22 3 23 13"/>
<path stroke="#f0ba38" d="M0 8 1 0 2 15 3 0 4 2 5 11 6 2 7 6 8 4 9 13 10 6 11 15 12 6 13 9 14 0 15 8 16 15 17 0 18 11 19 11 20 0 21 7 22 2 23 2M0 16 1 3 2 0 3 3 4 28 5 17 6 1 7 1 8 4 9 27 10 6 11 1 12 1 13 1 14 5 15 1 16 0 17 12 18 8 19 6 20 1 21 3 22 15 23 1"/>
<path stroke="#944aa2" d="M0 1 1 6 2 3 3 11 4 1 5 7 6 36 7 12 8 31 9 16 10 0 11 8 12 0 13 0 14 6 15 0 16 0 17 2 18 0 19 8 20 1 21 1 22 5 23 5"/>
<path stroke="#80b545" d="M0 6 1 3 2 15 3 9 4 8 5 1 6 0 7 13 8 30 9 0 10 4 11 2 12 0 13 6 14 3 15 4 16 12 17 7 18 1 19 18 20 16 21 9 22 0 23 7"/>
<path stroke="#944aa2" d="M0 2 1 2 2 15 3 0 4 27 5 10 6 8 7 8 8 0 9 3 10 5 11 0 12 0 13 0 14 6 15 0 16 17 17 7 18 9 19 0 20 4 21 1 22 17 23 2M0 6 1 19 2 8 3 2 4 10 5 21 6 24 7 21 8 22 9 4 10 14 11 5 12 2 13 3 14 17 15 9 16 4 17 18 18 7 19 6 20 8 21 3 22 0 23 3"/>
<path stroke="#80b545" d="M0 9 1 0 2 1 3 23 4 1 5 1 6 0 7 0 8 5 9 11 10 20 11 21 12 2 13 4 14 2 15 3 16 13 17 3 18 10 19 14 20 3 21 2 22 0 23 8M0 3 1 6 2 5 3 0 4 22 5 26 6 33 7 1 8 2 9 7 10 2 11 0 12 0 13 0 14 0 15 4 16 15 17 0 18 0 19 18 20 0 21 1 22 10 23 6"/>
<path stroke="#5fc5f0" d="M0 0 1 11 2 3 3 6 4 1 5 16 6 15 7 15 8 31 9 0 10 6 11 0 12 2 13 7 14 12 15 1 16 15 17 16 18 16 19 3 20 7 21 4 22 0 23 1M0 12 1 9 2 7 3 23 4 1 5 8 6 3 7 8 8 20 9 19 10 5 11 0 12 0 13 7 14 7 15 11 16 2 17 6 18 1 19 10 20 0 21 3 22 15 23 9"/>
<path stroke="#c02a48" d="M0 14 1 11 2 0 3 20 4 4 5 19 6 41 7 16 8 2 9 10 10 4 11 1 12 0 13 10 14 3 15 3 16 2 17 6 18 7 19 12 20 1 21 6 22 4 23 0M0 3 1 14 2 6 3 2 4 0 5 36 6 12 7 18 8 5 9 3 10 1 11 5 12 12 13 0 14 5 15 5 16 0 17 0 18 5 19 3 20 10 21 6 22 2 23 7"/>
<path stroke="#1a80c8" d="M0 11 1 1 2 2 3 14 4 5 5 8 6 7 7 0 8 8 9 0 10 0 11 11 12 9 13 17 14 10 15 2 16 1 17 1 18 1 19 16 20 3 21 5 22 5 23 0M0 9 1 0 2 0 3 13 4 0 5 12 6 0 7 6 8 36 9 2 10 25 11 7 12 11 13 1 14 5 15 2 16 0 17 15 18 19 19 2 20 1 21 9 22 0 23 0"/>
<path stroke="#e26030" d="M0 18 1 19 2 2 3 7 4 12 5 2 6 6 7 13 8 1 9 17 10 26 11 0 12 18 13 4 14 11 15 4 16 4 17 0 18 1 19 0 20 5 21 8 22 3 23 16"/>
<path stroke="#f0ba38" d="M0 5 1 13 2 18 3 13 4 17 5 7 6 3 7 38 8 5 9 29 10 14 11 2 12 1 13 9 14 8 15 6 16 5 17 1 18 16 19 4 20 16 21 12 22 10 23 0"/>
<path stroke="#e26030" d="M0 18 1 6 2 0 3 1 4 10 5 12 6 0 7 33 8 2 9 24 10 18 11 18 12 0 13 6 14 1 15 8 16 12 17 3 18 1 19 0 20 17 21 0 22 8 23 14M0 18 1 3 2 0 3 7 4 6 5 0 6 3 7 3 8 22 9 14 10 22 11 17 12 15 13 7 14 0 15 3 16 4 17 17 18 14 19 9 20 13 21 0 22 3 23 4"/>
<path stroke="#f0ba38" d="M0 0 1 12 2 9 3 18 4 6 5 14 6 1 7 3 8 0 9 0 10 1 11 1 12 1 13 0 14 0 15 18 16 9 17 1 18 0 19 1 20 1 21 0 22 7 23 2M0 0 1 0 2 4 3 2 4 17 5 11 6 22 7 7 8 9 9 20 10 22 11 0 12 9 13 0 14 7 15 6 16 0 17 8 18 1 19 11 20 14 21 4 22 0 23 10"/>
<path stroke="#944aa2" d="M0 1 1 14 2 14 3 1 4 3 5 8 6 0 7 0 8 11 9 2 10 15 11 11 12 2 13 5 14 3 15 10 16 2 17 13 18 8 19 4 20 2 21 6 22 14 23 0M0 8 1 2 2 7 3 22 4 8 5 3 6 44 7 39 8 11 9 0 10 0 11 1 12 6 13 3 14 7 15 6 16 6 17 3 18 0 19 3 20 14 21 7 22 1 23 2"/>
<path stroke="#80b545" d="M0 1 1 2 2 0 3 0 4 1 5 20 6 15 7 7 8 18 9 13 10 1 11 0 12 0 13 0 14 5 15 0 16 8 17 0 18 7 19 2 20 2 21 13 22 11 23 6M0 1 1 4 2 1 3 5 4 10 5 26 6 0 7 3 8 10 9 25 10 0 11 8 12 3 13 3 14 0 15 2 16 1 17 3 18 1 19 14 20 11 21 16 22 1 23 6"/>
<path stroke="#5fc5f0" d="M0 18 1 8 2 0 3 9 4 21 5 28 6 9 7 19 8 18 9 2 10 12 11 6 12 4 13 2 14 3 15 2 16 8 17 5 18 6 19 1 20 9 21 3 22 0 23 2M0 5 1 7 2 18 3 0 4 4 5 8 6 13 7 1 8 8 9 26 10 1 11 0 12 4 13 6 14 16 15 12 16 4 17 10 18 1 19 16 20 19 21 2 22 13 23 1"/>
<path stroke="#c02a48" d="M0 3 1 14 2 2 3 3 4 19 5 24 6 40 7 0 8 10 9 0 10 4 11 10 12 11 13 1 14 4 15 0 16 5 17 4 18 19 19 7 20 10 21 0 22 26 23 2"/>
<path stroke="#1a80c8" d="M0 0 1 0 2 18 3 0 4 1 5 20 6 0 7 0 8 20 9 28 10 25 11 9 12 5 13 6 14 10 15 1 16 8 17 7 18 0 19 12 20 30 21 1 22 11 23 1"/>
<path stroke="#c02a48" d="M0 4 1 1 2 0 3 6 4 29 5 30 6 23 7 25 8 3 9 0 10 4 11 21 12 2 13 15 14 7 15 11 16 1 17 2 18 0 19 4 20 0 21 15 22 1 23 1M0 9 1 1 2 4 3 9 4 23 5 10 6 1 7 36 8 29 9 3 10 1 11 4 12 3 13 2 14 1 15 5 16 17 17 7 18 5 19 16 20 15 21 5 22 13 23 1"/>
<path stroke="#1a80c8" d="M0 8 1 3 2 5 3 15 4 15 5 7 6 39 7 22 8 2 9 25 10 0 11 0 12 9 13 3 14 9 15 0 16 0 17 4 18 1 19 5 20 4 21 4 22 17 23 0M0 19 1 0 2 3 3 6 4 0 5 35 6 21 7 31 8 8 9 29 10 2 11 2 12 1 13 7 14 9 15 13 16 1 17 17 18 3 19 0 20 4 21 0 22 5 23 0"/>
<path stroke="#e26030" d="M0 1 1 11 2 18 3 15 4 19 5 1 6 18 7 25 8 27 9 22 10 6 11 0 12 0 13 18 14 2 15 0 16 6 17 15 18 0 19 0 20 0 21 5 22 3 23 0M0 0 1 0 2 0 3 0 4 15 5 0 6 42 7 1 8 10 9 4 10 5 11 46 12 4 13 9 14 3 15 2 16 4 17 0 18 0 19 13 20 3 21 17 22 16 23 1"/>
<path stroke="#f0ba38" d="M0 2 1 12 2 1 3 4 4 11 5 6 6 9 7 6 8 13 9 11 10 5 11 16 12 2 13 10 14 2 15 0 16 3 17 0 18 16 19 16 20 0 21 13 22 0 23 3M0 21 1 1 2 4 3 9 4 4 5 10 6 1 7 1 8 33 9 0 10 12 11 12 12 8 13 12 14 1 15 18 16 8 17 15 18 24 19 13 20 2 21 3 22 4 23 6"/>
<path stroke="#944aa2" d="M0 0 1 17 2 10 3 20 4 11 5 0 6 0 7 5 8 0 9 0 10 8 11 9 12 5 13 6 14 2 15 2 16 7 17 6 18 2 19 9 20 0 21 11 22 0 23 16M0 0 1 20 2 9 3 0 4 19 5 21 6 4 7 17 8 15 9 19 10 16 11 14 12 3 13 0 14 5 15 2 16 0 17 0 18 1 19 7 20 19 21 8 22 13 23 0"/>
<path stroke="#80b545" d="M0 9 1 1 2 0 3 0 4 17 5 3 6 10 7 0 8 14 9 26 10 9 11 2 12 11 13 6 14 5 15 1 16 2 17 0 18 10 19 4 20 12 21 7 22 0 23 0"/>
<path stroke="#5fc5f0" d="M0 20 1 2 2 0 3 7 4 2 5 3 6 20 7 24 8 0 9 31 10 24 11 0 12 2 13 5 14 1 15 13 16 2 17 2 18 2 19 2 20 1 21 1 22 20 23 0"/>
<path stroke="#80b545" d="M0 0 1 0 2 0 3 18 4 26 5 27 6 15 7 12 8 20 9 3 10 24 11 0 12 17 13 10 14 26 15 7 16 11 17 3 18 2 19 3 20 5 21 11 22 1 23 2M0 4 1 1 2 0 3 6 4 22 5 24 6 26 7 4 8 10 9 25 10 7 11 0 12 17 13 3 14 9 15 0 16 4 17 14 18 2 19 18 20 0 21 2 22 18 23 5"/>
<path stroke="#5fc5f0" d="M0 2 1 0 2 0 3 9 4 0 5 6 6 4 7 7 8 6 9 30 10 6 11 9 12 16 13 10 14 5 15 1 16 11 17 13 18 5 19 12 20 0 21 5 22 13 23 0M0 4 1 1 2 13 3 3 4 17 5 27 6 3 7 5 8 23 9 1 10 14 11 12 12 0 13 5 14 0 15 9 16 1 17 16 18 2 19 0 20 0 21 4 22 2 23 10"/>
<path stroke="#c02a48" d="M0 21 1 0 2 7 3 2 4 3 5 70 6 38 7 4 8 0 9 6 10 6 11 2 12 10 13 0 14 1 15 1 16 14 17 4 18 4 19 13 20 1 21 3 22 1 23 10M0 2 1 0 2 1 3 2 4 0 5 10 6 29 7 32 8 0 9 0 10 1 11 0 12 12 13 0 14 2 15 2 16 0 17 0 18 0 19 13 20 11 21 1 22 0 23 12"/>
<path stroke="#1a80c8" d="M0 7 1 0 2 8 3 1 4 7 5 16 6 30 7 3 8 64 9 0 10 0 11 2 12 2 13 1 14 0 15 5 16 5 17 2 18 11 19 14 20 19 21 8 22 3 23 0M0 4 1 3 2 3 3 1 4 14 5 17 6 1 7 2 8 27 9 4 10 13 11 9 12 16 13 8 14 14 15 0 16 2 17 0 18 0 19 11 20 2 21 16 22 8 23 3"/>
<path stroke="#e26030" d="M0 5 1 1 2 15 3 1 4 10 5 4 6 1 7 13 8 3 9 28 10 22 11 19 12 9 13 15 14 6 15 0 16 1 17 1 18 0 19 2 20 5 21 3 22 0 23 13M0 16 1 19 2 3 3 23 4 7 5 2 6 10 7 3 8 30 9 0 10 1 11 2 12 13 13 0 14 15 15 0 16 4 17 13 18 2 19 8 20 8 21 4 22 2 23 2"/>
<path stroke="#f0ba38" d="M0 8 1 1 2 0 3 8 4 11 5 6 6 0 7 9 8 0 9 4 10 2 11 0 12 2 13 3 14 0 15 0 16 15 17 1 18 0 19 5 20 9 21 3 22 5 23 6"/>
<path stroke="#944aa2" d="M0 4 1 3 2 2 3 10 4 0 5 23 6 0 7 0 8 0 9 10 10 8 11 9 12 2 13 1 14 0 15 4 16 1 17 2 18 13 19 0 20 9 21 0 22 1 23 14"/>
<path stroke="#f0ba38" d="M0 4 1 1 2 7 3 1 4 17 5 0 6 1 7 1 8 23 9 1 10 23 11 4 12 14 13 5 14 0 15 16 16 14 17 13 18 4 19 9 20 0 21 5 22 7 23 4M0 3 1 4 2 2 3 12 4 1 5 1 6 8 7 54 8 2 9 1 10 0 11 9 12 8 13 5 14 8 15 8 16 15 17 0 18 4 19 0 20 10 21 5 22 0 23 15"/>
<path stroke="#944aa2" d="M0 2 1 8 2 0 3 22 4 13 5 10 6 0 7 5 8 4 9 0 10 25 11 12 12 0 13 16 14 14 15 14 16 4 17 11 18 0 19 0 20 0 21 6 22 1 23 7M0 9 1 0 2 7 3 0 4 9 5 25 6 6 7 9 8 21 9 30 10 22 11 17 12 0 13 8 14 13 15 13 16 0 17 5 18 18 19 4 20 15 21 18 22 11 23 4"/>
<path stroke="#80b545" d="M0 10 1 1 2 16 3 1 4 0 5 2 6 11 7 0 8 23 9 4 10 0 11 3 12 0 13 5 14 5 15 8 16 0 17 0 18 4 19 0 20 1 21 1 22 10 23 3M0 3 1 11 2 6 3 1 4 1 5 36 6 5 7 2 8 1 9 1 10 50 11 4 12 15 13 16 14 8 15 1 16 14 17 1 18 7 19 19 20 18 21 14 22 5 23 0"/>
<path stroke="#5fc5f0" d="M0 2 1 0 2 7 3 0 4 1 5 4 6 1 7 4 8 0 9 22 10 16 11 0 12 3 13 1 14 4 15 16 16 15 17 2 18 3 19 2 20 18 21 0 22 1 23 3M0 50 1 8 2 10 3 16 4 11 5 11 6 9 7 1 8 0 9 0 10 0 11 11 12 3 13 12 14 18 15 0 16 18 17 0 18 2 19 4 20 1 21 17 22 2 23 0"/>
<path stroke="#c02a48" d="M0 1 1 0 2 9 3 3 4 13 5 33 6 39 7 36 8 9 9 18 10 23 11 9 12 8 13 4 14 3 15 14 16 0 17 1 18 0 19 5 20 0 21 2 22 4 23 14M0 7 1 4 2 0 3 13 4 46 5 13 6 20 7 21 8 8 9 21 10 20 11 0 12 4 13 14 14 13 15 13 16 3 17 7 18 9 19 18 20 1 21 8 22 0 23 16"/>
<path stroke="#1a80c8" d="M0 13 1 3 2 1 3 12 4 4 5 9 6 30 7 35 8 6 9 2 10 19 11 13 12 2 13 3 14 1 15 1 16 1 17 4 18 0 19 0 20 1 21 4 22 4 23 8"/>
<path stroke="#e26030" d="M0 14 1 0 2 15 3 5 4 27 5 82 6 9 7 18 8 2 9 7 10 2 11 15 12 1 13 8 14 2 15 0 16 10 17 6 18 0 19 8 20 9 21 0 22 0 23 8"/>
<path stroke="#1a80c8" d="M0 9 1 17 2 6 3 1 4 23 5 27 6 58 7 0 8 0 9 16 10 9 11 1 12 13 13 0 14 1 15 13 16 2 17 14 18 10 19 6 20 11 21 3 22 5 23 5"/>
</g></g>
<path d="M318.4,393.5v-1.2M318.4,296.8v1.2M340.8,393.5v-1.2M340.8,296.8v1.2M363.2,393.5v-1.2M363.2,296.8v1.2M385.6,393.5v-1.2M385.6,296.8v1.2M300.5,369.3h1.2M403.5,369.3h-1.2M300.5,345.1h1.2M403.5,345.1h-1.2M300.5,321h1.2M403.5,321h-1.2" stroke="#858585" stroke-width="1" fill="none"/>
<text class="tk" x="297.9" y="396.3" text-anchor="end">0</text>
<text class="tk" x="297.9" y="372.1" text-anchor="end">0.2</text>
<text class="tk" x="297.9" y="347.9" text-anchor="end">0.4</text>
<text class="tk" x="297.9" y="323.8" text-anchor="end">0.6</text>
<text class="tk" x="297.9" y="299.6" text-anchor="end">0.8</text>
<text class="tk" x="318.4" y="405.3" text-anchor="middle">5</text>
<text class="tk" x="340.8" y="405.3" text-anchor="middle">10</text>
<text class="tk" x="363.2" y="405.3" text-anchor="middle">15</text>
<text class="tk" x="385.6" y="405.3" text-anchor="middle">20</text>
<text class="yl" transform="translate(283.8,345.1) rotate(-90)" text-anchor="middle">Precipitation ratio</text>
<text class="rl" x="300" y="413.1">(III)</text>
<text class="xl" x="336.7" y="415.5">Time/[h]</text>
<text class="tt" x="362.3" y="308">Total: 85</text>
<rect x="436.7" y="297.3" width="102.8" height="96.7" fill="none" stroke="#858585" stroke-width="1"/>
<clipPath id="cpb4"><rect x="436.1" y="296.7" width="104" height="97.9"/></clipPath>
<g clip-path="url(#cpb4)"><g class="pl" transform="translate(436.7 394) scale(4.4696 -0.6044)">
<path stroke="#1a80c8" d="M0 12 1 16 2 8 3 9 4 29 5 10 6 18 7 9 8 6 9 6 10 8 11 5 12 9 13 4 14 4 15 4 16 7 17 5 18 3 19 13 20 4 21 5 22 6 23 12M0 24 1 18 2 24 3 26 4 22 5 32 6 8 7 4 8 3 9 5 10 3 11 3 12 3 13 3 14 5 15 2 16 13 17 1 18 2 19 5 20 6 21 4 22 6 23 6"/>
<path stroke="#e26030" d="M0 7 1 28 2 11 3 10 4 15 5 17 6 9 7 9 8 6 9 6 10 4 11 12 12 2 13 2 14 4 15 3 16 1 17 3 18 3 19 1 20 8 21 10 22 9 23 5M0 8 1 7 2 15 3 36 4 20 5 23 6 12 7 5 8 3 9 6 10 2 11 6 12 3 13 7 14 4 15 5 16 8 17 3 18 5 19 4 20 6 21 7 22 6 23 6"/>
<path stroke="#f0ba38" d="M0 13 1 10 2 28 3 24 4 16 5 13 6 10 7 14 8 14 9 6 10 5 11 7 12 5 13 20 14 6 15 5 16 4 17 6 18 8 19 5 20 11 21 8 22 5 23 12M0 14 1 24 2 21 3 34 4 31 5 7 6 8 7 6 8 8 9 3 10 5 11 4 12 2 13 5 14 7 15 4 16 8 17 6 18 6 19 4 20 5 21 6 22 5 23 3"/>
<path stroke="#944aa2" d="M0 9 1 14 2 25 3 14 4 14 5 28 6 10 7 6 8 3 9 4 10 11 11 8 12 4 13 3 14 12 15 11 16 9 17 8 18 2 19 3 20 7 21 4 22 6 23 5M0 24 1 7 2 25 3 22 4 13 5 14 6 7 7 12 8 3 9 8 10 4 11 7 12 2 13 3 14 6 15 3 16 2 17 5 18 8 19 5 20 5 21 6 22 4 23 10"/>
<path stroke="#80b545" d="M0 24 1 10 2 21 3 11 4 35 5 11 6 5 7 6 8 4 9 4 10 6 11 5 12 4 13 8 14 13 15 5 16 4 17 3 18 7 19 26 20 5 21 2 22 3 23 3M0 20 1 28 2 22 3 14 4 15 5 29 6 17 7 4 8 5 9 10 10 10 11 4 12 5 13 6 14 3 15 2 16 4 17 9 18 9 19 6 20 3 21 2 22 3 23 6"/>
<path stroke="#5fc5f0" d="M0 13 1 12 2 25 3 21 4 22 5 16 6 10 7 4 8 3 9 24 10 14 11 9 12 2 13 5 14 9 15 2 16 4 17 4 18 3 19 3 20 9 21 4 22 5 23 12"/>
<path stroke="#c02a48" d="M0 19 1 8 2 12 3 19 4 40 5 32 6 7 7 10 8 14 9 3 10 5 11 10 12 7 13 3 14 11 15 8 16 7 17 3 18 5 19 10 20 6 21 7 22 4 23 12"/>
<path stroke="#5fc5f0" d="M0 11 1 16 2 22 3 36 4 40 5 26 6 11 7 6 8 6 9 3 10 6 11 9 12 7 13 5 14 3 15 3 16 4 17 4 18 6 19 6 20 7 21 8 22 3 23 5M0 10 1 23 2 32 3 36 4 21 5 32 6 19 7 4 8 6 9 4 10 5 11 10 12 6 13 12 14 7 15 8 16 12 17 10 18 8 19 10 20 10 21 3 22 3 23 7"/>
<path stroke="#c02a48" d="M0 12 1 6 2 17 3 25 4 40 5 19 6 16 7 5 8 5 9 3 10 3 11 6 12 4 13 10 14 5 15 6 16 3 17 3 18 7 19 4 20 9 21 3 22 3 23 12M0 24 1 28 2 14 3 29 4 40 5 6 6 24 7 9 8 4 9 5 10 2 11 7 12 11 13 5 14 12 15 7 16 3 17 7 18 2 19 2 20 7 21 7 22 5 23 6"/>
<path stroke="#1a80c8" d="M0 9 1 9 2 24 3 15 4 15 5 32 6 5 7 9 8 9 9 4 10 3 11 5 12 4 13 3 14 6 15 5 16 13 17 10 18 6 19 7 20 12 21 9 22 5 23 4M0 9 1 18 2 32 3 22 4 23 5 40 6 6 7 7 8 8 9 6 10 6 11 3 12 5 13 11 14 13 15 9 16 4 17 4 18 5 19 13 20 3 21 5 22 2 23 5"/>
<path stroke="#e26030" d="M0 24 1 28 2 15 3 35 4 10 5 9 6 9 7 8 8 3 9 5 10 9 11 2 12 3 13 2 14 9 15 3 16 4 17 3 18 5 19 4 20 5 21 5 22 11 23 4M0 9 1 11 2 18 3 10 4 18 5 17 6 18 7 10 8 3 9 8 10 12 11 8 12 4 13 3 14 4 15 12 16 3 17 1 18 8 19 4 20 5 21 4 22 9 23 5"/>
<path stroke="#f0ba38" d="M0 17 1 14 2 16 3 24 4 16 5 13 6 16 7 9 8 3 9 10 10 4 11 2 12 7 13 7 14 6 15 3 16 9 17 6 18 6 19 6 20 6 21 12 22 4 23 7M0 8 1 23 2 46 3 14 4 40 5 11 6 10 7 5 8 4 9 5 10 4 11 8 12 3 13 6 14 3 15 3 16 5 17 6 18 4 19 6 20 6 21 3 22 5 23 4"/>
<path stroke="#944aa2" d="M0 12 1 19 2 12 3 21 4 40 5 7 6 5 7 2 8 6 9 6 10 3 11 6 12 5 13 13 14 3 15 6 16 4 17 12 18 6 19 3 20 6 21 5 22 3 23 7"/>
<path stroke="#80b545" d="M0 14 1 16 2 9 3 26 4 15 5 19 6 12 7 8 8 9 9 5 10 6 11 3 12 5 13 4 14 5 15 5 16 2 17 7 18 7 19 2 20 6 21 8 22 7 23 9"/>
<path stroke="#944aa2" d="M0 16 1 25 2 23 3 29 4 40 5 32 6 11 7 4 8 9 9 3 10 4 11 3 12 4 13 2 14 4 15 9 16 13 17 7 18 8 19 8 20 4 21 3 22 6 23 11M0 14 1 17 2 23 3 30 4 40 5 22 6 9 7 7 8 9 9 5 10 2 11 2 12 3 13 3 14 6 15 6 16 2 17 3 18 6 19 6 20 5 21 12 22 3 23 11"/>
<path stroke="#80b545" d="M0 12 1 11 2 10 3 23 4 29 5 18 6 9 7 5 8 9 9 8 10 4 11 3 12 4 13 4 14 9 15 3 16 6 17 3 18 24 19 13 20 4 21 6 22 4 23 11M0 7 1 15 2 10 3 36 4 9 5 12 6 4 7 6 8 9 9 6 10 4 11 9 12 2 13 3 14 2 15 8 16 2 17 10 18 3 19 4 20 4 21 7 22 4 23 5"/>
<path stroke="#5fc5f0" d="M0 13 1 4 2 18 3 12 4 40 5 8 6 14 7 30 8 5 9 8 10 9 11 5 12 4 13 2 14 12 15 8 16 6 17 2 18 8 19 4 20 5 21 6 22 8 23 5M0 6 1 17 2 16 3 14 4 19 5 32 6 6 7 4 8 6 9 6 10 4 11 3 12 3 13 13 14 2 15 5 16 7 17 7 18 13 19 6 20 4 21 3 22 4 23 12"/>
<path stroke="#c02a48" d="M0 14 1 22 2 32 3 19 4 16 5 18 6 6 7 7 8 5 9 11 10 5 11 10 12 5 13 5 14 4 15 5 16 4 17 3 18 3 19 8 20 6 21 12 22 11 23 4M0 12 1 8 2 12 3 6 4 14 5 30 6 24 7 7 8 5 9 2 10 6 11 4 12 13 13 6 14 5 15 2 16 11 17 5 18 13 19 7 20 5 21 7 22 8 23 5"/>
<path stroke="#1a80c8" d="M0 9 1 17 2 19 3 14 4 27 5 17 6 13 7 9 8 4 9 7 10 5 11 5 12 4 13 5 14 4 15 3 16 9 17 3 18 6 19 7 20 6 21 4 22 5 23 3M0 20 1 14 2 32 3 16 4 32 5 15 6 11 7 15 8 7 9 6 10 5 11 2 12 4 13 4 14 12 15 4 16 5 17 5 18 4 19 8 20 3 21 7 22 2 23 4"/>
<path stroke="#e26030" d="M0 17 1 10 2 29 3 36 4 40 5 15 6 11 7 6 8 5 9 12 10 2 11 4 12 5 13 4 14 3 15 8 16 5 17 4 18 3 19 5 20 8 21 5 22 9 23 5"/>
<path stroke="#f0ba38" d="M0 13 1 12 2 31 3 15 4 17 5 28 6 4 7 12 8 4 9 6 10 4 11 2 12 6 13 4 14 5 15 6 16 6 17 5 18 7 19 3 20 12 21 2 22 5 23 6"/>
<path stroke="#e26030" d="M0 5 1 16 2 9 3 21 4 29 5 14 6 8 7 6 8 4 9 7 10 6 11 4 12 13 13 3 14 12 15 4 16 10 17 8 18 4 19 7 20 12 21 2 22 3 23 4M0 24 1 9 2 31 3 36 4 13 5 17 6 7 7 7 8 4 9 13 10 6 11 14 12 13 13 10 14 4 15 4 16 4 17 22 18 6 19 6 20 6 21 12 22 5 23 6"/>
<path stroke="#f0ba38" d="M0 8 1 23 2 8 3 13 4 35 5 11 6 6 7 6 8 3 9 3 10 5 11 4 12 5 13 3 14 5 15 6 16 7 17 4 18 4 19 3 20 6 21 8 22 8 23 9M0 19 1 12 2 17 3 31 4 74 5 13 6 17 7 10 8 4 9 4 10 3 11 5 12 7 13 6 14 3 15 3 16 7 17 2 18 12 19 1 20 5 21 4 22 3 23 4"/>
<path stroke="#944aa2" d="M0 24 1 6 2 31 3 36 4 25 5 32 6 6 7 3 8 5 9 7 10 3 11 5 12 4 13 13 14 4 15 10 16 2 17 5 18 5 19 3 20 4 21 6 22 4 23 5M0 13 1 27 2 18 3 36 4 29 5 32 6 6 7 7 8 7 9 2 10 4 11 3 12 7 13 3 14 6 15 5 16 5 17 2 18 7 19 2 20 9 21 5 22 18 23 5"/>
<path stroke="#80b545" d="M0 13 1 14 2 13 3 16 4 32 5 25 6 24 7 5 8 3 9 13 10 5 11 3 12 8 13 5 14 4 15 3 16 8 17 8 18 11 19 5 20 4 21 5 22 6 23 5M0 7 1 28 2 25 3 30 4 40 5 22 6 30 7 3 8 12 9 5 10 5 11 7 12 8 13 3 14 5 15 4 16 3 17 4 18 4 19 5 20 2 21 3 22 8 23 3"/>
<path stroke="#5fc5f0" d="M0 4 1 28 2 12 3 36 4 40 5 19 6 6 7 7 8 4 9 7 10 3 11 9 12 4 13 13 14 2 15 8 16 3 17 9 18 5 19 2 20 3 21 4 22 3 23 6M0 6 1 6 2 17 3 52 4 40 5 9 6 19 7 8 8 2 9 6 10 12 11 8 12 4 13 5 14 5 15 5 16 5 17 3 18 3 19 2 20 5 21 5 22 3 23 11"/>
<path stroke="#c02a48" d="M0 18 1 28 2 32 3 27 4 28 5 21 6 10 7 6 8 4 9 3 10 4 11 11 12 2 13 3 14 2 15 7 16 12 17 8 18 4 19 7 20 6 21 7 22 3 23 9"/>
<path stroke="#1a80c8" d="M0 28 1 23 2 15 3 26 4 31 5 12 6 9 7 12 8 2 9 5 10 5 11 4 12 2 13 7 14 13 15 5 16 8 17 6 18 6 19 4 20 6 21 3 22 5 23 6"/>
<path stroke="#c02a48" d="M0 13 1 9 2 32 3 33 4 24 5 17 6 16 7 11 8 5 9 4 10 9 11 5 12 4 13 5 14 4 15 6 16 20 17 5 18 7 19 4 20 4 21 6 22 3 23 5"/>
</g></g>
<path d="M454.6,394v-1.2M454.6,297.3v1.2M476.9,394v-1.2M476.9,297.3v1.2M499.3,394v-1.2M499.3,297.3v1.2M521.6,394v-1.2M521.6,297.3v1.2M436.7,369.8h1.2M539.5,369.8h-1.2M436.7,345.6h1.2M539.5,345.6h-1.2M436.7,321.5h1.2M539.5,321.5h-1.2" stroke="#858585" stroke-width="1" fill="none"/>
<text class="tk" x="434.1" y="396.8" text-anchor="end">0</text>
<text class="tk" x="434.1" y="372.6" text-anchor="end">0.2</text>
<text class="tk" x="434.1" y="348.4" text-anchor="end">0.4</text>
<text class="tk" x="434.1" y="324.3" text-anchor="end">0.6</text>
<text class="tk" x="434.1" y="300.1" text-anchor="end">0.8</text>
<text class="tk" x="454.6" y="405.3" text-anchor="middle">5</text>
<text class="tk" x="476.9" y="405.3" text-anchor="middle">10</text>
<text class="tk" x="499.3" y="405.3" text-anchor="middle">15</text>
<text class="tk" x="521.6" y="405.3" text-anchor="middle">20</text>
<text class="yl" transform="translate(420,345.6) rotate(-90)" text-anchor="middle">Precipitation ratio</text>
<text class="rl" x="435.4" y="413.1">(IV)</text>
<text class="xl" x="472.3" y="415.5">Time/[h]</text>
<text class="tt" x="502.5" y="308">Total: 49</text>
<rect x="29.7" y="427.5" width="103.2" height="96.5" fill="none" stroke="#858585" stroke-width="1"/>
<clipPath id="cpb5"><rect x="29.1" y="426.9" width="104.4" height="97.7"/></clipPath>
<g clip-path="url(#cpb5)"><g class="pl" transform="translate(29.7 524) scale(4.4870 -0.6031)">
<path stroke="#1a80c8" d="M0 8 1 6 2 2 3 5 4 7 5 7 6 3 7 5 8 4 9 4 10 11 11 4 12 6 13 10 14 4 15 6 16 6 17 7 18 5 19 13 20 30 21 9 22 32 23 17M0 4 1 10 2 6 3 8 4 6 5 4 6 4 7 6 8 5 9 7 10 6 11 3 12 6 13 3 14 4 15 5 16 2 17 7 18 10 19 11 20 13 21 16 22 12 23 14"/>
<path stroke="#e26030" d="M0 3 1 8 2 3 3 2 4 6 5 4 6 7 7 16 8 4 9 5 10 7 11 8 12 6 13 6 14 9 15 8 16 3 17 7 18 9 19 7 20 18 21 12 22 33 23 18M0 10 1 13 2 9 3 6 4 8 5 4 6 3 7 9 8 6 9 8 10 3 11 5 12 4 13 4 14 2 15 5 16 10 17 9 18 6 19 12 20 24 21 4 22 19 23 22"/>
<path stroke="#f0ba38" d="M0 3 1 10 2 7 3 7 4 4 5 9 6 5 7 6 8 4 9 3 10 13 11 5 12 7 13 6 14 5 15 5 16 8 17 6 18 8 19 12 20 30 21 29 22 25 23 12M0 16 1 16 2 7 3 8 4 16 5 6 6 4 7 7 8 8 9 4 10 3 11 3 12 9 13 4 14 6 15 7 16 8 17 6 18 12 19 7 20 13 21 11 22 33 23 16"/>
<path stroke="#944aa2" d="M0 7 1 3 2 5 3 10 4 6 5 7 6 6 7 12 8 6 9 2 10 4 11 2 12 1 13 5 14 13 15 6 16 3 17 4 18 17 19 13 20 16 21 19 22 20 23 25M0 3 1 8 2 6 3 6 4 6 5 5 6 5 7 3 8 6 9 16 10 16 11 13 12 9 13 4 14 14 15 6 16 6 17 6 18 9 19 9 20 15 21 11 22 16 23 30"/>
<path stroke="#80b545" d="M0 7 1 11 2 6 3 6 4 6 5 7 6 3 7 6 8 4 9 10 10 4 11 9 12 14 13 5 14 4 15 7 16 6 17 4 18 12 19 24 20 14 21 18 22 11 23 19M0 7 1 14 2 9 3 8 4 8 5 3 6 6 7 6 8 7 9 3 10 16 11 7 12 3 13 2 14 5 15 6 16 4 17 7 18 24 19 16 20 11 21 20 22 33 23 30"/>
<path stroke="#5fc5f0" d="M0 4 1 7 2 4 3 13 4 12 5 12 6 5 7 9 8 6 9 5 10 5 11 3 12 3 13 10 14 6 15 7 16 10 17 3 18 6 19 13 20 20 21 16 22 33 23 18"/>
<path stroke="#c02a48" d="M0 4 1 7 2 7 3 12 4 4 5 7 6 3 7 9 8 4 9 2 10 6 11 12 12 3 13 3 14 4 15 3 16 7 17 4 18 6 19 17 20 11 21 25 22 12 23 8"/>
<path stroke="#5fc5f0" d="M0 16 1 11 2 8 3 7 4 16 5 4 6 6 7 8 8 10 9 5 10 8 11 5 12 7 13 6 14 3 15 6 16 10 17 4 18 8 19 17 20 9 21 22 22 11 23 30M0 10 1 10 2 3 3 6 4 8 5 5 6 2 7 6 8 10 9 15 10 2 11 16 12 3 13 10 14 12 15 10 16 7 17 4 18 13 19 8 20 4 21 36 22 30 23 30"/>
<path stroke="#c02a48" d="M0 7 1 7 2 5 3 5 4 12 5 8 6 11 7 13 8 9 9 16 10 4 11 10 12 5 13 16 14 16 15 2 16 4 17 10 18 14 19 18 20 15 21 26 22 29 23 15M0 4 1 7 2 9 3 3 4 4 5 4 6 10 7 16 8 10 9 5 10 14 11 3 12 14 13 4 14 1 15 16 16 14 17 4 18 10 19 11 20 17 21 9 22 14 23 21"/>
<path stroke="#1a80c8" d="M0 5 1 6 2 8 3 3 4 3 5 4 6 2 7 4 8 16 9 4 10 9 11 3 12 32 13 5 14 6 15 8 16 16 17 8 18 10 19 7 20 22 21 17 22 46 23 16M0 16 1 9 2 10 3 14 4 5 5 8 6 4 7 4 8 5 9 6 10 7 11 8 12 3 13 16 14 12 15 9 16 5 17 7 18 12 19 15 20 6 21 30 22 33 23 6"/>
<path stroke="#e26030" d="M0 8 1 8 2 4 3 5 4 10 5 8 6 5 7 16 8 16 9 3 10 8 11 16 12 10 13 7 14 5 15 5 16 5 17 5 18 14 19 32 20 13 21 10 22 19 23 10M0 11 1 5 2 8 3 14 4 10 5 7 6 16 7 10 8 5 9 10 10 8 11 4 12 7 13 6 14 2 15 5 16 5 17 5 18 4 19 10 20 16 21 21 22 11 23 23"/>
<path stroke="#f0ba38" d="M0 6 1 9 2 12 3 5 4 4 5 3 6 4 7 9 8 7 9 4 10 5 11 6 12 8 13 4 14 5 15 2 16 3 17 17 18 3 19 10 20 18 21 78 22 13 23 15M0 8 1 10 2 3 3 6 4 6 5 6 6 2 7 11 8 5 9 5 10 6 11 6 12 8 13 3 14 4 15 7 16 7 17 6 18 7 19 8 20 15 21 36 22 11 23 30"/>
<path stroke="#944aa2" d="M0 5 1 6 2 8 3 10 4 13 5 13 6 13 7 14 8 9 9 3 10 6 11 8 12 5 13 10 14 5 15 4 16 13 17 10 18 10 19 20 20 29 21 24 22 5 23 11"/>
<path stroke="#80b545" d="M0 6 1 7 2 8 3 5 4 7 5 16 6 3 7 8 8 4 9 7 10 10 11 6 12 10 13 3 14 11 15 4 16 8 17 8 18 2 19 8 20 18 21 36 22 23 23 18"/>
<path stroke="#944aa2" d="M0 7 1 10 2 5 3 7 4 2 5 10 6 5 7 11 8 2 9 9 10 6 11 10 12 4 13 4 14 16 15 4 16 4 17 6 18 5 19 23 20 30 21 14 22 8 23 30M0 16 1 12 2 12 3 3 4 6 5 4 6 5 7 11 8 4 9 6 10 2 11 6 12 7 13 4 14 4 15 16 16 3 17 4 18 6 19 23 20 30 21 24 22 13 23 13"/>
<path stroke="#80b545" d="M0 11 1 4 2 4 3 10 4 6 5 3 6 16 7 4 8 7 9 7 10 14 11 5 12 11 13 4 14 11 15 4 16 5 17 19 18 11 19 13 20 30 21 24 22 13 23 24M0 8 1 4 2 14 3 12 4 5 5 11 6 4 7 12 8 6 9 4 10 5 11 4 12 7 13 7 14 28 15 4 16 1 17 7 18 3 19 14 20 30 21 23 22 16 23 14"/>
<path stroke="#5fc5f0" d="M0 16 1 6 2 3 3 5 4 6 5 16 6 7 7 11 8 4 9 8 10 9 11 16 12 4 13 9 14 7 15 3 16 6 17 6 18 3 19 17 20 22 21 16 22 10 23 30M0 8 1 10 2 15 3 4 4 5 5 3 6 16 7 13 8 10 9 3 10 7 11 6 12 7 13 6 14 8 15 5 16 10 17 8 18 8 19 11 20 13 21 31 22 17 23 19"/>
<path stroke="#c02a48" d="M0 5 1 9 2 16 3 2 4 6 5 5 6 9 7 4 8 6 9 4 10 9 11 7 12 6 13 8 14 5 15 3 16 8 17 8 18 8 19 21 20 30 21 11 22 13 23 30M0 34 1 8 2 13 3 12 4 16 5 12 6 6 7 8 8 7 9 8 10 7 11 4 12 2 13 4 14 2 15 6 16 6 17 3 18 13 19 19 20 17 21 36 22 33 23 8"/>
<path stroke="#1a80c8" d="M0 7 1 10 2 6 3 8 4 4 5 14 6 12 7 7 8 2 9 4 10 11 11 16 12 7 13 12 14 4 15 5 16 6 17 9 18 4 19 20 20 30 21 11 22 9 23 19M0 9 1 3 2 9 3 5 4 16 5 4 6 24 7 7 8 5 9 5 10 2 11 8 12 16 13 2 14 12 15 30 16 16 17 9 18 8 19 22 20 21 21 14 22 30 23 12"/>
<path stroke="#e26030" d="M0 4 1 6 2 12 3 8 4 16 5 5 6 9 7 3 8 16 9 4 10 2 11 6 12 6 13 16 14 5 15 6 16 8 17 17 18 9 19 21 20 21 21 17 22 21 23 16"/>
<path stroke="#f0ba38" d="M0 10 1 9 2 9 3 16 4 9 5 11 6 9 7 16 8 2 9 13 10 6 11 5 12 4 13 2 14 5 15 4 16 8 17 3 18 20 19 14 20 14 21 14 22 13 23 9"/>
<path stroke="#e26030" d="M0 14 1 6 2 6 3 1 4 12 5 24 6 10 7 11 8 16 9 6 10 11 11 4 12 5 13 11 14 8 15 3 16 7 17 6 18 6 19 15 20 13 21 8 22 11 23 30"/>
<path stroke="#f0ba38" d="M0 3 1 15 2 15 3 9 4 8 5 7 6 5 7 15 8 9 9 9 10 8 11 11 12 8 13 9 14 3 15 8 16 16 17 5 18 8 19 20 20 36 21 28 22 8 23 21"/>
<path stroke="#944aa2" d="M0 4 1 3 2 8 3 10 4 3 5 13 6 4 7 7 8 8 9 20 10 2 11 15 12 9 13 5 14 3 15 2 16 3 17 9 18 7 19 6 20 12 21 36 22 17 23 12"/>
</g></g>
<path d="M47.6,524v-1.2M47.6,427.5v1.2M70.1,524v-1.2M70.1,427.5v1.2M92.5,524v-1.2M92.5,427.5v1.2M115,524v-1.2M115,427.5v1.2M29.7,499.9h1.2M132.9,499.9h-1.2M29.7,475.8h1.2M132.9,475.8h-1.2M29.7,451.6h1.2M132.9,451.6h-1.2" stroke="#858585" stroke-width="1" fill="none"/>
<text class="tk" x="27.1" y="526.8" text-anchor="end">0</text>
<text class="tk" x="27.1" y="502.7" text-anchor="end">0.2</text>
<text class="tk" x="27.1" y="478.6" text-anchor="end">0.4</text>
<text class="tk" x="27.1" y="454.4" text-anchor="end">0.6</text>
<text class="tk" x="27.1" y="430.3" text-anchor="end">0.8</text>
<text class="tk" x="47.6" y="535" text-anchor="middle">5</text>
<text class="tk" x="70.1" y="535" text-anchor="middle">10</text>
<text class="tk" x="92.5" y="535" text-anchor="middle">15</text>
<text class="tk" x="115" y="535" text-anchor="middle">20</text>
<text class="yl" transform="translate(13,475.8) rotate(-90)" text-anchor="middle">Precipitation ratio</text>
<text class="rl" x="33.6" y="547">(V)</text>
<text class="xl" x="64.9" y="544.6">Time/[h]</text>
<text class="tt" x="91" y="442.8">Total: 39</text>
<rect x="169" y="428.4" width="102.8" height="95.4" fill="none" stroke="#858585" stroke-width="1"/>
<clipPath id="cpb6"><rect x="168.4" y="427.8" width="104" height="96.6"/></clipPath>
<g clip-path="url(#cpb6)"><g class="pl" transform="translate(169 523.8) scale(4.4696 -0.5962)">
<path stroke="#1a80c8" d="M0 2 1 2 2 2 3 3 4 1 5 6 6 1 7 1 8 2 9 6 10 2 11 6 12 6 13 3 14 2 15 7 16 29 17 9 18 6 19 6 20 12 21 7 22 7 23 4M0 3 1 2 2 1 3 4 4 3 5 8 6 2 7 3 8 3 9 2 10 6 11 6 12 4 13 3 14 52 15 15 16 11 17 6 18 25 19 28 20 15 21 10 22 12 23 8"/>
<path stroke="#e26030" d="M0 4 1 2 2 2 3 2 4 4 5 1 6 2 7 2 8 3 9 2 10 1 11 8 12 3 13 2 14 6 15 15 16 20 17 6 18 21 19 6 20 7 21 12 22 11 23 2M0 1 1 1 2 2 3 1 4 1 5 2 6 2 7 2 8 1 9 2 10 2 11 1 12 4 13 10 14 21 15 11 16 11 17 8 18 31 19 9 20 36 21 2 22 4 23 3"/>
<path stroke="#f0ba38" d="M0 5 1 6 2 4 3 3 4 2 5 4 6 0 7 2 8 3 9 1 10 3 11 2 12 2 13 5 14 14 15 18 16 8 17 13 18 13 19 13 20 8 21 13 22 9 23 6M0 1 1 2 2 4 3 4 4 2 5 2 6 3 7 10 8 3 9 2 10 2 11 2 12 3 13 7 14 2 15 35 16 18 17 13 18 39 19 5 20 6 21 20 22 4 23 4"/>
<path stroke="#944aa2" d="M0 3 1 6 2 3 3 1 4 8 5 1 6 2 7 2 8 6 9 2 10 2 11 1 12 3 13 7 14 15 15 8 16 16 17 8 18 11 19 12 20 26 21 5 22 4 23 1M0 1 1 3 2 3 3 1 4 2 5 6 6 1 7 1 8 2 9 3 10 4 11 2 12 2 13 4 14 16 15 12 16 19 17 5 18 11 19 12 20 22 21 9 22 5 23 5"/>
<path stroke="#80b545" d="M0 2 1 1 2 2 3 3 4 1 5 1 6 1 7 1 8 1 9 1 10 3 11 1 12 10 13 3 14 13 15 6 16 12 17 10 18 13 19 28 20 11 21 3 22 4 23 1M0 3 1 9 2 2 3 3 4 5 5 1 6 1 7 5 8 2 9 1 10 3 11 1 12 3 13 20 14 7 15 3 16 16 17 16 18 13 19 9 20 14 21 17 22 7 23 2"/>
<path stroke="#5fc5f0" d="M0 3 1 1 2 4 3 10 4 3 5 2 6 2 7 8 8 2 9 2 10 3 11 1 12 2 13 2 14 9 15 74 16 25 17 11 18 24 19 11 20 5 21 10 22 4 23 3"/>
<path stroke="#c02a48" d="M0 7 1 2 2 2 3 2 4 2 5 3 6 1 7 10 8 24 9 2 10 2 11 3 12 5 13 6 14 5 15 13 16 5 17 35 18 23 19 16 20 15 21 5 22 4 23 5"/>
<path stroke="#5fc5f0" d="M0 1 1 2 2 2 3 1 4 2 5 2 6 4 7 2 8 6 9 4 10 3 11 3 12 5 13 4 14 13 15 12 16 35 17 12 18 12 19 42 20 14 21 6 22 6 23 1M0 4 1 3 2 4 3 3 4 3 5 4 6 6 7 5 8 4 9 1 10 3 11 3 12 2 13 3 14 15 15 15 16 12 17 7 18 9 19 10 20 15 21 19 22 5 23 1"/>
<path stroke="#c02a48" d="M0 3 1 1 2 2 3 1 4 3 5 3 6 3 7 2 8 3 9 1 10 1 11 3 12 2 13 4 14 10 15 26 16 40 17 10 18 9 19 5 20 13 21 2 22 2 23 5M0 6 1 1 2 2 3 2 4 1 5 3 6 5 7 2 8 2 9 2 10 1 11 4 12 1 13 11 14 7 15 35 16 18 17 12 18 5 19 5 20 40 21 4 22 6 23 1"/>
<path stroke="#1a80c8" d="M0 2 1 3 2 1 3 2 4 1 5 3 6 3 7 2 8 1 9 3 10 3 11 1 12 4 13 9 14 8 15 13 16 13 17 10 18 18 19 8 20 10 21 7 22 1 23 2M0 1 1 3 2 6 3 10 4 4 5 5 6 4 7 8 8 4 9 5 10 1 11 2 12 1 13 3 14 12 15 28 16 27 17 42 18 39 19 6 20 12 21 17 22 5 23 3"/>
<path stroke="#e26030" d="M0 2 1 8 2 2 3 3 4 2 5 1 6 5 7 5 8 1 9 2 10 5 11 3 12 4 13 2 14 11 15 14 16 15 17 9 18 14 19 37 20 6 21 7 22 3 23 2M0 4 1 1 2 2 3 4 4 6 5 1 6 6 7 10 8 3 9 1 10 4 11 4 12 2 13 12 14 31 15 8 16 8 17 17 18 29 19 6 20 7 21 6 22 2 23 2"/>
<path stroke="#f0ba38" d="M0 8 1 2 2 4 3 1 4 2 5 2 6 3 7 2 8 3 9 2 10 2 11 2 12 2 13 4 14 5 15 18 16 21 17 11 18 11 19 9 20 9 21 7 22 1 23 1M0 4 1 1 2 1 3 2 4 6 5 3 6 2 7 2 8 2 9 2 10 4 11 8 12 3 13 2 14 3 15 35 16 5 17 40 18 19 19 12 20 20 21 7 22 11 23 2"/>
<path stroke="#944aa2" d="M0 3 1 2 2 1 3 1 4 4 5 1 6 4 7 1 8 4 9 1 10 3 11 3 12 4 13 4 14 12 15 34 16 6 17 25 18 7 19 22 20 9 21 16 22 3 23 2"/>
<path stroke="#80b545" d="M0 4 1 3 2 3 3 2 4 3 5 2 6 6 7 0 8 3 9 4 10 1 11 3 12 2 13 8 14 27 15 12 16 37 17 14 18 3 19 10 20 13 21 8 22 4 23 3"/>
<path stroke="#944aa2" d="M0 4 1 4 2 1 3 3 4 1 5 2 6 3 7 2 8 1 9 1 10 1 11 1 12 1 13 11 14 16 15 17 16 32 17 19 18 10 19 26 20 16 21 2 22 14 23 2M0 3 1 1 2 4 3 2 4 2 5 2 6 3 7 3 8 3 9 7 10 4 11 3 12 3 13 2 14 17 15 11 16 9 17 21 18 8 19 20 20 8 21 3 22 4 23 4"/>
<path stroke="#80b545" d="M0 1 1 2 2 2 3 4 4 2 5 2 6 4 7 5 8 1 9 3 10 2 11 2 12 2 13 14 14 18 15 12 16 15 17 13 18 42 19 21 20 9 21 11 22 2 23 3M0 1 1 6 2 1 3 3 4 2 5 1 6 3 7 4 8 22 9 1 10 3 11 1 12 3 13 1 14 23 15 7 16 15 17 6 18 30 19 9 20 7 21 7 22 3 23 0"/>
<path stroke="#5fc5f0" d="M0 4 1 2 2 2 3 2 4 26 5 2 6 2 7 3 8 6 9 1 10 2 11 1 12 1 13 10 14 5 15 18 16 28 17 21 18 8 19 16 20 12 21 5 22 3 23 2"/>
<path stroke="#c02a48" d="M0 2 1 12 2 5 3 2 4 5 5 1 6 7 7 2 8 4 9 1 10 3 11 2 12 2 13 5 14 4 15 5 16 32 17 7 18 4 19 17 20 12 21 8 22 3 23 4"/>
<path stroke="#1a80c8" d="M0 3 1 1 2 2 3 3 4 4 5 4 6 3 7 3 8 7 9 1 10 2 11 20 12 2 13 16 14 8 15 7 16 6 17 14 18 10 19 7 20 26 21 25 22 3 23 1"/>
<path stroke="#e26030" d="M0 2 1 2 2 1 3 6 4 10 5 1 6 2 7 1 8 2 9 3 10 3 11 1 12 8 13 9 14 4 15 9 16 12 17 13 18 39 19 7 20 8 21 6 22 3 23 2"/>
<path stroke="#f0ba38" d="M0 1 1 1 2 7 3 4 4 4 5 1 6 2 7 2 8 2 9 2 10 36 11 3 12 3 13 4 14 4 15 18 16 15 17 40 18 4 19 7 20 12 21 9 22 5 23 2"/>
</g></g>
<path d="M186.9,523.8v-1.2M186.9,428.4v1.2M209.2,523.8v-1.2M209.2,428.4v1.2M231.6,523.8v-1.2M231.6,428.4v1.2M253.9,523.8v-1.2M253.9,428.4v1.2M169,499.9h1.2M271.8,499.9h-1.2M169,476.1h1.2M271.8,476.1h-1.2M169,452.2h1.2M271.8,452.2h-1.2" stroke="#858585" stroke-width="1" fill="none"/>
<text class="tk" x="166.4" y="526.6" text-anchor="end">0</text>
<text class="tk" x="166.4" y="502.7" text-anchor="end">0.2</text>
<text class="tk" x="166.4" y="478.9" text-anchor="end">0.4</text>
<text class="tk" x="166.4" y="455.1" text-anchor="end">0.6</text>
<text class="tk" x="166.4" y="431.2" text-anchor="end">0.8</text>
<text class="tk" x="186.9" y="535" text-anchor="middle">5</text>
<text class="tk" x="209.2" y="535" text-anchor="middle">10</text>
<text class="tk" x="231.6" y="535" text-anchor="middle">15</text>
<text class="tk" x="253.9" y="535" text-anchor="middle">20</text>
<text class="yl" transform="translate(152.3,476.1) rotate(-90)" text-anchor="middle">Precipitation ratio</text>
<text class="rl" x="168" y="547">(VI)</text>
<text class="xl" x="203.7" y="544.6">Time/[h]</text>
<text class="tt" x="230.5" y="442.8">Total: 33</text>
<rect x="301.3" y="429.1" width="103.2" height="94.9" fill="none" stroke="#858585" stroke-width="1"/>
<clipPath id="cpb7"><rect x="300.7" y="428.5" width="104.4" height="96.1"/></clipPath>
<g clip-path="url(#cpb7)"><g class="pl" transform="translate(301.3 524) scale(4.4870 -0.5931)">
<path stroke="#1a80c8" d="M0 32 1 21 2 26 3 4 4 11 5 2 6 9 7 3 8 1 9 4 10 2 11 9 12 6 13 8 14 6 15 4 16 5 17 12 18 5 19 3 20 2 21 4 22 3 23 16M0 63 1 11 2 2 3 18 4 18 5 9 6 4 7 6 8 15 9 2 10 6 11 9 12 3 13 17 14 10 15 17 16 2 17 6 18 17 19 7 20 13 21 1 22 5 23 1"/>
<path stroke="#e26030" d="M0 14 1 60 2 7 3 20 4 5 5 7 6 5 7 12 8 4 9 17 10 8 11 6 12 4 13 7 14 5 15 17 16 11 17 2 18 17 19 1 20 16 21 1 22 5 23 9M0 25 1 43 2 22 3 4 4 3 5 3 6 12 7 3 8 5 9 3 10 3 11 5 12 11 13 4 14 13 15 5 16 9 17 17 18 17 19 6 20 5 21 5 22 9 23 1"/>
<path stroke="#f0ba38" d="M0 70 1 35 2 4 3 9 4 7 5 4 6 6 7 2 8 15 9 8 10 4 11 7 12 6 13 3 14 1 15 1 16 17 17 2 18 4 19 8 20 4 21 12 22 2 23 8M0 18 1 41 2 8 3 20 4 18 5 4 6 8 7 9 8 10 9 4 10 10 11 4 12 5 13 14 14 5 15 3 16 4 17 7 18 3 19 3 20 6 21 3 22 16 23 3"/>
<path stroke="#944aa2" d="M0 23 1 27 2 9 3 7 4 10 5 10 6 7 7 2 8 4 9 9 10 11 11 12 12 3 13 4 14 2 15 1 16 2 17 1 18 15 19 7 20 3 21 5 22 7 23 16M0 70 1 39 2 10 3 6 4 4 5 5 6 7 7 5 8 4 9 8 10 5 11 6 12 6 13 5 14 2 15 5 16 13 17 3 18 3 19 4 20 4 21 15 22 4 23 12"/>
<path stroke="#80b545" d="M0 39 1 8 2 15 3 2 4 1 5 6 6 6 7 6 8 7 9 6 10 13 11 11 12 17 13 17 14 10 15 10 16 17 17 3 18 4 19 7 20 2 21 11 22 16 23 2M0 57 1 26 2 14 3 5 4 2 5 6 6 11 7 14 8 7 9 2 10 4 11 6 12 2 13 4 14 3 15 3 16 2 17 7 18 8 19 13 20 4 21 5 22 1 23 6"/>
<path stroke="#5fc5f0" d="M0 51 1 47 2 19 3 9 4 6 5 10 6 15 7 18 8 18 9 3 10 7 11 8 12 14 13 12 14 2 15 7 16 1 17 4 18 3 19 3 20 16 21 3 22 3 23 5"/>
<path stroke="#c02a48" d="M0 9 1 60 2 16 3 1 4 18 5 2 6 18 7 18 8 11 9 6 10 3 11 12 12 4 13 13 14 4 15 2 16 3 17 6 18 4 19 6 20 3 21 16 22 3 23 7"/>
<path stroke="#5fc5f0" d="M0 25 1 35 2 30 3 11 4 10 5 6 6 9 7 8 8 11 9 5 10 4 11 4 12 4 13 8 14 3 15 10 16 7 17 14 18 6 19 12 20 7 21 6 22 4 23 7M0 14 1 78 2 13 3 4 4 20 5 7 6 7 7 7 8 18 9 8 10 11 11 4 12 10 13 4 14 38 15 4 16 14 17 4 18 7 19 6 20 8 21 3 22 2 23 4"/>
<path stroke="#c02a48" d="M0 57 1 11 2 30 3 14 4 5 5 18 6 3 7 15 8 4 9 6 10 4 11 3 12 4 13 6 14 4 15 17 16 6 17 1 18 3 19 4 20 6 21 8 22 2 23 5M0 60 1 9 2 30 3 1 4 5 5 20 6 4 7 6 8 13 9 7 10 10 11 6 12 6 13 4 14 5 15 11 16 12 17 2 18 3 19 18 20 5 21 3 22 1 23 6"/>
<path stroke="#1a80c8" d="M0 45 1 70 2 30 3 2 4 5 5 8 6 9 7 3 8 4 9 12 10 6 11 38 12 6 13 6 14 3 15 2 16 4 17 2 18 15 19 9 20 13 21 2 22 2 23 8"/>
<path stroke="#e26030" d="M0 16 1 38 2 34 3 7 4 14 5 4 6 6 7 7 8 6 9 7 10 3 11 1 12 4 13 4 14 5 15 2 16 2 17 17 18 9 19 7 20 6 21 3 22 5 23 12"/>
<path stroke="#f0ba38" d="M0 17 1 52 2 30 3 7 4 5 5 14 6 4 7 36 8 3 9 4 10 7 11 8 12 5 13 6 14 2 15 17 16 2 17 8 18 3 19 5 20 1 21 3 22 2 23 6"/>
<path stroke="#944aa2" d="M0 78 1 8 2 30 3 20 4 16 5 3 6 4 7 4 8 17 9 6 10 7 11 5 12 2 13 11 14 17 15 4 16 3 17 3 18 3 19 2 20 4 21 4 22 2 23 7"/>
<path stroke="#80b545" d="M0 54 1 36 2 12 3 14 4 16 5 16 6 3 7 6 8 10 9 20 10 6 11 14 12 22 13 8 14 2 15 2 16 26 17 7 18 11 19 3 20 16 21 6 22 4 23 10"/>
</g></g>
<path d="M319.2,524v-1.2M319.2,429.1v1.2M341.7,524v-1.2M341.7,429.1v1.2M364.1,524v-1.2M364.1,429.1v1.2M386.6,524v-1.2M386.6,429.1v1.2M301.3,500.3h1.2M404.5,500.3h-1.2M301.3,476.6h1.2M404.5,476.6h-1.2M301.3,452.8h1.2M404.5,452.8h-1.2" stroke="#858585" stroke-width="1" fill="none"/>
<text class="tk" x="298.7" y="526.8" text-anchor="end">0</text>
<text class="tk" x="298.7" y="503.1" text-anchor="end">0.2</text>
<text class="tk" x="298.7" y="479.4" text-anchor="end">0.4</text>
<text class="tk" x="298.7" y="455.6" text-anchor="end">0.6</text>
<text class="tk" x="298.7" y="431.9" text-anchor="end">0.8</text>
<text class="tk" x="319.2" y="535" text-anchor="middle">5</text>
<text class="tk" x="341.7" y="535" text-anchor="middle">10</text>
<text class="tk" x="364.1" y="535" text-anchor="middle">15</text>
<text class="tk" x="386.6" y="535" text-anchor="middle">20</text>
<text class="yl" transform="translate(284.6,476.6) rotate(-90)" text-anchor="middle">Precipitation ratio</text>
<text class="rl" x="298.5" y="547">(VII)</text>
<text class="xl" x="336.7" y="545.3">Time/[h]</text>
<text class="tt" x="361.9" y="442.8">Total: 21</text>
<rect x="435.5" y="428.4" width="103" height="95.6" fill="none" stroke="#858585" stroke-width="1"/>
<clipPath id="cpb8"><rect x="434.9" y="427.8" width="104.2" height="96.8"/></clipPath>
<g clip-path="url(#cpb8)"><g class="pl" transform="translate(435.5 524) scale(4.4783 -0.5975)">
<path stroke="#2b95d6" d="M0 1 1 2 2 3 3 1 4 4 5 2 6 0 7 0 8 50 9 0 10 5 11 3 12 1 13 1 14 2 15 0 16 0 17 2 18 0 19 0 20 1 21 1 22 59 23 55"/>
</g></g>
<path d="M453.4,524v-1.2M453.4,428.4v1.2M475.8,524v-1.2M475.8,428.4v1.2M498.2,524v-1.2M498.2,428.4v1.2M520.6,524v-1.2M520.6,428.4v1.2M435.5,500.1h1.2M538.5,500.1h-1.2M435.5,476.2h1.2M538.5,476.2h-1.2M435.5,452.3h1.2M538.5,452.3h-1.2" stroke="#858585" stroke-width="1" fill="none"/>
<text class="tk" x="432.9" y="526.8" text-anchor="end">0</text>
<text class="tk" x="432.9" y="502.9" text-anchor="end">0.2</text>
<text class="tk" x="432.9" y="479" text-anchor="end">0.4</text>
<text class="tk" x="432.9" y="455.1" text-anchor="end">0.6</text>
<text class="tk" x="432.9" y="431.2" text-anchor="end">0.8</text>
<text class="tk" x="453.4" y="535" text-anchor="middle">5</text>
<text class="tk" x="475.8" y="535" text-anchor="middle">10</text>
<text class="tk" x="498.2" y="535" text-anchor="middle">15</text>
<text class="tk" x="520.6" y="535" text-anchor="middle">20</text>
<text class="yl" transform="translate(418.8,476.2) rotate(-90)" text-anchor="middle">Precipitation ratio</text>
<text class="rl" x="432.4" y="546.6">(VIII)</text>
<text class="xl" x="471" y="545.3">Time/[h]</text>
<text class="tt" x="503" y="443">Total: 1</text>
<rect x="29.8" y="583" width="103.2" height="96.5" fill="none" stroke="#858585" stroke-width="1"/>
<clipPath id="cpc1"><rect x="29.2" y="582.4" width="104.4" height="97.7"/></clipPath>
<g clip-path="url(#cpc1)"><g class="pl th" transform="translate(29.8 679.5) scale(4.4870 -0.6031)">
<path stroke="#1a80c8" d="M0 2 1 3 2 19 3 0 4 11 5 16 6 1 7 0 8 3 9 13 10 10 11 1 12 6 13 14 14 6 15 12 16 26 17 14 18 5 19 1 20 4 21 7 22 17 23 13M0 5 1 17 2 0 3 9 4 14 5 1 6 11 7 1 8 3 9 5 10 12 11 1 12 1 13 18 14 15 15 7 16 3 17 14 18 34 19 3 20 25 21 1 22 14 23 8"/>
<path stroke="#e26030" d="M0 0 1 0 2 14 3 7 4 23 5 20 6 5 7 27 8 11 9 17 10 6 11 1 12 33 13 1 14 20 15 1 16 0 17 20 18 0 19 6 20 7 21 10 22 6 23 18M0 9 1 24 2 21 3 2 4 24 5 5 6 9 7 4 8 28 9 3 10 16 11 12 12 14 13 0 14 9 15 28 16 10 17 2 18 0 19 3 20 14 21 0 22 0 23 9"/>
<path stroke="#f0ba38" d="M0 1 1 2 2 6 3 3 4 11 5 3 6 24 7 26 8 0 9 2 10 10 11 18 12 0 13 1 14 7 15 14 16 23 17 22 18 18 19 31 20 23 21 9 22 0 23 2M0 15 1 6 2 0 3 12 4 0 5 0 6 6 7 1 8 7 9 21 10 1 11 19 12 28 13 0 14 6 15 15 16 16 17 3 18 18 19 4 20 1 21 7 22 9 23 15"/>
<path stroke="#944aa2" d="M0 18 1 1 2 25 3 25 4 2 5 13 6 4 7 15 8 0 9 7 10 11 11 12 12 14 13 23 14 2 15 1 16 38 17 10 18 25 19 14 20 14 21 22 22 2 23 2M0 7 1 10 2 0 3 17 4 1 5 25 6 0 7 15 8 17 9 9 10 0 11 19 12 4 13 3 14 14 15 27 16 0 17 6 18 13 19 3 20 21 21 9 22 0 23 1"/>
<path stroke="#80b545" d="M0 0 1 14 2 3 3 7 4 22 5 2 6 7 7 4 8 1 9 7 10 1 11 19 12 12 13 3 14 27 15 4 16 14 17 16 18 2 19 0 20 20 21 21 22 1 23 1M0 10 1 3 2 2 3 18 4 19 5 12 6 18 7 8 8 21 9 15 10 2 11 11 12 13 13 2 14 25 15 19 16 1 17 2 18 0 19 23 20 1 21 16 22 6 23 0"/>
<path stroke="#5fc5f0" d="M0 2 1 24 2 11 3 1 4 2 5 1 6 1 7 3 8 20 9 7 10 3 11 6 12 3 13 16 14 0 15 3 16 4 17 1 18 15 19 1 20 3 21 0 22 13 23 3"/>
<path stroke="#c02a48" d="M0 15 1 0 2 7 3 2 4 1 5 1 6 19 7 14 8 5 9 5 10 16 11 11 12 24 13 24 14 8 15 13 16 9 17 3 18 6 19 14 20 8 21 10 22 6 23 18"/>
<path stroke="#5fc5f0" d="M0 2 1 1 2 23 3 22 4 1 5 11 6 1 7 2 8 25 9 13 10 17 11 3 12 18 13 14 14 4 15 8 16 2 17 11 18 1 19 6 20 18 21 11 22 9 23 0M0 20 1 17 2 11 3 26 4 26 5 6 6 7 7 23 8 7 9 22 10 2 11 2 12 5 13 3 14 7 15 2 16 1 17 5 18 1 19 4 20 5 21 20 22 4 23 8"/>
<path stroke="#c02a48" d="M0 10 1 25 2 12 3 11 4 4 5 8 6 8 7 14 8 9 9 4 10 1 11 27 12 12 13 1 14 4 15 13 16 2 17 23 18 9 19 13 20 11 21 1 22 19 23 15M0 4 1 2 2 0 3 11 4 1 5 0 6 27 7 23 8 4 9 7 10 2 11 27 12 3 13 20 14 17 15 0 16 0 17 6 18 0 19 22 20 23 21 9 22 3 23 1"/>
<path stroke="#1a80c8" d="M0 26 1 20 2 0 3 2 4 11 5 20 6 0 7 6 8 11 9 9 10 9 11 28 12 27 13 2 14 2 15 5 16 0 17 1 18 10 19 25 20 3 21 1 22 9 23 2M0 9 1 7 2 16 3 2 4 14 5 18 6 4 7 10 8 6 9 17 10 22 11 8 12 33 13 24 14 11 15 1 16 16 17 7 18 1 19 4 20 10 21 3 22 1 23 0"/>
<path stroke="#e26030" d="M0 23 1 21 2 6 3 9 4 15 5 15 6 14 7 16 8 11 9 1 10 14 11 14 12 1 13 1 14 12 15 5 16 19 17 3 18 13 19 11 20 0 21 2 22 3 23 2M0 5 1 1 2 5 3 2 4 21 5 8 6 0 7 25 8 27 9 28 10 3 11 8 12 15 13 1 14 6 15 4 16 21 17 0 18 23 19 0 20 21 21 5 22 1 23 2"/>
<path stroke="#f0ba38" d="M0 1 1 6 2 1 3 2 4 8 5 22 6 1 7 1 8 15 9 9 10 0 11 14 12 26 13 16 14 28 15 16 16 4 17 19 18 10 19 0 20 4 21 21 22 10 23 3M0 16 1 3 2 15 3 1 4 13 5 27 6 26 7 2 8 23 9 11 10 6 11 5 12 7 13 7 14 26 15 17 16 1 17 18 18 11 19 25 20 3 21 13 22 7 23 1"/>
<path stroke="#944aa2" d="M0 8 1 20 2 25 3 22 4 17 5 0 6 0 7 1 8 9 9 3 10 1 11 24 12 6 13 2 14 8 15 27 16 16 17 24 18 1 19 15 20 3 21 4 22 5 23 5"/>
<path stroke="#80b545" d="M0 4 1 13 2 5 3 6 4 3 5 18 6 1 7 8 8 6 9 27 10 1 11 10 12 2 13 26 14 1 15 24 16 13 17 29 18 5 19 2 20 6 21 16 22 6 23 19"/>
<path stroke="#944aa2" d="M0 25 1 25 2 38 3 25 4 17 5 9 6 12 7 19 8 26 9 23 10 26 11 5 12 0 13 1 14 5 15 0 16 9 17 1 18 3 19 3 20 20 21 37 22 0 23 12M0 1 1 16 2 0 3 0 4 1 5 1 6 19 7 0 8 3 9 10 10 9 11 14 12 9 13 1 14 24 15 28 16 3 17 1 18 3 19 1 20 15 21 1 22 8 23 4"/>
<path stroke="#80b545" d="M0 9 1 1 2 2 3 25 4 1 5 13 6 5 7 16 8 1 9 0 10 9 11 2 12 18 13 28 14 1 15 2 16 1 17 5 18 2 19 10 20 30 21 7 22 16 23 15M0 0 1 32 2 18 3 4 4 0 5 4 6 1 7 2 8 13 9 34 10 11 11 6 12 11 13 7 14 5 15 0 16 22 17 5 18 20 19 20 20 5 21 11 22 7 23 14"/>
<path stroke="#5fc5f0" d="M0 0 1 2 2 0 3 20 4 24 5 9 6 18 7 1 8 3 9 12 10 14 11 11 12 0 13 25 14 2 15 14 16 21 17 1 18 7 19 11 20 24 21 12 22 5 23 10M0 16 1 4 2 13 3 1 4 21 5 12 6 1 7 2 8 4 9 0 10 8 11 9 12 10 13 5 14 2 15 16 16 6 17 0 18 16 19 0 20 10 21 8 22 18 23 17"/>
<path stroke="#c02a48" d="M0 0 1 1 2 3 3 15 4 5 5 22 6 13 7 24 8 18 9 6 10 0 11 8 12 8 13 1 14 1 15 27 16 25 17 4 18 0 19 2 20 8 21 21 22 0 23 11M0 6 1 23 2 4 3 10 4 4 5 1 6 8 7 0 8 0 9 6 10 4 11 20 12 7 13 4 14 2 15 23 16 18 17 10 18 1 19 8 20 0 21 1 22 4 23 0"/>
<path stroke="#1a80c8" d="M0 0 1 16 2 21 3 7 4 20 5 2 6 6 7 6 8 8 9 0 10 1 11 0 12 13 13 7 14 28 15 12 16 2 17 0 18 13 19 18 20 1 21 7 22 20 23 17M0 14 1 13 2 1 3 3 4 1 5 21 6 21 7 14 8 11 9 8 10 6 11 1 12 8 13 10 14 12 15 0 16 24 17 14 18 13 19 2 20 7 21 10 22 1 23 9"/>
<path stroke="#e26030" d="M0 21 1 15 2 2 3 8 4 21 5 23 6 22 7 4 8 24 9 5 10 16 11 19 12 14 13 0 14 2 15 18 16 13 17 21 18 14 19 13 20 19 21 20 22 2 23 14"/>
<path stroke="#f0ba38" d="M0 14 1 12 2 12 3 39 4 3 5 18 6 27 7 11 8 24 9 1 10 17 11 2 12 3 13 0 14 25 15 1 16 2 17 4 18 6 19 17 20 0 21 0 22 1 23 16"/>
<path stroke="#e26030" d="M0 15 1 17 2 1 3 0 4 15 5 14 6 1 7 1 8 2 9 13 10 21 11 20 12 1 13 4 14 9 15 12 16 2 17 4 18 11 19 11 20 14 21 8 22 0 23 1M0 19 1 5 2 12 3 12 4 18 5 22 6 10 7 9 8 5 9 6 10 23 11 3 12 11 13 4 14 19 15 4 16 2 17 6 18 9 19 1 20 0 21 3 22 0 23 13"/>
<path stroke="#f0ba38" d="M0 19 1 44 2 11 3 25 4 14 5 10 6 16 7 6 8 1 9 15 10 22 11 2 12 37 13 20 14 3 15 4 16 4 17 1 18 22 19 12 20 12 21 14 22 16 23 6M0 16 1 2 2 14 3 1 4 2 5 5 6 0 7 20 8 8 9 1 10 12 11 3 12 1 13 26 14 2 15 2 16 24 17 0 18 8 19 8 20 7 21 21 22 0 23 13"/>
<path stroke="#944aa2" d="M0 0 1 1 2 23 3 1 4 2 5 7 6 19 7 7 8 0 9 5 10 26 11 2 12 14 13 3 14 0 15 4 16 8 17 21 18 1 19 20 20 1 21 3 22 5 23 19M0 0 1 17 2 1 3 12 4 3 5 14 6 5 7 20 8 2 9 0 10 4 11 0 12 2 13 2 14 2 15 2 16 3 17 14 18 0 19 17 20 1 21 14 22 12 23 6"/>
<path stroke="#80b545" d="M0 25 1 10 2 26 3 2 4 1 5 9 6 0 7 7 8 9 9 26 10 15 11 0 12 0 13 0 14 9 15 10 16 10 17 22 18 2 19 8 20 19 21 12 22 4 23 0M0 8 1 0 2 4 3 6 4 27 5 1 6 15 7 18 8 1 9 26 10 3 11 0 12 25 13 27 14 8 15 2 16 0 17 25 18 7 19 24 20 10 21 14 22 5 23 4"/>
<path stroke="#5fc5f0" d="M0 20 1 0 2 4 3 2 4 8 5 9 6 2 7 25 8 10 9 1 10 18 11 38 12 5 13 17 14 17 15 4 16 24 17 13 18 0 19 1 20 0 21 10 22 0 23 5M0 11 1 6 2 12 3 7 4 17 5 21 6 16 7 13 8 26 9 13 10 0 11 28 12 24 13 1 14 2 15 25 16 8 17 19 18 17 19 19 20 4 21 17 22 7 23 3"/>
<path stroke="#c02a48" d="M0 13 1 1 2 10 3 8 4 9 5 10 6 14 7 7 8 9 9 23 10 0 11 16 12 0 13 0 14 22 15 1 16 0 17 19 18 4 19 6 20 9 21 7 22 12 23 4"/>
<path stroke="#1a80c8" d="M0 2 1 2 2 9 3 2 4 15 5 16 6 0 7 12 8 14 9 13 10 18 11 14 12 1 13 3 14 14 15 18 16 2 17 6 18 1 19 14 20 17 21 0 22 15 23 2"/>
<path stroke="#c02a48" d="M0 6 1 0 2 0 3 3 4 5 5 23 6 5 7 5 8 7 9 4 10 6 11 23 12 22 13 42 14 0 15 16 16 4 17 21 18 14 19 9 20 3 21 8 22 19 23 11M0 19 1 1 2 6 3 12 4 21 5 2 6 24 7 21 8 2 9 16 10 25 11 25 12 22 13 1 14 25 15 6 16 1 17 0 18 14 19 8 20 8 21 2 22 10 23 12"/>
<path stroke="#1a80c8" d="M0 25 1 9 2 4 3 0 4 18 5 27 6 0 7 19 8 2 9 7 10 4 11 10 12 4 13 23 14 0 15 11 16 14 17 26 18 10 19 6 20 1 21 3 22 15 23 0M0 18 1 24 2 12 3 11 4 18 5 43 6 1 7 19 8 19 9 8 10 22 11 21 12 1 13 26 14 7 15 1 16 5 17 28 18 4 19 24 20 8 21 3 22 16 23 2"/>
<path stroke="#e26030" d="M0 6 1 0 2 2 3 21 4 24 5 28 6 2 7 11 8 10 9 22 10 6 11 23 12 3 13 5 14 2 15 1 16 14 17 18 18 6 19 16 20 9 21 16 22 5 23 2M0 13 1 14 2 18 3 12 4 22 5 7 6 2 7 3 8 24 9 3 10 1 11 6 12 11 13 41 14 0 15 7 16 18 17 7 18 2 19 22 20 4 21 1 22 6 23 9"/>
<path stroke="#f0ba38" d="M0 12 1 25 2 21 3 23 4 1 5 1 6 4 7 15 8 7 9 21 10 10 11 27 12 13 13 5 14 7 15 19 16 7 17 6 18 1 19 16 20 6 21 1 22 5 23 10M0 7 1 3 2 0 3 3 4 25 5 25 6 21 7 20 8 22 9 0 10 23 11 22 12 1 13 24 14 13 15 2 16 22 17 0 18 11 19 5 20 9 21 18 22 7 23 12"/>
<path stroke="#944aa2" d="M0 10 1 23 2 16 3 14 4 7 5 14 6 4 7 0 8 1 9 7 10 5 11 23 12 17 13 17 14 2 15 15 16 2 17 16 18 1 19 1 20 0 21 6 22 8 23 16M0 13 1 3 2 23 3 25 4 14 5 3 6 18 7 15 8 1 9 4 10 0 11 7 12 2 13 4 14 6 15 17 16 19 17 3 18 2 19 11 20 11 21 5 22 15 23 2"/>
<path stroke="#80b545" d="M0 5 1 6 2 16 3 2 4 21 5 3 6 16 7 21 8 0 9 7 10 8 11 21 12 7 13 17 14 2 15 7 16 15 17 1 18 1 19 0 20 1 21 2 22 3 23 6"/>
<path stroke="#5fc5f0" d="M0 19 1 2 2 0 3 1 4 0 5 24 6 1 7 20 8 0 9 8 10 0 11 2 12 2 13 6 14 15 15 26 16 23 17 5 18 14 19 13 20 23 21 3 22 11 23 4"/>
<path stroke="#80b545" d="M0 5 1 0 2 0 3 0 4 2 5 13 6 15 7 18 8 7 9 14 10 11 11 1 12 3 13 24 14 0 15 0 16 10 17 8 18 12 19 5 20 13 21 33 22 6 23 10M0 18 1 2 2 5 3 7 4 4 5 15 6 23 7 2 8 4 9 0 10 0 11 12 12 2 13 3 14 28 15 6 16 10 17 4 18 20 19 1 20 2 21 7 22 20 23 4"/>
<path stroke="#5fc5f0" d="M0 2 1 23 2 22 3 0 4 13 5 23 6 4 7 26 8 1 9 1 10 1 11 4 12 12 13 18 14 0 15 0 16 1 17 23 18 26 19 16 20 0 21 1 22 4 23 9M0 0 1 7 2 12 3 24 4 19 5 23 6 13 7 20 8 5 9 15 10 5 11 13 12 6 13 10 14 10 15 12 16 0 17 0 18 17 19 0 20 6 21 1 22 1 23 4"/>
<path stroke="#c02a48" d="M0 12 1 11 2 9 3 10 4 23 5 27 6 5 7 2 8 1 9 1 10 26 11 7 12 1 13 2 14 13 15 7 16 16 17 27 18 4 19 22 20 2 21 2 22 20 23 11M0 4 1 3 2 1 3 1 4 31 5 11 6 14 7 24 8 0 9 1 10 18 11 21 12 7 13 22 14 23 15 25 16 18 17 24 18 16 19 1 20 1 21 7 22 10 23 0"/>
<path stroke="#1a80c8" d="M0 13 1 1 2 22 3 13 4 1 5 21 6 19 7 23 8 12 9 17 10 1 11 22 12 1 13 8 14 4 15 12 16 27 17 26 18 2 19 15 20 15 21 0 22 16 23 6M0 3 1 2 2 1 3 26 4 18 5 27 6 13 7 4 8 8 9 4 10 1 11 4 12 0 13 23 14 1 15 5 16 8 17 14 18 3 19 18 20 1 21 22 22 20 23 0"/>
<path stroke="#e26030" d="M0 2 1 15 2 14 3 26 4 0 5 2 6 1 7 20 8 14 9 20 10 2 11 22 12 0 13 1 14 3 15 15 16 12 17 1 18 1 19 17 20 6 21 0 22 0 23 1M0 3 1 0 2 4 3 4 4 27 5 25 6 13 7 10 8 22 9 27 10 21 11 20 12 8 13 15 14 4 15 5 16 11 17 13 18 1 19 3 20 4 21 10 22 0 23 4"/>
<path stroke="#f0ba38" d="M0 3 1 1 2 14 3 9 4 2 5 38 6 15 7 22 8 37 9 5 10 6 11 11 12 0 13 20 14 22 15 18 16 8 17 21 18 14 19 20 20 12 21 5 22 5 23 12"/>
<path stroke="#944aa2" d="M0 3 1 7 2 8 3 4 4 25 5 4 6 22 7 26 8 6 9 0 10 15 11 7 12 9 13 26 14 0 15 23 16 6 17 1 18 2 19 2 20 7 21 20 22 11 23 6"/>
<path stroke="#f0ba38" d="M0 3 1 4 2 8 3 20 4 11 5 0 6 17 7 2 8 1 9 16 10 6 11 6 12 23 13 0 14 4 15 2 16 0 17 16 18 13 19 4 20 2 21 6 22 1 23 40M0 3 1 0 2 8 3 0 4 0 5 1 6 3 7 1 8 0 9 14 10 11 11 0 12 5 13 8 14 18 15 8 16 23 17 22 18 10 19 18 20 13 21 1 22 0 23 0"/>
<path stroke="#944aa2" d="M0 3 1 4 2 17 3 5 4 5 5 6 6 2 7 6 8 18 9 0 10 2 11 1 12 0 13 21 14 11 15 27 16 17 17 34 18 1 19 13 20 5 21 2 22 4 23 2M0 21 1 22 2 1 3 19 4 20 5 1 6 12 7 10 8 16 9 3 10 22 11 0 12 6 13 28 14 27 15 36 16 27 17 6 18 12 19 16 20 5 21 0 22 5 23 2"/>
<path stroke="#80b545" d="M0 3 1 3 2 21 3 23 4 12 5 12 6 11 7 5 8 0 9 6 10 5 11 12 12 7 13 0 14 1 15 26 16 8 17 25 18 1 19 3 20 11 21 5 22 8 23 30M0 18 1 2 2 26 3 1 4 21 5 12 6 1 7 7 8 22 9 20 10 3 11 0 12 2 13 26 14 2 15 13 16 19 17 6 18 8 19 11 20 15 21 14 22 17 23 3"/>
<path stroke="#5fc5f0" d="M0 7 1 2 2 13 3 0 4 1 5 5 6 6 7 10 8 9 9 6 10 23 11 3 12 0 13 9 14 1 15 1 16 5 17 27 18 5 19 15 20 18 21 8 22 18 23 16M0 16 1 4 2 1 3 6 4 14 5 9 6 21 7 6 8 7 9 19 10 0 11 0 12 1 13 21 14 15 15 13 16 3 17 8 18 2 19 0 20 2 21 0 22 13 23 0"/>
<path stroke="#c02a48" d="M0 19 1 18 2 12 3 0 4 9 5 20 6 4 7 3 8 15 9 6 10 28 11 18 12 10 13 12 14 6 15 24 16 15 17 17 18 8 19 0 20 0 21 6 22 0 23 18M0 5 1 5 2 4 3 0 4 5 5 20 6 19 7 25 8 6 9 10 10 3 11 23 12 7 13 19 14 12 15 10 16 20 17 9 18 13 19 15 20 0 21 2 22 0 23 5"/>
<path stroke="#1a80c8" d="M0 2 1 26 2 9 3 6 4 0 5 13 6 9 7 1 8 12 9 12 10 17 11 12 12 3 13 18 14 1 15 26 16 17 17 4 18 25 19 21 20 0 21 4 22 0 23 0"/>
<path stroke="#e26030" d="M0 40 1 9 2 8 3 35 4 3 5 2 6 1 7 20 8 0 9 2 10 4 11 0 12 18 13 6 14 4 15 4 16 9 17 7 18 1 19 6 20 3 21 10 22 11 23 0"/>
<path stroke="#1a80c8" d="M0 6 1 25 2 5 3 6 4 22 5 22 6 0 7 11 8 16 9 0 10 17 11 8 12 1 13 23 14 8 15 2 16 2 17 23 18 16 19 2 20 17 21 10 22 15 23 19M0 4 1 23 2 1 3 2 4 27 5 24 6 13 7 14 8 32 9 14 10 0 11 0 12 2 13 1 14 12 15 8 16 15 17 4 18 1 19 20 20 0 21 9 22 0 23 18"/>
<path stroke="#e26030" d="M0 8 1 14 2 16 3 21 4 12 5 2 6 7 7 0 8 26 9 23 10 28 11 0 12 2 13 23 14 3 15 18 16 0 17 13 18 14 19 0 20 1 21 4 22 2 23 4M0 5 1 24 2 1 3 24 4 25 5 25 6 16 7 21 8 20 9 6 10 27 11 16 12 5 13 6 14 2 15 14 16 14 17 26 18 13 19 1 20 22 21 14 22 10 23 3"/>
<path stroke="#f0ba38" d="M0 9 1 3 2 16 3 7 4 6 5 40 6 14 7 19 8 11 9 2 10 25 11 1 12 27 13 3 14 16 15 25 16 20 17 6 18 1 19 24 20 2 21 19 22 0 23 11M0 12 1 24 2 23 3 2 4 27 5 10 6 24 7 2 8 1 9 3 10 12 11 1 12 9 13 1 14 14 15 24 16 10 17 0 18 8 19 11 20 24 21 0 22 3 23 1"/>
<path stroke="#944aa2" d="M0 3 1 0 2 9 3 25 4 23 5 3 6 6 7 4 8 1 9 24 10 4 11 1 12 0 13 15 14 23 15 19 16 2 17 6 18 24 19 2 20 10 21 5 22 1 23 13M0 26 1 1 2 4 3 3 4 1 5 6 6 3 7 1 8 2 9 2 10 1 11 22 12 10 13 27 14 4 15 0 16 25 17 0 18 24 19 9 20 9 21 21 22 1 23 10"/>
<path stroke="#80b545" d="M0 22 1 16 2 6 3 3 4 6 5 0 6 24 7 0 8 5 9 4 10 16 11 14 12 9 13 27 14 4 15 0 16 7 17 0 18 13 19 0 20 0 21 7 22 19 23 14M0 26 1 2 2 20 3 11 4 5 5 0 6 13 7 2 8 0 9 8 10 0 11 5 12 21 13 7 14 17 15 9 16 3 17 11 18 5 19 15 20 19 21 7 22 6 23 2"/>
<path stroke="#5fc5f0" d="M0 3 1 12 2 3 3 21 4 22 5 23 6 4 7 14 8 0 9 10 10 20 11 3 12 5 13 5 14 8 15 22 16 18 17 0 18 4 19 32 20 2 21 0 22 8 23 19"/>
<path stroke="#c02a48" d="M0 24 1 6 2 3 3 2 4 16 5 8 6 0 7 13 8 18 9 12 10 28 11 1 12 24 13 1 14 21 15 14 16 22 17 11 18 0 19 1 20 9 21 15 22 0 23 10"/>
<path stroke="#5fc5f0" d="M0 13 1 1 2 12 3 7 4 15 5 25 6 18 7 25 8 2 9 3 10 24 11 23 12 2 13 1 14 10 15 1 16 1 17 0 18 26 19 9 20 11 21 5 22 12 23 1M0 4 1 19 2 1 3 11 4 20 5 0 6 15 7 2 8 5 9 19 10 24 11 26 12 1 13 0 14 5 15 12 16 12 17 26 18 2 19 14 20 3 21 0 22 11 23 8"/>
<path stroke="#c02a48" d="M0 3 1 7 2 11 3 2 4 5 5 24 6 1 7 10 8 2 9 27 10 2 11 1 12 12 13 17 14 24 15 15 16 3 17 19 18 6 19 2 20 9 21 9 22 8 23 1M0 1 1 0 2 18 3 1 4 1 5 26 6 5 7 3 8 7 9 0 10 3 11 12 12 15 13 0 14 1 15 23 16 20 17 3 18 13 19 10 20 14 21 0 22 8 23 12"/>
<path stroke="#1a80c8" d="M0 1 1 19 2 16 3 2 4 0 5 21 6 15 7 18 8 19 9 12 10 24 11 26 12 2 13 7 14 4 15 1 16 9 17 6 18 13 19 24 20 6 21 0 22 11 23 17M0 11 1 4 2 3 3 24 4 0 5 13 6 5 7 18 8 15 9 13 10 3 11 0 12 7 13 1 14 23 15 41 16 13 17 8 18 14 19 0 20 13 21 10 22 2 23 9"/>
<path stroke="#e26030" d="M0 7 1 0 2 18 3 15 4 15 5 17 6 1 7 0 8 8 9 19 10 12 11 3 12 3 13 5 14 0 15 2 16 1 17 7 18 15 19 13 20 0 21 9 22 14 23 1M0 0 1 0 2 26 3 9 4 0 5 18 6 3 7 20 8 17 9 16 10 19 11 24 12 0 13 24 14 4 15 20 16 19 17 12 18 20 19 15 20 1 21 18 22 14 23 12"/>
<path stroke="#f0ba38" d="M0 1 1 9 2 6 3 16 4 1 5 8 6 14 7 21 8 8 9 4 10 1 11 9 12 3 13 21 14 27 15 5 16 10 17 5 18 12 19 8 20 1 21 11 22 6 23 5M0 1 1 9 2 25 3 25 4 1 5 15 6 1 7 13 8 23 9 10 10 18 11 2 12 3 13 4 14 27 15 23 16 16 17 11 18 20 19 0 20 0 21 5 22 21 23 12"/>
<path stroke="#944aa2" d="M0 4 1 23 2 20 3 1 4 23 5 3 6 19 7 8 8 6 9 7 10 3 11 15 12 3 13 8 14 15 15 13 16 5 17 23 18 26 19 20 20 0 21 1 22 7 23 16"/>
<path stroke="#80b545" d="M0 13 1 4 2 4 3 7 4 15 5 25 6 10 7 21 8 41 9 6 10 12 11 1 12 10 13 5 14 7 15 1 16 5 17 0 18 10 19 1 20 11 21 12 22 1 23 2"/>
<path stroke="#944aa2" d="M0 19 1 4 2 7 3 18 4 1 5 1 6 0 7 1 8 27 9 3 10 0 11 11 12 3 13 27 14 20 15 13 16 17 17 26 18 1 19 11 20 11 21 13 22 9 23 16M0 3 1 1 2 7 3 24 4 17 5 6 6 24 7 0 8 0 9 0 10 8 11 20 12 34 13 0 14 7 15 1 16 10 17 0 18 0 19 23 20 3 21 2 22 15 23 19"/>
<path stroke="#80b545" d="M0 0 1 2 2 4 3 2 4 25 5 2 6 24 7 22 8 4 9 18 10 10 11 21 12 15 13 13 14 5 15 2 16 3 17 2 18 12 19 1 20 5 21 11 22 11 23 7M0 19 1 23 2 11 3 9 4 11 5 4 6 9 7 0 8 20 9 18 10 16 11 20 12 4 13 18 14 6 15 0 16 2 17 22 18 1 19 4 20 20 21 3 22 8 23 7"/>
<path stroke="#5fc5f0" d="M0 26 1 12 2 21 3 32 4 12 5 8 6 5 7 0 8 20 9 9 10 12 11 12 12 0 13 27 14 14 15 14 16 0 17 17 18 15 19 8 20 4 21 18 22 8 23 4M0 0 1 20 2 0 3 11 4 4 5 6 6 6 7 0 8 0 9 6 10 15 11 7 12 1 13 5 14 1 15 6 16 16 17 1 18 2 19 0 20 23 21 0 22 2 23 7"/>
<path stroke="#c02a48" d="M0 16 1 2 2 20 3 3 4 6 5 6 6 3 7 18 8 13 9 9 10 2 11 6 12 19 13 2 14 9 15 2 16 7 17 6 18 15 19 0 20 16 21 4 22 13 23 2M0 12 1 16 2 10 3 3 4 2 5 6 6 1 7 0 8 0 9 16 10 4 11 0 12 0 13 1 14 14 15 9 16 13 17 0 18 10 19 22 20 22 21 2 22 12 23 0"/>
<path stroke="#1a80c8" d="M0 2 1 4 2 4 3 21 4 30 5 6 6 3 7 1 8 8 9 20 10 0 11 1 12 6 13 3 14 3 15 20 16 7 17 2 18 6 19 4 20 1 21 22 22 2 23 0M0 14 1 15 2 9 3 21 4 22 5 0 6 0 7 28 8 21 9 3 10 3 11 0 12 2 13 21 14 7 15 0 16 3 17 19 18 26 19 14 20 14 21 4 22 7 23 12"/>
<path stroke="#e26030" d="M0 11 1 26 2 11 3 2 4 13 5 6 6 0 7 4 8 4 9 14 10 4 11 9 12 4 13 6 14 15 15 0 16 13 17 22 18 6 19 15 20 3 21 3 22 5 23 0"/>
<path stroke="#f0ba38" d="M0 19 1 1 2 0 3 11 4 13 5 0 6 17 7 4 8 12 9 10 10 1 11 9 12 1 13 0 14 0 15 1 16 9 17 2 18 1 19 7 20 2 21 2 22 19 23 0"/>
<path stroke="#e26030" d="M0 21 1 11 2 36 3 0 4 1 5 0 6 0 7 17 8 0 9 12 10 27 11 9 12 12 13 0 14 5 15 0 16 1 17 18 18 8 19 5 20 13 21 4 22 14 23 1M0 4 1 0 2 5 3 0 4 1 5 5 6 2 7 22 8 2 9 1 10 1 11 19 12 0 13 9 14 21 15 20 16 4 17 0 18 13 19 8 20 8 21 10 22 1 23 3"/>
<path stroke="#f0ba38" d="M0 3 1 19 2 2 3 13 4 16 5 4 6 11 7 17 8 25 9 0 10 2 11 18 12 1 13 20 14 0 15 9 16 17 17 1 18 13 19 1 20 13 21 0 22 15 23 11M0 4 1 1 2 20 3 20 4 1 5 13 6 18 7 7 8 26 9 0 10 21 11 15 12 18 13 15 14 12 15 8 16 1 17 11 18 15 19 1 20 1 21 3 22 18 23 7"/>
<path stroke="#944aa2" d="M0 1 1 0 2 5 3 11 4 0 5 2 6 22 7 4 8 4 9 24 10 22 11 0 12 41 13 9 14 5 15 7 16 1 17 14 18 7 19 1 20 11 21 1 22 1 23 10M0 3 1 0 2 25 3 2 4 25 5 3 6 0 7 12 8 2 9 19 10 7 11 5 12 2 13 7 14 12 15 4 16 0 17 6 18 15 19 1 20 5 21 8 22 4 23 12"/>
<path stroke="#80b545" d="M0 1 1 16 2 1 3 4 4 15 5 8 6 0 7 0 8 2 9 17 10 6 11 9 12 6 13 0 14 16 15 8 16 21 17 2 18 11 19 16 20 24 21 10 22 1 23 13M0 4 1 7 2 8 3 13 4 7 5 1 6 5 7 11 8 2 9 1 10 2 11 0 12 23 13 5 14 16 15 3 16 24 17 24 18 5 19 13 20 5 21 0 22 2 23 8"/>
<path stroke="#5fc5f0" d="M0 16 1 12 2 0 3 0 4 16 5 15 6 25 7 0 8 26 9 0 10 3 11 9 12 5 13 20 14 13 15 25 16 4 17 3 18 8 19 13 20 0 21 17 22 20 23 0M0 21 1 17 2 6 3 17 4 8 5 13 6 16 7 6 8 4 9 9 10 2 11 15 12 19 13 8 14 16 15 5 16 5 17 20 18 4 19 21 20 19 21 2 22 2 23 12"/>
<path stroke="#c02a48" d="M0 14 1 2 2 16 3 9 4 17 5 3 6 24 7 4 8 17 9 1 10 5 11 0 12 0 13 1 14 10 15 0 16 4 17 20 18 17 19 11 20 2 21 7 22 20 23 0"/>
<path stroke="#1a80c8" d="M0 25 1 22 2 11 3 18 4 2 5 24 6 7 7 3 8 3 9 6 10 0 11 25 12 8 13 8 14 18 15 15 16 14 17 5 18 10 19 25 20 13 21 21 22 10 23 3"/>
<path stroke="#c02a48" d="M0 20 1 14 2 4 3 9 4 10 5 0 6 21 7 2 8 16 9 0 10 27 11 10 12 9 13 6 14 19 15 7 16 13 17 27 18 6 19 20 20 21 21 1 22 1 23 10M0 26 1 11 2 9 3 23 4 0 5 1 6 2 7 17 8 14 9 0 10 2 11 0 12 18 13 0 14 10 15 2 16 2 17 8 18 1 19 20 20 2 21 2 22 5 23 15"/>
<path stroke="#1a80c8" d="M0 23 1 12 2 25 3 20 4 21 5 8 6 12 7 1 8 24 9 9 10 22 11 3 12 6 13 27 14 8 15 0 16 23 17 11 18 11 19 11 20 10 21 6 22 2 23 1M0 17 1 14 2 15 3 8 4 18 5 19 6 2 7 2 8 20 9 7 10 5 11 1 12 4 13 18 14 7 15 7 16 10 17 1 18 7 19 2 20 13 21 10 22 18 23 1"/>
<path stroke="#e26030" d="M0 16 1 0 2 10 3 27 4 22 5 2 6 26 7 1 8 0 9 0 10 25 11 17 12 9 13 4 14 0 15 1 16 1 17 2 18 11 19 7 20 24 21 21 22 0 23 9M0 11 1 1 2 26 3 10 4 17 5 5 6 5 7 21 8 17 9 3 10 0 11 7 12 1 13 2 14 17 15 25 16 19 17 6 18 4 19 21 20 1 21 8 22 7 23 0"/>
<path stroke="#f0ba38" d="M0 25 1 3 2 0 3 0 4 10 5 19 6 10 7 3 8 0 9 1 10 3 11 12 12 0 13 2 14 2 15 0 16 0 17 18 18 5 19 6 20 3 21 19 22 1 23 3M0 18 1 8 2 5 3 5 4 1 5 1 6 1 7 19 8 2 9 26 10 6 11 5 12 0 13 11 14 8 15 1 16 1 17 16 18 6 19 1 20 8 21 1 22 16 23 12"/>
<path stroke="#944aa2" d="M0 11 1 0 2 2 3 10 4 1 5 0 6 7 7 3 8 5 9 0 10 9 11 7 12 0 13 18 14 3 15 18 16 1 17 15 18 19 19 22 20 8 21 3 22 17 23 3M0 4 1 1 2 24 3 22 4 19 5 21 6 23 7 10 8 0 9 23 10 4 11 3 12 14 13 15 14 11 15 11 16 13 17 0 18 20 19 2 20 0 21 8 22 1 23 8"/>
<path stroke="#80b545" d="M0 1 1 13 2 23 3 0 4 21 5 7 6 15 7 4 8 25 9 13 10 4 11 20 12 6 13 0 14 4 15 6 16 27 17 24 18 28 19 9 20 4 21 20 22 7 23 1"/>
<path stroke="#5fc5f0" d="M0 10 1 18 2 16 3 5 4 4 5 1 6 13 7 0 8 25 9 1 10 5 11 3 12 20 13 5 14 0 15 6 16 20 17 19 18 17 19 22 20 12 21 0 22 2 23 17"/>
<path stroke="#80b545" d="M0 12 1 8 2 22 3 6 4 24 5 25 6 6 7 26 8 12 9 7 10 10 11 15 12 11 13 25 14 23 15 22 16 28 17 24 18 11 19 0 20 24 21 5 22 13 23 18M0 1 1 23 2 11 3 3 4 7 5 13 6 6 7 0 8 4 9 1 10 1 11 6 12 4 13 2 14 0 15 3 16 4 17 8 18 23 19 0 20 12 21 3 22 10 23 0"/>
<path stroke="#5fc5f0" d="M0 6 1 11 2 5 3 14 4 15 5 27 6 4 7 19 8 15 9 3 10 10 11 25 12 0 13 28 14 1 15 0 16 14 17 2 18 2 19 11 20 1 21 18 22 17 23 8M0 4 1 0 2 2 3 1 4 3 5 0 6 1 7 25 8 7 9 18 10 13 11 4 12 0 13 26 14 2 15 19 16 3 17 10 18 1 19 0 20 4 21 9 22 3 23 2"/>
<path stroke="#c02a48" d="M0 0 1 8 2 2 3 0 4 26 5 20 6 26 7 21 8 24 9 15 10 8 11 1 12 21 13 22 14 0 15 22 16 3 17 16 18 3 19 8 20 5 21 3 22 0 23 19M0 4 1 0 2 5 3 18 4 19 5 0 6 0 7 0 8 0 9 12 10 8 11 12 12 19 13 20 14 13 15 5 16 22 17 1 18 2 19 1 20 22 21 19 22 10 23 7"/>
<path stroke="#1a80c8" d="M0 9 1 20 2 8 3 0 4 22 5 6 6 0 7 6 8 4 9 8 10 0 11 18 12 17 13 26 14 3 15 1 16 14 17 22 18 1 19 42 20 4 21 15 22 18 23 20M0 9 1 7 2 19 3 7 4 1 5 26 6 6 7 5 8 12 9 1 10 0 11 26 12 3 13 15 14 6 15 13 16 3 17 21 18 17 19 4 20 18 21 0 22 0 23 12"/>
<path stroke="#e26030" d="M0 24 1 13 2 2 3 1 4 6 5 4 6 23 7 3 8 5 9 7 10 12 11 10 12 12 13 16 14 0 15 0 16 23 17 27 18 4 19 5 20 16 21 1 22 20 23 14M0 2 1 4 2 18 3 9 4 19 5 20 6 19 7 33 8 3 9 12 10 17 11 14 12 0 13 13 14 0 15 13 16 7 17 4 18 7 19 22 20 1 21 2 22 4 23 0"/>
<path stroke="#f0ba38" d="M0 22 1 11 2 25 3 10 4 1 5 1 6 4 7 21 8 17 9 26 10 22 11 1 12 4 13 1 14 7 15 1 16 1 17 9 18 13 19 5 20 11 21 0 22 7 23 1"/>
<path stroke="#944aa2" d="M0 6 1 9 2 1 3 1 4 5 5 0 6 18 7 5 8 11 9 17 10 11 11 23 12 15 13 20 14 10 15 4 16 15 17 10 18 3 19 3 20 16 21 21 22 8 23 2"/>
<path stroke="#f0ba38" d="M0 0 1 1 2 27 3 19 4 1 5 8 6 22 7 5 8 16 9 5 10 2 11 6 12 9 13 24 14 17 15 8 16 21 17 15 18 0 19 5 20 18 21 10 22 1 23 5M0 0 1 20 2 14 3 5 4 2 5 1 6 2 7 19 8 4 9 10 10 17 11 3 12 1 13 14 14 25 15 5 16 25 17 20 18 8 19 9 20 5 21 7 22 21 23 0"/>
<path stroke="#944aa2" d="M0 7 1 3 2 6 3 12 4 8 5 5 6 6 7 17 8 16 9 7 10 0 11 10 12 36 13 22 14 12 15 7 16 0 17 0 18 19 19 0 20 2 21 5 22 17 23 10M0 6 1 6 2 2 3 9 4 2 5 1 6 21 7 20 8 18 9 0 10 11 11 32 12 25 13 14 14 22 15 32 16 13 17 17 18 9 19 16 20 2 21 13 22 12 23 5"/>
<path stroke="#80b545" d="M0 3 1 25 2 1 3 26 4 0 5 8 6 20 7 1 8 8 9 3 10 0 11 3 12 7 13 27 14 11 15 0 16 2 17 0 18 16 19 3 20 7 21 8 22 2 23 0M0 24 1 11 2 3 3 35 4 27 5 17 6 6 7 0 8 8 9 1 10 3 11 0 12 1 13 1 14 3 15 3 16 26 17 12 18 17 19 18 20 6 21 13 22 11 23 8"/>
<path stroke="#5fc5f0" d="M0 6 1 15 2 13 3 22 4 23 5 15 6 7 7 42 8 1 9 12 10 13 11 1 12 7 13 5 14 23 15 27 16 12 17 9 18 13 19 9 20 14 21 9 22 2 23 12M0 3 1 13 2 19 3 1 4 2 5 4 6 5 7 22 8 14 9 7 10 16 11 22 12 23 13 18 14 1 15 1 16 14 17 12 18 0 19 3 20 19 21 9 22 4 23 4"/>
<path stroke="#c02a48" d="M0 13 1 10 2 23 3 1 4 18 5 15 6 1 7 40 8 6 9 14 10 14 11 8 12 20 13 17 14 26 15 21 16 20 17 4 18 23 19 1 20 19 21 2 22 0 23 6M0 1 1 12 2 18 3 2 4 4 5 19 6 1 7 1 8 2 9 10 10 12 11 7 12 3 13 20 14 19 15 1 16 12 17 7 18 11 19 16 20 5 21 14 22 5 23 9"/>
<path stroke="#1a80c8" d="M0 0 1 15 2 26 3 19 4 23 5 9 6 4 7 2 8 5 9 27 10 15 11 10 12 1 13 8 14 25 15 5 16 14 17 1 18 19 19 0 20 7 21 2 22 0 23 4"/>
<path stroke="#e26030" d="M0 0 1 17 2 9 3 2 4 16 5 9 6 27 7 8 8 3 9 28 10 8 11 17 12 1 13 27 14 13 15 3 16 26 17 25 18 15 19 1 20 1 21 19 22 19 23 3"/>
<path stroke="#1a80c8" d="M0 2 1 0 2 14 3 4 4 23 5 2 6 11 7 9 8 3 9 19 10 21 11 24 12 1 13 0 14 2 15 20 16 5 17 24 18 7 19 15 20 5 21 0 22 0 23 15M0 1 1 7 2 9 3 15 4 3 5 17 6 0 7 7 8 24 9 19 10 23 11 20 12 22 13 12 14 20 15 22 16 12 17 0 18 5 19 16 20 3 21 7 22 2 23 0"/>
<path stroke="#e26030" d="M0 24 1 3 2 6 3 17 4 27 5 6 6 0 7 2 8 3 9 17 10 15 11 15 12 24 13 5 14 4 15 10 16 39 17 20 18 4 19 20 20 4 21 6 22 2 23 7M0 24 1 5 2 0 3 11 4 2 5 27 6 21 7 23 8 24 9 0 10 2 11 31 12 2 13 14 14 21 15 16 16 0 17 5 18 3 19 14 20 15 21 22 22 20 23 0"/>
<path stroke="#f0ba38" d="M0 15 1 6 2 43 3 23 4 3 5 4 6 13 7 6 8 2 9 14 10 0 11 4 12 4 13 27 14 0 15 1 16 12 17 8 18 7 19 21 20 19 21 4 22 9 23 1M0 25 1 3 2 0 3 7 4 10 5 23 6 3 7 9 8 12 9 6 10 1 11 8 12 25 13 0 14 1 15 0 16 2 17 6 18 8 19 13 20 6 21 14 22 19 23 0"/>
<path stroke="#944aa2" d="M0 20 1 23 2 20 3 12 4 0 5 2 6 0 7 26 8 4 9 19 10 4 11 6 12 15 13 6 14 10 15 0 16 19 17 6 18 7 19 14 20 9 21 6 22 2 23 3M0 3 1 16 2 1 3 2 4 10 5 16 6 0 7 4 8 7 9 3 10 4 11 20 12 7 13 44 14 1 15 10 16 9 17 4 18 0 19 3 20 6 21 0 22 3 23 3"/>
<path stroke="#80b545" d="M0 2 1 12 2 29 3 0 4 7 5 1 6 3 7 2 8 16 9 2 10 9 11 18 12 25 13 8 14 4 15 20 16 3 17 4 18 2 19 10 20 22 21 15 22 12 23 0M0 8 1 22 2 2 3 24 4 18 5 9 6 0 7 20 8 12 9 35 10 24 11 2 12 7 13 1 14 6 15 1 16 10 17 11 18 0 19 7 20 4 21 2 22 19 23 6"/>
<path stroke="#5fc5f0" d="M0 2 1 23 2 16 3 5 4 19 5 12 6 13 7 5 8 2 9 21 10 0 11 1 12 3 13 11 14 2 15 7 16 2 17 27 18 11 19 30 20 5 21 0 22 8 23 0"/>
<path stroke="#c02a48" d="M0 9 1 9 2 21 3 26 4 22 5 0 6 3 7 7 8 24 9 19 10 1 11 1 12 3 13 7 14 9 15 0 16 24 17 13 18 20 19 9 20 4 21 1 22 0 23 9"/>
<path stroke="#5fc5f0" d="M0 15 1 10 2 9 3 1 4 4 5 0 6 11 7 23 8 3 9 18 10 2 11 28 12 15 13 16 14 1 15 4 16 13 17 0 18 4 19 25 20 0 21 14 22 1 23 4M0 2 1 7 2 11 3 19 4 17 5 19 6 19 7 9 8 4 9 0 10 1 11 22 12 13 13 0 14 7 15 20 16 0 17 20 18 7 19 0 20 6 21 22 22 1 23 2"/>
<path stroke="#c02a48" d="M0 26 1 25 2 5 3 25 4 6 5 3 6 1 7 0 8 12 9 1 10 0 11 0 12 4 13 6 14 7 15 8 16 27 17 21 18 4 19 17 20 14 21 0 22 6 23 3M0 0 1 17 2 3 3 15 4 15 5 18 6 12 7 15 8 16 9 11 10 22 11 3 12 25 13 12 14 16 15 2 16 12 17 8 18 0 19 12 20 18 21 10 22 9 23 14"/>
<path stroke="#1a80c8" d="M0 3 1 0 2 0 3 5 4 8 5 0 6 3 7 13 8 5 9 14 10 22 11 20 12 10 13 22 14 7 15 2 16 0 17 3 18 4 19 0 20 10 21 0 22 1 23 4M0 11 1 5 2 13 3 3 4 2 5 1 6 17 7 8 8 5 9 7 10 13 11 19 12 16 13 9 14 1 15 16 16 7 17 23 18 0 19 2 20 0 21 0 22 3 23 0"/>
<path stroke="#e26030" d="M0 9 1 0 2 2 3 1 4 11 5 18 6 0 7 1 8 0 9 1 10 22 11 12 12 10 13 0 14 19 15 0 16 21 17 8 18 36 19 1 20 21 21 6 22 21 23 7M0 2 1 16 2 7 3 8 4 1 5 9 6 1 7 1 8 1 9 11 10 6 11 23 12 3 13 26 14 2 15 26 16 18 17 10 18 15 19 0 20 0 21 0 22 8 23 2"/>
<path stroke="#f0ba38" d="M0 10 1 1 2 38 3 0 4 2 5 0 6 3 7 15 8 25 9 19 10 0 11 22 12 3 13 3 14 9 15 9 16 2 17 17 18 7 19 13 20 1 21 22 22 4 23 15M0 15 1 6 2 15 3 0 4 0 5 16 6 22 7 16 8 5 9 0 10 28 11 22 12 6 13 12 14 28 15 3 16 7 17 23 18 11 19 12 20 4 21 15 22 0 23 6"/>
<path stroke="#944aa2" d="M0 7 1 0 2 16 3 10 4 0 5 0 6 28 7 21 8 18 9 7 10 0 11 11 12 4 13 2 14 1 15 0 16 24 17 16 18 23 19 24 20 16 21 7 22 11 23 5"/>
<path stroke="#80b545" d="M0 21 1 25 2 1 3 8 4 6 5 9 6 5 7 26 8 4 9 13 10 0 11 18 12 8 13 0 14 25 15 0 16 0 17 11 18 13 19 11 20 23 21 0 22 11 23 4"/>
<path stroke="#944aa2" d="M0 16 1 4 2 4 3 10 4 2 5 0 6 1 7 7 8 22 9 3 10 17 11 0 12 6 13 2 14 10 15 1 16 4 17 2 18 3 19 5 20 3 21 20 22 15 23 0M0 5 1 0 2 8 3 5 4 40 5 1 6 11 7 27 8 17 9 2 10 13 11 14 12 4 13 2 14 3 15 17 16 10 17 27 18 2 19 1 20 2 21 3 22 3 23 15"/>
<path stroke="#80b545" d="M0 25 1 0 2 6 3 1 4 0 5 2 6 0 7 8 8 15 9 3 10 3 11 12 12 16 13 6 14 17 15 0 16 8 17 0 18 4 19 14 20 4 21 10 22 12 23 16M0 9 1 12 2 0 3 13 4 20 5 6 6 28 7 11 8 8 9 5 10 26 11 3 12 26 13 27 14 4 15 25 16 0 17 10 18 15 19 1 20 22 21 2 22 10 23 10"/>
<path stroke="#5fc5f0" d="M0 14 1 7 2 25 3 8 4 11 5 18 6 0 7 2 8 2 9 28 10 3 11 9 12 3 13 5 14 5 15 2 16 12 17 19 18 10 19 21 20 11 21 10 22 0 23 1M0 4 1 13 2 9 3 0 4 0 5 25 6 13 7 16 8 11 9 22 10 5 11 8 12 20 13 2 14 3 15 1 16 10 17 19 18 25 19 14 20 7 21 15 22 5 23 20"/>
<path stroke="#c02a48" d="M0 0 1 20 2 13 3 26 4 20 5 22 6 24 7 1 8 9 9 14 10 31 11 24 12 19 13 6 14 1 15 4 16 28 17 8 18 0 19 3 20 0 21 1 22 11 23 12M0 3 1 2 2 0 3 19 4 2 5 21 6 17 7 24 8 5 9 0 10 3 11 9 12 6 13 1 14 21 15 1 16 26 17 25 18 24 19 0 20 17 21 1 22 12 23 8"/>
<path stroke="#1a80c8" d="M0 0 1 1 2 9 3 27 4 0 5 11 6 4 7 12 8 0 9 1 10 25 11 18 12 2 13 6 14 8 15 12 16 10 17 11 18 19 19 12 20 0 21 0 22 7 23 1M0 13 1 25 2 13 3 10 4 7 5 1 6 32 7 11 8 13 9 8 10 2 11 0 12 14 13 3 14 22 15 32 16 7 17 1 18 21 19 25 20 23 21 11 22 1 23 0"/>
<path stroke="#e26030" d="M0 4 1 4 2 3 3 0 4 16 5 7 6 1 7 6 8 0 9 26 10 3 11 5 12 33 13 9 14 1 15 27 16 12 17 7 18 1 19 10 20 18 21 1 22 0 23 13"/>
<path stroke="#f0ba38" d="M0 2 1 16 2 18 3 5 4 25 5 7 6 8 7 11 8 20 9 4 10 10 11 27 12 0 13 13 14 0 15 15 16 15 17 14 18 2 19 11 20 16 21 19 22 20 23 9"/>
<path stroke="#e26030" d="M0 16 1 24 2 22 3 2 4 10 5 23 6 5 7 19 8 12 9 20 10 9 11 1 12 17 13 14 14 25 15 13 16 9 17 13 18 6 19 5 20 7 21 2 22 17 23 11M0 14 1 0 2 11 3 19 4 0 5 37 6 2 7 6 8 3 9 12 10 6 11 0 12 7 13 0 14 22 15 44 16 1 17 3 18 14 19 19 20 1 21 0 22 7 23 1"/>
<path stroke="#f0ba38" d="M0 12 1 4 2 25 3 17 4 19 5 15 6 1 7 26 8 5 9 5 10 0 11 1 12 5 13 26 14 6 15 0 16 4 17 13 18 21 19 1 20 20 21 0 22 2 23 4M0 14 1 15 2 26 3 13 4 1 5 22 6 9 7 20 8 4 9 39 10 23 11 5 12 2 13 4 14 15 15 20 16 17 17 23 18 3 19 1 20 0 21 10 22 9 23 16"/>
<path stroke="#944aa2" d="M0 7 1 5 2 13 3 14 4 25 5 10 6 8 7 0 8 24 9 15 10 6 11 2 12 22 13 17 14 12 15 11 16 27 17 0 18 25 19 11 20 20 21 13 22 1 23 6M0 20 1 5 2 11 3 10 4 14 5 0 6 4 7 19 8 2 9 12 10 24 11 8 12 22 13 1 14 9 15 27 16 6 17 16 18 0 19 0 20 20 21 0 22 1 23 1"/>
<path stroke="#80b545" d="M0 10 1 1 2 24 3 12 4 8 5 0 6 11 7 3 8 7 9 22 10 0 11 6 12 10 13 28 14 1 15 1 16 3 17 0 18 13 19 0 20 1 21 1 22 6 23 0M0 18 1 14 2 1 3 19 4 1 5 4 6 0 7 7 8 0 9 12 10 16 11 20 12 14 13 16 14 3 15 19 16 1 17 23 18 10 19 1 20 3 21 15 22 21 23 1"/>
<path stroke="#5fc5f0" d="M0 5 1 2 2 0 3 10 4 0 5 12 6 26 7 1 8 3 9 2 10 5 11 26 12 1 13 1 14 22 15 4 16 18 17 1 18 27 19 8 20 6 21 14 22 20 23 4M0 14 1 0 2 17 3 27 4 1 5 3 6 12 7 0 8 25 9 26 10 0 11 6 12 12 13 8 14 5 15 3 16 4 17 14 18 8 19 4 20 0 21 14 22 15 23 7"/>
<path stroke="#c02a48" d="M0 10 1 0 2 13 3 26 4 27 5 18 6 23 7 26 8 14 9 13 10 2 11 0 12 15 13 23 14 0 15 14 16 0 17 16 18 5 19 0 20 12 21 8 22 2 23 1"/>
<path stroke="#1a80c8" d="M0 2 1 1 2 11 3 20 4 0 5 1 6 23 7 1 8 25 9 0 10 6 11 1 12 0 13 11 14 3 15 25 16 20 17 26 18 3 19 9 20 17 21 1 22 16 23 17"/>
<path stroke="#c02a48" d="M0 1 1 3 2 18 3 13 4 5 5 1 6 6 7 21 8 2 9 8 10 3 11 21 12 1 13 5 14 9 15 0 16 9 17 1 18 17 19 9 20 0 21 6 22 2 23 4M0 0 1 21 2 2 3 18 4 5 5 3 6 10 7 6 8 5 9 10 10 4 11 2 12 6 13 18 14 5 15 7 16 3 17 14 18 27 19 6 20 1 21 18 22 13 23 8"/>
<path stroke="#1a80c8" d="M0 22 1 24 2 19 3 0 4 2 5 0 6 16 7 3 8 19 9 14 10 16 11 7 12 13 13 12 14 3 15 4 16 24 17 43 18 24 19 7 20 6 21 3 22 1 23 0M0 1 1 22 2 27 3 24 4 19 5 23 6 14 7 3 8 14 9 25 10 12 11 12 12 23 13 27 14 9 15 15 16 4 17 0 18 18 19 11 20 5 21 19 22 4 23 3"/>
<path stroke="#e26030" d="M0 6 1 6 2 2 3 9 4 13 5 7 6 10 7 0 8 12 9 4 10 16 11 34 12 3 13 3 14 11 15 24 16 1 17 10 18 0 19 7 20 23 21 13 22 5 23 14M0 9 1 3 2 23 3 5 4 9 5 12 6 11 7 25 8 20 9 5 10 20 11 3 12 8 13 0 14 25 15 27 16 2 17 1 18 1 19 28 20 22 21 12 22 12 23 2"/>
<path stroke="#f0ba38" d="M0 12 1 0 2 2 3 4 4 3 5 24 6 1 7 5 8 7 9 43 10 22 11 1 12 11 13 14 14 13 15 6 16 10 17 22 18 7 19 22 20 20 21 11 22 10 23 1M0 6 1 10 2 12 3 18 4 3 5 3 6 8 7 8 8 1 9 13 10 7 11 0 12 1 13 1 14 11 15 4 16 4 17 0 18 6 19 8 20 8 21 1 22 6 23 3"/>
<path stroke="#944aa2" d="M0 16 1 0 2 0 3 7 4 1 5 4 6 13 7 0 8 14 9 17 10 1 11 3 12 2 13 22 14 7 15 14 16 10 17 10 18 6 19 0 20 5 21 0 22 1 23 2M0 0 1 6 2 18 3 3 4 27 5 7 6 1 7 1 8 6 9 11 10 11 11 8 12 24 13 11 14 8 15 0 16 1 17 16 18 11 19 10 20 5 21 1 22 0 23 15"/>
<path stroke="#80b545" d="M0 18 1 23 2 5 3 23 4 0 5 13 6 1 7 8 8 0 9 26 10 14 11 0 12 0 13 0 14 25 15 42 16 2 17 8 18 14 19 10 20 19 21 28 22 21 23 12"/>
<path stroke="#5fc5f0" d="M0 7 1 15 2 2 3 8 4 0 5 7 6 12 7 15 8 4 9 13 10 12 11 5 12 2 13 27 14 3 15 1 16 3 17 16 18 14 19 12 20 2 21 27 22 7 23 1"/>
<path stroke="#80b545" d="M0 3 1 2 2 24 3 9 4 2 5 11 6 9 7 3 8 2 9 11 10 0 11 0 12 20 13 21 14 12 15 15 16 1 17 16 18 0 19 6 20 7 21 9 22 5 23 13M0 0 1 25 2 10 3 1 4 23 5 2 6 0 7 12 8 19 9 10 10 1 11 0 12 0 13 1 14 14 15 9 16 39 17 9 18 26 19 4 20 6 21 17 22 0 23 16"/>
<path stroke="#5fc5f0" d="M0 2 1 22 2 0 3 8 4 1 5 6 6 10 7 0 8 18 9 17 10 0 11 8 12 14 13 22 14 14 15 20 16 22 17 22 18 0 19 0 20 11 21 11 22 0 23 7M0 20 1 4 2 20 3 17 4 16 5 6 6 25 7 8 8 11 9 21 10 10 11 4 12 3 13 2 14 25 15 16 16 11 17 6 18 3 19 7 20 5 21 6 22 19 23 0"/>
<path stroke="#c02a48" d="M0 22 1 10 2 6 3 1 4 15 5 0 6 24 7 26 8 7 9 2 10 8 11 6 12 4 13 27 14 28 15 24 16 16 17 0 18 19 19 24 20 7 21 10 22 6 23 0M0 24 1 3 2 6 3 0 4 4 5 6 6 9 7 23 8 27 9 22 10 1 11 2 12 1 13 3 14 7 15 0 16 10 17 4 18 11 19 16 20 12 21 5 22 7 23 13"/>
<path stroke="#1a80c8" d="M0 5 1 3 2 19 3 0 4 0 5 23 6 24 7 6 8 25 9 28 10 27 11 9 12 16 13 15 14 4 15 1 16 0 17 5 18 33 19 22 20 3 21 3 22 0 23 0M0 18 1 2 2 12 3 5 4 25 5 27 6 2 7 1 8 22 9 2 10 0 11 13 12 12 13 5 14 5 15 19 16 1 17 2 18 5 19 8 20 19 21 1 22 15 23 6"/>
<path stroke="#e26030" d="M0 20 1 9 2 3 3 5 4 6 5 11 6 17 7 2 8 5 9 11 10 0 11 13 12 9 13 1 14 5 15 9 16 5 17 1 18 18 19 13 20 20 21 14 22 16 23 5M0 12 1 3 2 9 3 9 4 14 5 8 6 5 7 5 8 4 9 1 10 3 11 20 12 15 13 20 14 1 15 22 16 23 17 5 18 6 19 13 20 16 21 18 22 6 23 3"/>
<path stroke="#f0ba38" d="M0 8 1 10 2 0 3 4 4 0 5 2 6 3 7 11 8 10 9 0 10 16 11 0 12 19 13 7 14 14 15 1 16 8 17 21 18 2 19 3 20 17 21 5 22 0 23 1"/>
<path stroke="#944aa2" d="M0 8 1 1 2 8 3 21 4 6 5 0 6 2 7 11 8 2 9 15 10 15 11 23 12 26 13 25 14 8 15 8 16 25 17 14 18 4 19 22 20 15 21 7 22 17 23 7"/>
<path stroke="#f0ba38" d="M0 8 1 8 2 14 3 0 4 27 5 13 6 5 7 22 8 9 9 18 10 0 11 27 12 5 13 15 14 13 15 1 16 0 17 8 18 1 19 18 20 5 21 2 22 0 23 1M0 0 1 0 2 2 3 26 4 8 5 1 6 7 7 6 8 20 9 2 10 22 11 4 12 10 13 19 14 0 15 15 16 8 17 8 18 5 19 14 20 20 21 5 22 10 23 1"/>
<path stroke="#944aa2" d="M0 9 1 18 2 7 3 19 4 0 5 6 6 11 7 11 8 21 9 10 10 5 11 1 12 2 13 19 14 0 15 6 16 0 17 13 18 24 19 3 20 0 21 0 22 13 23 20M0 1 1 14 2 11 3 11 4 3 5 5 6 0 7 20 8 26 9 2 10 4 11 27 12 10 13 8 14 9 15 16 16 17 17 0 18 1 19 11 20 0 21 20 22 0 23 6"/>
<path stroke="#80b545" d="M0 7 1 16 2 1 3 24 4 11 5 10 6 12 7 1 8 3 9 8 10 13 11 9 12 13 13 0 14 0 15 25 16 3 17 10 18 0 19 1 20 7 21 1 22 9 23 0M0 17 1 6 2 12 3 7 4 43 5 3 6 0 7 2 8 0 9 7 10 1 11 15 12 2 13 16 14 3 15 24 16 23 17 0 18 2 19 5 20 5 21 15 22 19 23 10"/>
<path stroke="#5fc5f0" d="M0 7 1 10 2 0 3 0 4 17 5 12 6 5 7 25 8 7 9 2 10 12 11 0 12 1 13 12 14 5 15 9 16 7 17 20 18 6 19 15 20 21 21 41 22 1 23 13M0 12 1 7 2 26 3 3 4 1 5 2 6 25 7 20 8 14 9 26 10 1 11 23 12 17 13 2 14 6 15 8 16 4 17 8 18 7 19 2 20 0 21 1 22 1 23 6"/>
<path stroke="#c02a48" d="M0 2 1 6 2 1 3 2 4 8 5 12 6 15 7 28 8 2 9 0 10 0 11 15 12 0 13 1 14 22 15 1 16 22 17 12 18 26 19 17 20 23 21 18 22 2 23 6M0 15 1 1 2 4 3 14 4 3 5 0 6 16 7 7 8 8 9 8 10 2 11 12 12 1 13 17 14 5 15 27 16 4 17 14 18 26 19 21 20 22 21 10 22 14 23 8"/>
<path stroke="#1a80c8" d="M0 24 1 8 2 11 3 1 4 25 5 6 6 18 7 0 8 19 9 1 10 5 11 1 12 2 13 28 14 7 15 7 16 8 17 13 18 12 19 1 20 10 21 13 22 19 23 1"/>
<path stroke="#e26030" d="M0 13 1 8 2 22 3 2 4 0 5 5 6 1 7 1 8 18 9 4 10 15 11 23 12 0 13 26 14 1 15 1 16 13 17 4 18 16 19 11 20 19 21 1 22 7 23 6"/>
<path stroke="#1a80c8" d="M0 1 1 9 2 16 3 22 4 12 5 10 6 24 7 27 8 4 9 17 10 0 11 1 12 3 13 3 14 21 15 4 16 20 17 16 18 8 19 10 20 12 21 16 22 15 23 0M0 15 1 2 2 11 3 1 4 18 5 1 6 9 7 8 8 0 9 9 10 16 11 4 12 15 13 7 14 11 15 18 16 14 17 0 18 25 19 7 20 7 21 15 22 1 23 1"/>
<path stroke="#e26030" d="M0 0 1 11 2 4 3 15 4 0 5 7 6 19 7 19 8 19 9 15 10 23 11 26 12 12 13 14 14 17 15 6 16 0 17 21 18 0 19 0 20 5 21 14 22 21 23 0M0 17 1 5 2 0 3 12 4 13 5 0 6 17 7 24 8 0 9 15 10 6 11 8 12 16 13 23 14 28 15 24 16 24 17 0 18 13 19 0 20 23 21 1 22 2 23 18"/>
<path stroke="#f0ba38" d="M0 24 1 3 2 13 3 6 4 11 5 5 6 15 7 24 8 15 9 4 10 14 11 4 12 12 13 11 14 2 15 8 16 0 17 3 18 6 19 25 20 12 21 19 22 4 23 11M0 26 1 8 2 2 3 0 4 5 5 22 6 18 7 2 8 2 9 1 10 10 11 22 12 4 13 21 14 2 15 27 16 1 17 20 18 21 19 2 20 4 21 10 22 2 23 19"/>
<path stroke="#944aa2" d="M0 12 1 22 2 3 3 2 4 3 5 1 6 14 7 2 8 14 9 0 10 17 11 26 12 0 13 23 14 24 15 17 16 24 17 16 18 9 19 6 20 11 21 21 22 6 23 0M0 0 1 1 2 0 3 11 4 1 5 3 6 15 7 17 8 5 9 21 10 43 11 10 12 21 13 0 14 10 15 10 16 8 17 14 18 3 19 4 20 17 21 5 22 4 23 9"/>
<path stroke="#80b545" d="M0 21 1 0 2 1 3 10 4 20 5 1 6 19 7 7 8 5 9 22 10 27 11 18 12 7 13 0 14 1 15 3 16 27 17 3 18 9 19 2 20 2 21 0 22 7 23 3M0 24 1 13 2 14 3 13 4 0 5 24 6 14 7 9 8 10 9 24 10 6 11 11 12 2 13 22 14 19 15 21 16 6 17 24 18 19 19 2 20 0 21 6 22 21 23 13"/>
<path stroke="#5fc5f0" d="M0 25 1 8 2 14 3 7 4 16 5 15 6 0 7 0 8 10 9 19 10 1 11 0 12 16 13 21 14 9 15 10 16 7 17 1 18 4 19 1 20 1 21 0 22 9 23 5"/>
<path stroke="#c02a48" d="M0 4 1 11 2 9 3 0 4 23 5 0 6 20 7 2 8 0 9 5 10 2 11 20 12 4 13 3 14 17 15 0 16 25 17 8 18 0 19 13 20 1 21 17 22 28 23 13"/>
<path stroke="#5fc5f0" d="M0 8 1 17 2 11 3 20 4 1 5 18 6 6 7 2 8 23 9 22 10 12 11 13 12 4 13 6 14 2 15 7 16 1 17 19 18 4 19 23 20 11 21 12 22 11 23 5M0 15 1 11 2 2 3 0 4 10 5 27 6 1 7 1 8 0 9 6 10 1 11 5 12 4 13 34 14 2 15 5 16 0 17 0 18 14 19 1 20 7 21 14 22 12 23 0"/>
<path stroke="#c02a48" d="M0 15 1 13 2 2 3 27 4 1 5 2 6 4 7 25 8 19 9 5 10 3 11 2 12 14 13 5 14 20 15 24 16 0 17 11 18 21 19 9 20 10 21 15 22 5 23 1M0 18 1 15 2 23 3 20 4 2 5 2 6 3 7 0 8 1 9 8 10 11 11 0 12 10 13 1 14 14 15 8 16 1 17 5 18 19 19 10 20 21 21 1 22 3 23 1"/>
<path stroke="#1a80c8" d="M0 4 1 12 2 18 3 3 4 11 5 9 6 26 7 4 8 20 9 14 10 0 11 5 12 24 13 6 14 4 15 17 16 15 17 17 18 6 19 1 20 5 21 2 22 20 23 15M0 10 1 3 2 2 3 5 4 14 5 1 6 20 7 1 8 8 9 0 10 25 11 0 12 5 13 10 14 0 15 3 16 9 17 0 18 22 19 2 20 19 21 5 22 26 23 3"/>
<path stroke="#e26030" d="M0 1 1 0 2 5 3 0 4 3 5 19 6 21 7 0 8 24 9 21 10 2 11 3 12 0 13 2 14 9 15 22 16 3 17 11 18 3 19 9 20 4 21 22 22 7 23 20M0 16 1 14 2 0 3 12 4 21 5 13 6 9 7 28 8 5 9 19 10 4 11 6 12 26 13 3 14 10 15 14 16 22 17 4 18 1 19 3 20 0 21 14 22 2 23 0"/>
<path stroke="#f0ba38" d="M0 1 1 8 2 4 3 0 4 19 5 7 6 5 7 22 8 1 9 7 10 13 11 13 12 9 13 8 14 23 15 12 16 15 17 26 18 4 19 7 20 12 21 15 22 4 23 1M0 4 1 3 2 10 3 0 4 7 5 0 6 6 7 13 8 13 9 15 10 0 11 14 12 11 13 21 14 0 15 7 16 2 17 19 18 5 19 12 20 16 21 14 22 11 23 17"/>
<path stroke="#944aa2" d="M0 2 1 12 2 12 3 10 4 14 5 13 6 3 7 0 8 24 9 27 10 8 11 4 12 3 13 28 14 8 15 1 16 20 17 0 18 6 19 10 20 0 21 4 22 0 23 29"/>
<path stroke="#80b545" d="M0 5 1 9 2 15 3 14 4 1 5 1 6 20 7 1 8 2 9 4 10 3 11 6 12 17 13 2 14 5 15 20 16 3 17 13 18 36 19 17 20 12 21 5 22 10 23 2"/>
<path stroke="#944aa2" d="M0 3 1 5 2 18 3 22 4 4 5 1 6 8 7 1 8 13 9 1 10 10 11 1 12 25 13 10 14 5 15 27 16 11 17 23 18 1 19 0 20 3 21 3 22 4 23 9M0 4 1 34 2 4 3 11 4 26 5 13 6 18 7 7 8 40 9 8 10 5 11 5 12 25 13 1 14 23 15 2 16 14 17 20 18 2 19 2 20 15 21 4 22 3 23 0"/>
<path stroke="#80b545" d="M0 3 1 6 2 7 3 12 4 23 5 1 6 20 7 4 8 1 9 2 10 3 11 1 12 2 13 12 14 20 15 16 16 19 17 7 18 9 19 15 20 0 21 10 22 0 23 18M0 8 1 1 2 2 3 0 4 2 5 5 6 22 7 0 8 10 9 16 10 6 11 5 12 2 13 11 14 13 15 0 16 26 17 5 18 26 19 12 20 7 21 9 22 5 23 5"/>
<path stroke="#5fc5f0" d="M0 11 1 12 2 2 3 5 4 21 5 1 6 3 7 7 8 21 9 1 10 26 11 0 12 15 13 12 14 17 15 20 16 7 17 0 18 2 19 4 20 2 21 22 22 7 23 6M0 21 1 7 2 12 3 1 4 4 5 2 6 3 7 0 8 6 9 7 10 10 11 8 12 0 13 6 14 22 15 10 16 6 17 16 18 1 19 0 20 5 21 19 22 13 23 1"/>
<path stroke="#c02a48" d="M0 2 1 20 2 10 3 2 4 21 5 6 6 9 7 9 8 2 9 8 10 3 11 19 12 6 13 4 14 6 15 0 16 28 17 20 18 25 19 0 20 7 21 15 22 19 23 1M0 1 1 24 2 6 3 6 4 24 5 0 6 2 7 5 8 9 9 10 10 6 11 14 12 21 13 2 14 23 15 23 16 19 17 10 18 10 19 4 20 12 21 20 22 5 23 8"/>
<path stroke="#1a80c8" d="M0 20 1 11 2 3 3 0 4 4 5 2 6 4 7 7 8 1 9 14 10 7 11 4 12 20 13 2 14 3 15 1 16 0 17 11 18 5 19 2 20 11 21 3 22 8 23 8M0 0 1 0 2 2 3 1 4 1 5 2 6 5 7 25 8 0 9 21 10 15 11 23 12 41 13 9 14 26 15 2 16 1 17 23 18 0 19 5 20 11 21 0 22 5 23 20"/>
<path stroke="#e26030" d="M0 18 1 24 2 12 3 0 4 0 5 8 6 8 7 22 8 14 9 3 10 14 11 1 12 13 13 13 14 0 15 12 16 14 17 24 18 25 19 11 20 22 21 10 22 3 23 8"/>
<path stroke="#f0ba38" d="M0 10 1 17 2 23 3 2 4 15 5 4 6 2 7 12 8 17 9 6 10 8 11 12 12 13 13 19 14 0 15 13 16 7 17 1 18 0 19 2 20 9 21 19 22 2 23 4"/>
<path stroke="#e26030" d="M0 8 1 0 2 20 3 23 4 21 5 4 6 3 7 9 8 10 9 10 10 5 11 20 12 2 13 11 14 9 15 1 16 2 17 4 18 5 19 2 20 1 21 0 22 2 23 9M0 2 1 2 2 2 3 10 4 9 5 26 6 9 7 18 8 4 9 17 10 4 11 0 12 19 13 20 14 4 15 20 16 13 17 13 18 3 19 0 20 16 21 20 22 1 23 8"/>
<path stroke="#f0ba38" d="M0 9 1 18 2 0 3 14 4 9 5 12 6 27 7 1 8 7 9 22 10 17 11 21 12 5 13 0 14 0 15 9 16 0 17 9 18 6 19 16 20 5 21 0 22 7 23 2M0 1 1 2 2 6 3 6 4 1 5 0 6 28 7 7 8 28 9 13 10 0 11 0 12 28 13 3 14 9 15 27 16 4 17 0 18 22 19 2 20 6 21 9 22 15 23 1"/>
<path stroke="#944aa2" d="M0 13 1 0 2 19 3 44 4 0 5 11 6 0 7 17 8 2 9 4 10 22 11 17 12 7 13 16 14 3 15 0 16 10 17 20 18 4 19 4 20 15 21 1 22 4 23 19M0 4 1 7 2 5 3 5 4 0 5 5 6 14 7 11 8 13 9 2 10 13 11 17 12 11 13 18 14 9 15 7 16 1 17 2 18 11 19 6 20 6 21 3 22 13 23 20"/>
<path stroke="#80b545" d="M0 0 1 4 2 8 3 23 4 3 5 2 6 1 7 26 8 7 9 2 10 0 11 2 12 2 13 1 14 6 15 12 16 3 17 20 18 2 19 1 20 23 21 2 22 3 23 17M0 24 1 23 2 23 3 2 4 0 5 27 6 19 7 0 8 22 9 0 10 11 11 13 12 13 13 1 14 22 15 0 16 0 17 22 18 11 19 8 20 12 21 20 22 14 23 15"/>
<path stroke="#5fc5f0" d="M0 2 1 10 2 20 3 4 4 21 5 17 6 28 7 1 8 14 9 8 10 14 11 8 12 6 13 1 14 18 15 5 16 7 17 1 18 0 19 14 20 18 21 12 22 0 23 12M0 0 1 8 2 0 3 25 4 6 5 27 6 1 7 26 8 3 9 22 10 4 11 10 12 7 13 11 14 12 15 3 16 1 17 3 18 2 19 11 20 11 21 16 22 10 23 9"/>
<path stroke="#c02a48" d="M0 3 1 1 2 12 3 15 4 26 5 19 6 1 7 9 8 15 9 6 10 25 11 3 12 2 13 21 14 0 15 26 16 1 17 24 18 8 19 13 20 21 21 6 22 4 23 10"/>
<path stroke="#1a80c8" d="M0 6 1 25 2 0 3 7 4 5 5 19 6 13 7 11 8 7 9 0 10 26 11 15 12 5 13 13 14 14 15 0 16 2 17 0 18 2 19 13 20 18 21 18 22 0 23 7"/>
<path stroke="#c02a48" d="M0 1 1 7 2 20 3 3 4 0 5 5 6 1 7 8 8 2 9 2 10 9 11 1 12 4 13 3 14 2 15 0 16 3 17 18 18 5 19 3 20 5 21 3 22 14 23 1M0 6 1 0 2 21 3 22 4 8 5 1 6 5 7 9 8 12 9 23 10 27 11 3 12 16 13 2 14 24 15 0 16 13 17 2 18 25 19 1 20 20 21 13 22 5 23 0"/>
<path stroke="#1a80c8" d="M0 11 1 23 2 13 3 16 4 19 5 16 6 3 7 14 8 21 9 0 10 8 11 12 12 23 13 2 14 17 15 23 16 6 17 9 18 1 19 7 20 12 21 11 22 21 23 1M0 26 1 14 2 11 3 13 4 24 5 7 6 7 7 23 8 6 9 9 10 9 11 1 12 22 13 22 14 2 15 26 16 26 17 25 18 1 19 8 20 12 21 3 22 9 23 18"/>
<path stroke="#e26030" d="M0 21 1 2 2 2 3 0 4 26 5 22 6 25 7 16 8 15 9 1 10 12 11 13 12 21 13 4 14 19 15 0 16 15 17 28 18 11 19 9 20 23 21 0 22 6 23 9M0 2 1 1 2 15 3 16 4 7 5 6 6 21 7 24 8 0 9 17 10 8 11 2 12 7 13 8 14 7 15 12 16 26 17 15 18 26 19 0 20 7 21 9 22 3 23 7"/>
<path stroke="#f0ba38" d="M0 7 1 24 2 0 3 3 4 1 5 7 6 1 7 9 8 12 9 1 10 28 11 2 12 12 13 15 14 12 15 25 16 10 17 5 18 8 19 23 20 16 21 1 22 0 23 2M0 26 1 7 2 3 3 15 4 1 5 2 6 25 7 11 8 4 9 2 10 25 11 13 12 20 13 5 14 23 15 39 16 4 17 20 18 3 19 1 20 11 21 22 22 19 23 33"/>
<path stroke="#944aa2" d="M0 7 1 18 2 22 3 13 4 8 5 7 6 12 7 26 8 2 9 1 10 4 11 8 12 18 13 2 14 3 15 11 16 12 17 6 18 3 19 6 20 1 21 3 22 3 23 0M0 21 1 10 2 9 3 22 4 0 5 13 6 20 7 22 8 12 9 12 10 12 11 10 12 9 13 1 14 11 15 17 16 21 17 4 18 6 19 1 20 20 21 2 22 4 23 2"/>
<path stroke="#80b545" d="M0 2 1 7 2 9 3 3 4 8 5 2 6 26 7 4 8 23 9 4 10 12 11 2 12 25 13 0 14 12 15 2 16 21 17 14 18 14 19 3 20 7 21 2 22 26 23 7"/>
<path stroke="#5fc5f0" d="M0 25 1 12 2 1 3 20 4 20 5 1 6 9 7 6 8 25 9 11 10 0 11 8 12 11 13 13 14 17 15 18 16 11 17 25 18 17 19 2 20 23 21 20 22 3 23 7"/>
<path stroke="#80b545" d="M0 1 1 1 2 13 3 4 4 18 5 0 6 7 7 0 8 11 9 5 10 27 11 8 12 8 13 0 14 17 15 4 16 1 17 2 18 24 19 2 20 17 21 6 22 1 23 16M0 26 1 1 2 0 3 16 4 4 5 5 6 7 7 1 8 2 9 14 10 17 11 27 12 0 13 12 14 15 15 4 16 0 17 6 18 1 19 1 20 1 21 12 22 4 23 1"/>
<path stroke="#5fc5f0" d="M0 15 1 0 2 10 3 4 4 0 5 1 6 1 7 0 8 9 9 2 10 23 11 5 12 4 13 4 14 25 15 11 16 0 17 16 18 3 19 18 20 0 21 0 22 14 23 7M0 8 1 11 2 16 3 25 4 6 5 0 6 29 7 0 8 5 9 12 10 8 11 2 12 18 13 2 14 9 15 25 16 24 17 2 18 18 19 16 20 11 21 6 22 13 23 4"/>
<path stroke="#c02a48" d="M0 5 1 3 2 20 3 0 4 17 5 0 6 5 7 23 8 1 9 25 10 18 11 7 12 13 13 25 14 8 15 28 16 0 17 10 18 6 19 5 20 6 21 8 22 0 23 7M0 16 1 0 2 26 3 0 4 1 5 0 6 25 7 4 8 0 9 20 10 12 11 4 12 2 13 14 14 18 15 5 16 1 17 12 18 4 19 3 20 11 21 3 22 4 23 2"/>
<path stroke="#1a80c8" d="M0 1 1 2 2 10 3 1 4 3 5 18 6 10 7 2 8 0 9 14 10 0 11 27 12 7 13 17 14 20 15 7 16 8 17 21 18 12 19 0 20 18 21 7 22 9 23 17M0 20 1 24 2 10 3 13 4 0 5 8 6 0 7 5 8 0 9 1 10 22 11 16 12 16 13 7 14 9 15 20 16 3 17 8 18 4 19 10 20 0 21 6 22 8 23 4"/>
<path stroke="#e26030" d="M0 1 1 25 2 8 3 9 4 25 5 5 6 7 7 8 8 2 9 16 10 14 11 4 12 1 13 21 14 11 15 4 16 0 17 13 18 25 19 17 20 1 21 4 22 5 23 8M0 17 1 25 2 25 3 13 4 2 5 18 6 10 7 17 8 15 9 12 10 21 11 19 12 12 13 2 14 20 15 5 16 0 17 15 18 4 19 0 20 0 21 5 22 1 23 1"/>
<path stroke="#f0ba38" d="M0 14 1 1 2 0 3 7 4 12 5 23 6 10 7 7 8 14 9 26 10 3 11 23 12 11 13 0 14 19 15 7 16 22 17 42 18 14 19 22 20 10 21 10 22 5 23 0"/>
<path stroke="#944aa2" d="M0 19 1 24 2 10 3 18 4 2 5 12 6 1 7 0 8 1 9 1 10 9 11 14 12 21 13 0 14 0 15 1 16 11 17 23 18 6 19 23 20 34 21 3 22 0 23 0"/>
<path stroke="#f0ba38" d="M0 1 1 15 2 22 3 3 4 1 5 2 6 15 7 2 8 1 9 18 10 25 11 1 12 1 13 24 14 0 15 1 16 1 17 3 18 8 19 19 20 19 21 12 22 9 23 1M0 3 1 3 2 0 3 21 4 4 5 1 6 1 7 28 8 16 9 1 10 4 11 0 12 2 13 1 14 7 15 4 16 1 17 20 18 16 19 6 20 1 21 4 22 6 23 12"/>
<path stroke="#944aa2" d="M0 7 1 5 2 23 3 2 4 9 5 15 6 2 7 6 8 5 9 0 10 8 11 2 12 12 13 10 14 1 15 4 16 1 17 22 18 3 19 33 20 9 21 14 22 13 23 10M0 1 1 1 2 0 3 27 4 40 5 3 6 4 7 25 8 0 9 5 10 23 11 3 12 6 13 19 14 5 15 17 16 4 17 0 18 9 19 4 20 13 21 18 22 7 23 3"/>
<path stroke="#80b545" d="M0 19 1 7 2 2 3 5 4 0 5 10 6 22 7 5 8 17 9 15 10 23 11 0 12 15 13 23 14 11 15 8 16 4 17 39 18 4 19 8 20 22 21 8 22 1 23 14M0 9 1 10 2 12 3 3 4 7 5 2 6 18 7 9 8 11 9 19 10 17 11 23 12 3 13 13 14 1 15 1 16 1 17 25 18 23 19 5 20 21 21 7 22 0 23 5"/>
<path stroke="#5fc5f0" d="M0 14 1 6 2 9 3 22 4 25 5 2 6 18 7 0 8 3 9 0 10 10 11 19 12 6 13 23 14 27 15 24 16 8 17 22 18 17 19 22 20 13 21 6 22 14 23 15M0 22 1 1 2 1 3 0 4 1 5 3 6 7 7 4 8 18 9 20 10 1 11 6 12 18 13 9 14 22 15 14 16 11 17 9 18 24 19 18 20 0 21 4 22 10 23 10"/>
<path stroke="#c02a48" d="M0 1 1 9 2 18 3 1 4 2 5 28 6 8 7 3 8 6 9 2 10 6 11 5 12 17 13 18 14 2 15 10 16 9 17 0 18 13 19 24 20 10 21 1 22 4 23 2M0 1 1 24 2 0 3 0 4 12 5 4 6 13 7 1 8 0 9 13 10 13 11 2 12 6 13 4 14 6 15 0 16 15 17 12 18 1 19 1 20 3 21 18 22 14 23 2"/>
<path stroke="#1a80c8" d="M0 4 1 7 2 3 3 20 4 6 5 20 6 23 7 5 8 22 9 7 10 1 11 10 12 20 13 11 14 0 15 18 16 0 17 25 18 27 19 0 20 5 21 3 22 6 23 0"/>
<path stroke="#e26030" d="M0 1 1 5 2 21 3 10 4 3 5 6 6 20 7 1 8 4 9 1 10 0 11 2 12 19 13 1 14 22 15 3 16 0 17 18 18 16 19 20 20 21 21 11 22 4 23 1"/>
<path stroke="#1a80c8" d="M0 20 1 0 2 7 3 13 4 19 5 14 6 12 7 1 8 26 9 17 10 11 11 26 12 4 13 28 14 26 15 24 16 11 17 1 18 0 19 0 20 11 21 0 22 18 23 17M0 0 1 7 2 13 3 6 4 2 5 7 6 0 7 9 8 3 9 9 10 15 11 5 12 2 13 6 14 4 15 21 16 1 17 19 18 17 19 8 20 13 21 5 22 5 23 5"/>
<path stroke="#e26030" d="M0 8 1 1 2 0 3 39 4 14 5 23 6 18 7 1 8 3 9 15 10 22 11 10 12 13 13 8 14 1 15 9 16 0 17 2 18 14 19 22 20 7 21 8 22 8 23 12M0 24 1 8 2 4 3 8 4 26 5 16 6 21 7 5 8 9 9 26 10 3 11 3 12 0 13 23 14 26 15 13 16 21 17 25 18 1 19 11 20 21 21 14 22 11 23 0"/>
<path stroke="#f0ba38" d="M0 13 1 4 2 22 3 14 4 18 5 23 6 0 7 20 8 16 9 16 10 1 11 13 12 6 13 13 14 23 15 1 16 3 17 8 18 22 19 19 20 4 21 40 22 0 23 0M0 1 1 10 2 10 3 2 4 5 5 0 6 6 7 15 8 5 9 20 10 6 11 17 12 3 13 9 14 15 15 8 16 17 17 1 18 13 19 3 20 19 21 3 22 16 23 4"/>
<path stroke="#944aa2" d="M0 40 1 26 2 11 3 23 4 22 5 3 6 12 7 12 8 21 9 4 10 4 11 6 12 12 13 8 14 9 15 20 16 26 17 7 18 9 19 13 20 1 21 4 22 20 23 8M0 3 1 19 2 5 3 9 4 21 5 16 6 6 7 6 8 19 9 9 10 3 11 3 12 0 13 5 14 1 15 12 16 19 17 0 18 1 19 14 20 3 21 4 22 0 23 3"/>
<path stroke="#80b545" d="M0 1 1 4 2 9 3 24 4 27 5 26 6 0 7 3 8 25 9 7 10 1 11 5 12 2 13 5 14 4 15 8 16 3 17 20 18 0 19 3 20 0 21 1 22 15 23 1M0 4 1 1 2 8 3 26 4 24 5 7 6 1 7 5 8 24 9 5 10 5 11 5 12 5 13 8 14 14 15 19 16 7 17 1 18 26 19 1 20 15 21 17 22 2 23 5"/>
<path stroke="#5fc5f0" d="M0 1 1 2 2 15 3 7 4 1 5 2 6 2 7 1 8 27 9 12 10 1 11 10 12 19 13 6 14 25 15 8 16 1 17 25 18 23 19 15 20 17 21 4 22 6 23 13"/>
<path stroke="#c02a48" d="M0 12 1 14 2 23 3 0 4 14 5 21 6 3 7 23 8 1 9 16 10 5 11 16 12 3 13 25 14 7 15 1 16 3 17 1 18 0 19 14 20 4 21 22 22 2 23 25"/>
<path stroke="#5fc5f0" d="M0 5 1 20 2 1 3 12 4 13 5 14 6 3 7 14 8 19 9 6 10 1 11 0 12 6 13 1 14 18 15 16 16 8 17 12 18 2 19 11 20 7 21 12 22 15 23 19M0 2 1 20 2 14 3 4 4 1 5 0 6 21 7 11 8 14 9 1 10 12 11 19 12 5 13 1 14 17 15 0 16 10 17 25 18 1 19 9 20 12 21 0 22 1 23 17"/>
<path stroke="#c02a48" d="M0 1 1 0 2 0 3 24 4 3 5 19 6 21 7 11 8 1 9 2 10 23 11 19 12 1 13 1 14 19 15 9 16 3 17 27 18 5 19 1 20 10 21 8 22 1 23 0M0 24 1 2 2 24 3 4 4 17 5 4 6 6 7 16 8 11 9 5 10 2 11 0 12 8 13 10 14 26 15 20 16 14 17 6 18 8 19 11 20 10 21 7 22 21 23 12"/>
<path stroke="#1a80c8" d="M0 17 1 10 2 13 3 10 4 3 5 17 6 5 7 0 8 18 9 3 10 14 11 3 12 0 13 5 14 16 15 9 16 0 17 28 18 36 19 13 20 1 21 17 22 14 23 10M0 12 1 3 2 0 3 9 4 10 5 26 6 3 7 9 8 14 9 1 10 3 11 10 12 2 13 13 14 1 15 18 16 14 17 4 18 2 19 3 20 7 21 5 22 1 23 0"/>
<path stroke="#e26030" d="M0 6 1 8 2 21 3 3 4 6 5 6 6 6 7 9 8 1 9 8 10 20 11 17 12 13 13 21 14 27 15 0 16 1 17 4 18 0 19 12 20 2 21 22 22 4 23 13M0 5 1 23 2 19 3 3 4 1 5 40 6 26 7 0 8 9 9 3 10 1 11 2 12 21 13 2 14 0 15 8 16 19 17 1 18 2 19 1 20 2 21 21 22 4 23 2"/>
<path stroke="#f0ba38" d="M0 0 1 1 2 4 3 0 4 10 5 10 6 5 7 25 8 13 9 7 10 0 11 27 12 34 13 0 14 0 15 13 16 44 17 20 18 1 19 12 20 1 21 0 22 16 23 3M0 0 1 1 2 0 3 3 4 1 5 27 6 2 7 8 8 9 9 3 10 11 11 7 12 10 13 22 14 12 15 6 16 4 17 2 18 8 19 14 20 9 21 8 22 7 23 2"/>
<path stroke="#944aa2" d="M0 4 1 0 2 25 3 7 4 14 5 25 6 2 7 17 8 24 9 17 10 16 11 11 12 6 13 25 14 8 15 26 16 3 17 6 18 10 19 11 20 10 21 1 22 0 23 8"/>
<path stroke="#80b545" d="M0 1 1 26 2 15 3 21 4 0 5 22 6 4 7 1 8 0 9 13 10 0 11 0 12 0 13 18 14 0 15 21 16 23 17 9 18 44 19 12 20 4 21 10 22 3 23 0"/>
<path stroke="#944aa2" d="M0 5 1 10 2 5 3 17 4 0 5 8 6 9 7 0 8 20 9 2 10 25 11 7 12 54 13 10 14 0 15 8 16 1 17 4 18 10 19 7 20 2 21 14 22 0 23 2M0 1 1 1 2 0 3 15 4 27 5 5 6 18 7 19 8 5 9 12 10 10 11 2 12 20 13 7 14 21 15 12 16 1 17 13 18 12 19 13 20 1 21 0 22 2 23 2"/>
<path stroke="#80b545" d="M0 7 1 1 2 9 3 0 4 0 5 4 6 26 7 1 8 0 9 9 10 1 11 16 12 13 13 18 14 17 15 3 16 44 17 2 18 19 19 24 20 23 21 22 22 2 23 0M0 16 1 22 2 4 3 4 4 9 5 2 6 20 7 1 8 3 9 11 10 23 11 19 12 0 13 3 14 0 15 18 16 19 17 6 18 7 19 1 20 10 21 18 22 19 23 13"/>
<path stroke="#5fc5f0" d="M0 23 1 5 2 10 3 5 4 11 5 15 6 2 7 5 8 2 9 1 10 26 11 4 12 21 13 5 14 0 15 15 16 8 17 16 18 1 19 0 20 15 21 16 22 15 23 0M0 14 1 0 2 0 3 27 4 13 5 19 6 12 7 0 8 0 9 14 10 22 11 0 12 17 13 16 14 19 15 10 16 4 17 6 18 13 19 5 20 3 21 12 22 10 23 9"/>
<path stroke="#c02a48" d="M0 26 1 13 2 0 3 11 4 0 5 17 6 17 7 10 8 2 9 10 10 9 11 14 12 6 13 15 14 3 15 1 16 8 17 9 18 4 19 23 20 4 21 19 22 4 23 10M0 0 1 1 2 1 3 3 4 24 5 12 6 8 7 0 8 24 9 5 10 0 11 4 12 18 13 5 14 3 15 0 16 20 17 5 18 14 19 18 20 8 21 18 22 2 23 7"/>
<path stroke="#1a80c8" d="M0 5 1 26 2 26 3 1 4 11 5 3 6 8 7 8 8 27 9 6 10 24 11 23 12 6 13 1 14 22 15 1 16 18 17 1 18 0 19 13 20 1 21 5 22 2 23 0M0 4 1 13 2 22 3 0 4 1 5 4 6 6 7 21 8 1 9 4 10 13 11 24 12 2 13 13 14 16 15 12 16 16 17 8 18 17 19 15 20 1 21 15 22 16 23 5"/>
<path stroke="#e26030" d="M0 9 1 11 2 2 3 3 4 6 5 0 6 7 7 0 8 19 9 10 10 1 11 20 12 14 13 10 14 0 15 16 16 3 17 1 18 2 19 5 20 2 21 5 22 10 23 2"/>
<path stroke="#f0ba38" d="M0 11 1 18 2 22 3 12 4 3 5 27 6 9 7 0 8 21 9 26 10 1 11 0 12 0 13 9 14 0 15 16 16 0 17 13 18 9 19 2 20 5 21 17 22 0 23 12"/>
<path stroke="#e26030" d="M0 3 1 1 2 4 3 5 4 0 5 7 6 23 7 0 8 8 9 22 10 26 11 7 12 26 13 26 14 15 15 1 16 0 17 0 18 14 19 25 20 21 21 9 22 1 23 12M0 3 1 13 2 22 3 10 4 10 5 22 6 11 7 4 8 5 9 6 10 2 11 17 12 9 13 19 14 3 15 9 16 1 17 58 18 2 19 23 20 23 21 11 22 5 23 9"/>
<path stroke="#f0ba38" d="M0 6 1 26 2 0 3 6 4 9 5 21 6 1 7 18 8 10 9 15 10 5 11 3 12 21 13 28 14 1 15 3 16 10 17 6 18 13 19 5 20 3 21 13 22 4 23 5M0 20 1 3 2 1 3 26 4 0 5 16 6 3 7 48 8 28 9 1 10 3 11 7 12 9 13 4 14 2 15 1 16 17 17 15 18 3 19 2 20 0 21 19 22 20 23 2"/>
<path stroke="#944aa2" d="M0 5 1 21 2 0 3 10 4 0 5 25 6 1 7 5 8 14 9 9 10 19 11 24 12 25 13 21 14 1 15 1 16 7 17 0 18 1 19 7 20 12 21 1 22 7 23 7M0 4 1 1 2 7 3 1 4 3 5 7 6 20 7 1 8 0 9 18 10 26 11 7 12 3 13 0 14 12 15 74 16 1 17 2 18 22 19 0 20 5 21 8 22 13 23 11"/>
<path stroke="#80b545" d="M0 22 1 12 2 1 3 0 4 22 5 24 6 8 7 0 8 4 9 12 10 2 11 13 12 3 13 3 14 11 15 4 16 21 17 2 18 7 19 0 20 14 21 2 22 9 23 5M0 2 1 18 2 4 3 24 4 1 5 18 6 26 7 25 8 0 9 14 10 0 11 23 12 13 13 25 14 52 15 2 16 1 17 4 18 1 19 2 20 23 21 1 22 0 23 6"/>
<path stroke="#5fc5f0" d="M0 26 1 15 2 13 3 15 4 2 5 10 6 21 7 2 8 6 9 1 10 8 11 24 12 15 13 4 14 1 15 5 16 13 17 5 18 18 19 1 20 21 21 6 22 20 23 15M0 11 1 1 2 14 3 21 4 15 5 10 6 1 7 27 8 10 9 58 10 22 11 0 12 1 13 15 14 25 15 1 16 2 17 10 18 12 19 1 20 8 21 9 22 1 23 4"/>
<path stroke="#c02a48" d="M0 1 1 0 2 6 3 0 4 21 5 17 6 4 7 14 8 25 9 0 10 3 11 2 12 12 13 0 14 14 15 6 16 0 17 23 18 4 19 8 20 11 21 0 22 2 23 12"/>
<path stroke="#1a80c8" d="M0 2 1 2 2 1 3 4 4 0 5 26 6 17 7 4 8 0 9 2 10 13 11 16 12 7 13 5 14 21 15 16 16 0 17 3 18 40 19 4 20 2 21 18 22 13 23 0"/>
<path stroke="#c02a48" d="M0 17 1 7 2 0 3 22 4 17 5 19 6 19 7 23 8 2 9 8 10 0 11 7 12 0 13 8 14 22 15 9 16 0 17 12 18 2 19 9 20 15 21 2 22 21 23 0M0 0 1 8 2 8 3 27 4 14 5 0 6 4 7 3 8 17 9 24 10 4 11 8 12 8 13 11 14 16 15 3 16 3 17 28 18 0 19 12 20 1 21 1 22 16 23 2"/>
<path stroke="#1a80c8" d="M0 2 1 9 2 2 3 4 4 8 5 4 6 6 7 10 8 5 9 21 10 16 11 5 12 12 13 0 14 13 15 2 16 27 17 0 18 8 19 0 20 2 21 0 22 7 23 0M0 19 1 15 2 0 3 25 4 3 5 0 6 16 7 14 8 22 9 12 10 9 11 0 12 8 13 19 14 1 15 24 16 13 17 16 18 23 19 24 20 17 21 0 22 0 23 7"/>
<path stroke="#e26030" d="M0 20 1 22 2 4 3 0 4 0 5 10 6 16 7 18 8 1 9 4 10 26 11 9 12 1 13 2 14 1 15 11 16 7 17 4 18 1 19 16 20 22 21 12 22 20 23 13M0 18 1 24 2 25 3 8 4 22 5 6 6 27 7 23 8 7 9 5 10 9 11 14 12 3 13 24 14 25 15 34 16 7 17 3 18 30 19 3 20 3 21 15 22 19 23 10"/>
<path stroke="#f0ba38" d="M0 23 1 15 2 3 3 2 4 22 5 17 6 19 7 16 8 18 9 26 10 8 11 15 12 0 13 4 14 5 15 0 16 2 17 18 18 19 19 8 20 5 21 1 22 13 23 11M0 16 1 26 2 29 3 2 4 5 5 14 6 3 7 28 8 9 9 17 10 0 11 3 12 7 13 3 14 9 15 6 16 8 17 27 18 15 19 5 20 13 21 20 22 1 23 5"/>
<path stroke="#944aa2" d="M0 1 1 22 2 3 3 26 4 1 5 24 6 3 7 12 8 2 9 6 10 5 11 10 12 11 13 11 14 10 15 0 16 0 17 0 18 18 19 12 20 16 21 12 22 21 23 7M0 2 1 3 2 2 3 14 4 8 5 20 6 8 7 24 8 13 9 0 10 0 11 9 12 1 13 17 14 35 15 9 16 10 17 0 18 21 19 15 20 16 21 17 22 20 23 0"/>
<path stroke="#80b545" d="M0 25 1 7 2 0 3 3 4 6 5 0 6 12 7 6 8 16 9 3 10 1 11 16 12 3 13 1 14 1 15 0 16 5 17 0 18 1 19 8 20 10 21 12 22 5 23 3"/>
<path stroke="#5fc5f0" d="M0 0 1 17 2 21 3 1 4 3 5 3 6 3 7 13 8 1 9 0 10 5 11 21 12 12 13 3 14 5 15 4 16 9 17 0 18 2 19 5 20 5 21 0 22 16 23 3"/>
<path stroke="#80b545" d="M0 3 1 6 2 2 3 0 4 21 5 27 6 0 7 9 8 0 9 0 10 27 11 0 12 0 13 12 14 9 15 13 16 4 17 28 18 17 19 1 20 7 21 5 22 19 23 8M0 23 1 1 2 2 3 52 4 7 5 19 6 6 7 9 8 6 9 10 10 12 11 6 12 17 13 2 14 1 15 27 16 5 17 9 18 19 19 21 20 22 21 18 22 1 23 16"/>
<path stroke="#5fc5f0" d="M0 10 1 2 2 16 3 21 4 25 5 23 6 3 7 0 8 24 9 0 10 23 11 15 12 17 13 10 14 0 15 0 16 25 17 20 18 12 19 41 20 9 21 6 22 6 23 8M0 19 1 78 2 2 3 9 4 5 5 2 6 5 7 17 8 14 9 5 10 1 11 1 12 19 13 0 14 4 15 2 16 19 17 3 18 19 19 11 20 1 21 1 22 6 23 8"/>
<path stroke="#c02a48" d="M0 10 1 11 2 14 3 5 4 0 5 18 6 0 7 2 8 2 9 26 10 0 11 6 12 0 13 18 14 0 15 15 16 2 17 0 18 0 19 14 20 2 21 0 22 4 23 19M0 9 1 10 2 6 3 4 4 16 5 7 6 15 7 0 8 7 9 2 10 0 11 16 12 4 13 58 14 9 15 11 16 1 17 12 18 9 19 22 20 4 21 3 22 10 23 2"/>
<path stroke="#1a80c8" d="M0 1 1 8 2 15 3 8 4 25 5 0 6 20 7 12 8 0 9 6 10 2 11 54 12 28 13 17 14 16 15 9 16 38 17 10 18 4 19 12 20 22 21 7 22 1 23 0"/>
<path stroke="#e26030" d="M0 9 1 16 2 7 3 0 4 12 5 20 6 0 7 19 8 64 9 18 10 17 11 21 12 24 13 14 14 8 15 33 16 0 17 1 18 3 19 32 20 0 21 5 22 22 23 7"/>
<path stroke="#f0ba38" d="M0 13 1 8 2 1 3 1 4 27 5 11 6 58 7 0 8 7 9 9 10 4 11 3 12 5 13 6 14 0 15 5 16 10 17 2 18 13 19 8 20 1 21 9 22 2 23 4"/>
<path stroke="#944aa2" d="M0 30 1 1 2 3 3 9 4 23 5 7 6 26 7 16 8 2 9 1 10 62 11 25 12 21 13 0 14 6 15 0 16 19 17 7 18 3 19 22 20 3 21 15 22 19 23 19"/>
</g></g>
<path d="M47.7,679.5v-1.2M47.7,583v1.2M70.2,679.5v-1.2M70.2,583v1.2M92.6,679.5v-1.2M92.6,583v1.2M115.1,679.5v-1.2M115.1,583v1.2M29.8,655.4h1.2M133,655.4h-1.2M29.8,631.2h1.2M133,631.2h-1.2M29.8,607.1h1.2M133,607.1h-1.2" stroke="#858585" stroke-width="1" fill="none"/>
<text class="tk" x="27.2" y="682.3" text-anchor="end">0</text>
<text class="tk" x="27.2" y="658.2" text-anchor="end">0.2</text>
<text class="tk" x="27.2" y="634" text-anchor="end">0.4</text>
<text class="tk" x="27.2" y="609.9" text-anchor="end">0.6</text>
<text class="tk" x="27.2" y="585.8" text-anchor="end">0.8</text>
<text class="tk" x="47.7" y="690" text-anchor="middle">5</text>
<text class="tk" x="70.2" y="690" text-anchor="middle">10</text>
<text class="tk" x="92.6" y="690" text-anchor="middle">15</text>
<text class="tk" x="115.1" y="690" text-anchor="middle">20</text>
<text class="yl" transform="translate(13.1,631.2) rotate(-90)" text-anchor="middle">Precipitation ratio</text>
<text class="rl" x="27.5" y="699">(I)</text>
<text class="xl" x="64.9" y="700.7">Time/[h]</text>
<text class="tt" x="89.7" y="599.1">Total: 406</text>
<rect x="170.5" y="581" width="103" height="96.6" fill="none" stroke="#858585" stroke-width="1"/>
<clipPath id="cpc2"><rect x="169.9" y="580.4" width="104.2" height="97.8"/></clipPath>
<g clip-path="url(#cpc2)"><g class="pl" transform="translate(170.5 677.6) scale(4.4783 -0.6038)">
<path stroke="#2b95d6" d="M0 0 1 0 2 0 3 4 4 10 5 60 6 16 7 4 8 54 9 24 10 18 11 4 12 2 13 4 14 0 15 0 16 2 17 4 18 2 19 6 20 12 21 22 22 6 23 2M0 0 1 0 2 0 3 0 4 2 5 56 6 20 7 14 8 8 9 4 10 6 11 10 12 0 13 2 14 0 15 6 16 0 17 4 18 0 19 0 20 4 21 6 22 4 23 8"/>
<path stroke="#ec7a4c" d="M0 48 1 0 2 0 3 0 4 10 5 82 6 12 7 6 8 30 9 10 10 6 11 4 12 14 13 6 14 0 15 2 16 4 17 14 18 6 19 2 20 0 21 0 22 2 23 4M0 0 1 0 2 0 3 0 4 6 5 60 6 14 7 10 8 6 9 12 10 4 11 8 12 10 13 4 14 0 15 0 16 0 17 6 18 4 19 2 20 0 21 2 22 0 23 0"/>
<path stroke="#f2c244" d="M0 20 1 0 2 0 3 4 4 20 5 70 6 10 7 4 8 16 9 8 10 2 11 6 12 2 13 0 14 2 15 4 16 8 17 12 18 6 19 8 20 4 21 2 22 0 23 2"/>
<path stroke="#a060b0" d="M0 0 1 0 2 0 3 0 4 4 5 40 6 0 7 2 8 4 9 8 10 10 11 2 12 4 13 2 14 0 15 0 16 4 17 8 18 4 19 0 20 0 21 2 22 10 23 4"/>
<path stroke="#8cc058" d="M0 0 1 0 2 0 3 10 4 24 5 56 6 20 7 16 8 12 9 6 10 4 11 2 12 2 13 4 14 2 15 0 16 0 17 4 18 10 19 20 20 16 21 10 22 4 23 0"/>
<path stroke="#6ccaf0" d="M0 0 1 0 2 0 3 0 4 6 5 50 6 10 7 20 8 10 9 4 10 2 11 20 12 4 13 8 14 0 15 0 16 2 17 4 18 8 19 10 20 25 21 12 22 4 23 2"/>
<path stroke="#c04a60" d="M0 6 1 0 2 0 3 0 4 46 5 24 6 6 7 4 8 6 9 2 10 8 11 6 12 2 13 4 14 6 15 0 16 0 17 2 18 4 19 0 20 4 21 10 22 26 23 4"/>
</g></g>
<path d="M188.4,677.6v-1.2M188.4,581v1.2M210.8,677.6v-1.2M210.8,581v1.2M233.2,677.6v-1.2M233.2,581v1.2M255.6,677.6v-1.2M255.6,581v1.2M170.5,653.5h1.2M273.5,653.5h-1.2M170.5,629.3h1.2M273.5,629.3h-1.2M170.5,605.1h1.2M273.5,605.1h-1.2" stroke="#858585" stroke-width="1" fill="none"/>
<text class="tk" x="167.9" y="680.4" text-anchor="end">0</text>
<text class="tk" x="167.9" y="656.2" text-anchor="end">0.2</text>
<text class="tk" x="167.9" y="632.1" text-anchor="end">0.4</text>
<text class="tk" x="167.9" y="607.9" text-anchor="end">0.6</text>
<text class="tk" x="167.9" y="583.8" text-anchor="end">0.8</text>
<text class="tk" x="188.4" y="690" text-anchor="middle">5</text>
<text class="tk" x="210.8" y="690" text-anchor="middle">10</text>
<text class="tk" x="233.2" y="690" text-anchor="middle">15</text>
<text class="tk" x="255.6" y="690" text-anchor="middle">20</text>
<text class="yl" transform="translate(153.8,629.3) rotate(-90)" text-anchor="middle">Precipitation ratio</text>
<text class="rl" x="161.7" y="699">(II)</text>
<text class="xl" x="205" y="700.7">Time/[h]</text>
<text class="tt" x="231" y="599">Total: 9</text>
<rect x="302.5" y="580" width="103" height="96.6" fill="none" stroke="#858585" stroke-width="1"/>
<clipPath id="cpc3"><rect x="301.9" y="579.4" width="104.2" height="97.8"/></clipPath>
<g clip-path="url(#cpc3)"><g class="pl" transform="translate(302.5 676.6) scale(4.4783 -0.6038)">
<path stroke="#2b95d6" d="M0 61 1 66 2 1 3 3 4 9 5 0 6 0 7 0 8 0 9 0 10 0 11 0 12 0 13 0 14 0 15 0 16 0 17 3 18 6 19 1 20 14 21 17 22 4 23 6"/>
<path stroke="#ec7a4c" d="M0 78 1 44 2 3 3 4 4 16 5 3 6 1 7 0 8 0 9 0 10 0 11 0 12 0 13 0 14 0 15 0 16 0 17 0 18 6 19 3 20 14 21 16 22 3 23 8"/>
<path stroke="#f2c244" d="M0 72 1 31 2 8 3 6 4 9 5 6 6 3 7 1 8 1 9 1 10 8 11 6 12 1 13 0 14 0 15 0 16 0 17 0 18 3 19 6 20 9 21 6 22 1 23 3"/>
<path stroke="#a060b0" d="M0 80 1 6 2 1 3 1 4 1 5 0 6 1 7 3 8 3 9 19 10 9 11 4 12 12 13 16 14 16 15 16 16 9 17 1 18 0 19 0 20 0 21 0 22 0 23 3"/>
</g></g>
<path d="M320.4,676.6v-1.2M320.4,580v1.2M342.8,676.6v-1.2M342.8,580v1.2M365.2,676.6v-1.2M365.2,580v1.2M387.6,676.6v-1.2M387.6,580v1.2M302.5,652.5h1.2M405.5,652.5h-1.2M302.5,628.3h1.2M405.5,628.3h-1.2M302.5,604.1h1.2M405.5,604.1h-1.2" stroke="#858585" stroke-width="1" fill="none"/>
<text class="tk" x="299.9" y="679.4" text-anchor="end">0</text>
<text class="tk" x="299.9" y="655.2" text-anchor="end">0.2</text>
<text class="tk" x="299.9" y="631.1" text-anchor="end">0.4</text>
<text class="tk" x="299.9" y="606.9" text-anchor="end">0.6</text>
<text class="tk" x="299.9" y="582.8" text-anchor="end">0.8</text>
<text class="tk" x="320.4" y="690" text-anchor="middle">5</text>
<text class="tk" x="342.8" y="690" text-anchor="middle">10</text>
<text class="tk" x="365.2" y="690" text-anchor="middle">15</text>
<text class="tk" x="387.6" y="690" text-anchor="middle">20</text>
<text class="yl" transform="translate(285.8,628.3) rotate(-90)" text-anchor="middle">Precipitation ratio</text>
<text class="rl" x="294.2" y="698.6">(III)</text>
<text class="xl" x="338.2" y="698.8">Time/[h]</text>
<text class="tt" x="365.5" y="599">Total: 4</text>
<rect x="434.5" y="580.3" width="103" height="96.7" fill="none" stroke="#858585" stroke-width="1"/>
<clipPath id="cpc4"><rect x="433.9" y="579.7" width="104.2" height="97.9"/></clipPath>
<g clip-path="url(#cpc4)"><g class="pl" transform="translate(434.5 677) scale(4.4783 -0.6044)">
<path stroke="#2b95d6" d="M0 2 1 5 2 1 3 0 4 0 5 0 6 0 7 0 8 0 9 0 10 1 11 18 12 0 13 0 14 0 15 29 16 8 17 0 18 10 19 4 20 10 21 46 22 46 23 13"/>
<path stroke="#ec7a4c" d="M0 3 1 9 2 1 3 0 4 0 5 0 6 0 7 1 8 7 9 1 10 0 11 0 12 0 13 0 14 0 15 26 16 8 17 0 18 7 19 24 20 15 21 36 22 36 23 16"/>
<path stroke="#f2c244" d="M0 3 1 3 2 2 3 2 4 2 5 2 6 2 7 2 8 2 9 2 10 2 11 2 12 0 13 0 14 0 15 20 16 6 17 1 18 19 19 15 20 7 21 80 22 44 23 19"/>
</g></g>
<path d="M452.4,677v-1.2M452.4,580.3v1.2M474.8,677v-1.2M474.8,580.3v1.2M497.2,677v-1.2M497.2,580.3v1.2M519.6,677v-1.2M519.6,580.3v1.2M434.5,652.8h1.2M537.5,652.8h-1.2M434.5,628.6h1.2M537.5,628.6h-1.2M434.5,604.5h1.2M537.5,604.5h-1.2" stroke="#858585" stroke-width="1" fill="none"/>
<text class="tk" x="431.9" y="679.8" text-anchor="end">0</text>
<text class="tk" x="431.9" y="655.6" text-anchor="end">0.2</text>
<text class="tk" x="431.9" y="631.4" text-anchor="end">0.4</text>
<text class="tk" x="431.9" y="607.3" text-anchor="end">0.6</text>
<text class="tk" x="431.9" y="583.1" text-anchor="end">0.8</text>
<text class="tk" x="452.4" y="690" text-anchor="middle">5</text>
<text class="tk" x="474.8" y="690" text-anchor="middle">10</text>
<text class="tk" x="497.2" y="690" text-anchor="middle">15</text>
<text class="tk" x="519.6" y="690" text-anchor="middle">20</text>
<text class="yl" transform="translate(417.8,628.6) rotate(-90)" text-anchor="middle">Precipitation ratio</text>
<text class="rl" x="429.8" y="698.6">(IV)</text>
<text class="xl" x="469.3" y="700.3">Time/[h]</text>
<text class="tt" x="503" y="595">Total: 3</text>
<rect x="32.3" y="718.3" width="103.2" height="97.2" fill="none" stroke="#858585" stroke-width="1"/>
<clipPath id="cpc5"><rect x="31.7" y="717.7" width="104.4" height="98.4"/></clipPath>
<g clip-path="url(#cpc5)"><g class="pl" transform="translate(32.3 815.5) scale(4.4870 -0.6075)">
<path stroke="#2b95d6" d="M0 0 1 32 2 64 3 2 4 0 5 2 6 4 7 2 8 6 9 9 10 2 11 0 12 6 13 3 14 3 15 8 16 9 17 11 18 8 19 6 20 8 21 8 22 5 23 5"/>
<path stroke="#ec7a4c" d="M0 0 1 0 2 43 3 10 4 1 5 1 6 2 7 6 8 10 9 52 10 2 11 1 12 0 13 0 14 0 15 1 16 6 17 10 18 12 19 17 20 0 21 0 22 17 23 4"/>
<path stroke="#f2c244" d="M0 0 1 2 2 44 3 47 4 27 5 11 6 12 7 7 8 2 9 0 10 0 11 0 12 12 13 23 14 10 15 6 16 4 17 1 18 1 19 0 20 0 21 0 22 1 23 0"/>
</g></g>
<path d="M50.2,815.5v-1.2M50.2,718.3v1.2M72.7,815.5v-1.2M72.7,718.3v1.2M95.1,815.5v-1.2M95.1,718.3v1.2M117.6,815.5v-1.2M117.6,718.3v1.2M32.3,791.2h1.2M135.5,791.2h-1.2M32.3,766.9h1.2M135.5,766.9h-1.2M32.3,742.6h1.2M135.5,742.6h-1.2" stroke="#858585" stroke-width="1" fill="none"/>
<text class="tk" x="29.7" y="818.3" text-anchor="end">0</text>
<text class="tk" x="29.7" y="794" text-anchor="end">0.2</text>
<text class="tk" x="29.7" y="769.7" text-anchor="end">0.4</text>
<text class="tk" x="29.7" y="745.4" text-anchor="end">0.6</text>
<text class="tk" x="29.7" y="721.1" text-anchor="end">0.8</text>
<text class="tk" x="50.2" y="825.3" text-anchor="middle">5</text>
<text class="tk" x="72.7" y="825.3" text-anchor="middle">10</text>
<text class="tk" x="95.1" y="825.3" text-anchor="middle">15</text>
<text class="tk" x="117.6" y="825.3" text-anchor="middle">20</text>
<text class="yl" transform="translate(15.6,766.9) rotate(-90)" text-anchor="middle">Precipitation ratio</text>
<text class="rl" x="27.5" y="837">(V)</text>
<text class="xl" x="66.7" y="835.9">Time/[h]</text>
<text class="tt" x="89.7" y="734.1">Total: 3</text>
<rect x="169.3" y="718.3" width="103.2" height="96.7" fill="none" stroke="#858585" stroke-width="1"/>
<clipPath id="cpc6"><rect x="168.7" y="717.7" width="104.4" height="97.9"/></clipPath>
<g clip-path="url(#cpc6)"><g class="pl" transform="translate(169.3 815) scale(4.4870 -0.6044)">
<path stroke="#2b95d6" d="M0 18 1 10 2 8 3 41 4 76 5 27 6 2 7 1 8 1 9 1 10 5 11 2 12 1 13 1 14 3 15 1 16 1 17 1 18 1 19 2 20 0 21 0 22 0 23 10"/>
</g></g>
<path d="M187.2,815v-1.2M187.2,718.3v1.2M209.7,815v-1.2M209.7,718.3v1.2M232.1,815v-1.2M232.1,718.3v1.2M254.6,815v-1.2M254.6,718.3v1.2M169.3,790.8h1.2M272.5,790.8h-1.2M169.3,766.6h1.2M272.5,766.6h-1.2M169.3,742.5h1.2M272.5,742.5h-1.2" stroke="#858585" stroke-width="1" fill="none"/>
<text class="tk" x="166.7" y="817.8" text-anchor="end">0</text>
<text class="tk" x="166.7" y="793.6" text-anchor="end">0.2</text>
<text class="tk" x="166.7" y="769.4" text-anchor="end">0.4</text>
<text class="tk" x="166.7" y="745.3" text-anchor="end">0.6</text>
<text class="tk" x="166.7" y="721.1" text-anchor="end">0.8</text>
<text class="tk" x="187.2" y="825.3" text-anchor="middle">5</text>
<text class="tk" x="209.7" y="825.3" text-anchor="middle">10</text>
<text class="tk" x="232.1" y="825.3" text-anchor="middle">15</text>
<text class="tk" x="254.6" y="825.3" text-anchor="middle">20</text>
<text class="yl" transform="translate(152.6,766.6) rotate(-90)" text-anchor="middle">Precipitation ratio</text>
<text class="rl" x="161.7" y="837">(VI)</text>
<text class="xl" x="204.2" y="835.6">Time/[h]</text>
<text class="tt" x="230.5" y="733.6">Total: 1</text>
<rect x="302.8" y="718.3" width="102.7" height="96.7" fill="none" stroke="#858585" stroke-width="1"/>
<clipPath id="cpc7"><rect x="302.2" y="717.7" width="103.9" height="97.9"/></clipPath>
<g clip-path="url(#cpc7)"><g class="pl" transform="translate(302.8 815) scale(4.4652 -0.6044)">
<path stroke="#2b95d6" d="M0 0 1 6 2 0 3 0 4 0 5 0 6 60 7 8 8 2 9 52 10 8 11 25 12 1 13 1 14 2 15 8 16 1 17 3 18 16 19 5 20 3 21 2 22 1 23 0"/>
</g></g>
<path d="M320.7,815v-1.2M320.7,718.3v1.2M343,815v-1.2M343,718.3v1.2M365.3,815v-1.2M365.3,718.3v1.2M387.6,815v-1.2M387.6,718.3v1.2M302.8,790.8h1.2M405.5,790.8h-1.2M302.8,766.6h1.2M405.5,766.6h-1.2M302.8,742.5h1.2M405.5,742.5h-1.2" stroke="#858585" stroke-width="1" fill="none"/>
<text class="tk" x="300.2" y="817.8" text-anchor="end">0</text>
<text class="tk" x="300.2" y="793.6" text-anchor="end">0.2</text>
<text class="tk" x="300.2" y="769.4" text-anchor="end">0.4</text>
<text class="tk" x="300.2" y="745.3" text-anchor="end">0.6</text>
<text class="tk" x="300.2" y="721.1" text-anchor="end">0.8</text>
<text class="tk" x="320.7" y="825.3" text-anchor="middle">5</text>
<text class="tk" x="343" y="825.3" text-anchor="middle">10</text>
<text class="tk" x="365.3" y="825.3" text-anchor="middle">15</text>
<text class="tk" x="387.6" y="825.3" text-anchor="middle">20</text>
<text class="yl" transform="translate(286.1,766.6) rotate(-90)" text-anchor="middle">Precipitation ratio</text>
<text class="rl" x="292.4" y="837.6">(VII)</text>
<text class="xl" x="337.4" y="835.6">Time/[h]</text>
<text class="tt" x="365.5" y="733.7">Total: 1</text>
<rect x="435.5" y="718.3" width="103" height="96.7" fill="none" stroke="#858585" stroke-width="1"/>
<clipPath id="cpc8"><rect x="434.9" y="717.7" width="104.2" height="97.9"/></clipPath>
<g clip-path="url(#cpc8)"><g class="pl" transform="translate(435.5 815) scale(4.4783 -0.6044)">
<path stroke="#2b95d6" d="M0 1 1 2 2 3 3 1 4 4 5 2 6 0 7 0 8 50 9 0 10 5 11 3 12 1 13 1 14 2 15 0 16 0 17 2 18 0 19 0 20 1 21 1 22 59 23 55"/>
</g></g>
<path d="M453.4,815v-1.2M453.4,718.3v1.2M475.8,815v-1.2M475.8,718.3v1.2M498.2,815v-1.2M498.2,718.3v1.2M520.6,815v-1.2M520.6,718.3v1.2M435.5,790.8h1.2M538.5,790.8h-1.2M435.5,766.6h1.2M538.5,766.6h-1.2M435.5,742.5h1.2M538.5,742.5h-1.2" stroke="#858585" stroke-width="1" fill="none"/>
<text class="tk" x="432.9" y="817.8" text-anchor="end">0</text>
<text class="tk" x="432.9" y="793.6" text-anchor="end">0.2</text>
<text class="tk" x="432.9" y="769.4" text-anchor="end">0.4</text>
<text class="tk" x="432.9" y="745.3" text-anchor="end">0.6</text>
<text class="tk" x="432.9" y="721.1" text-anchor="end">0.8</text>
<text class="tk" x="453.4" y="825.3" text-anchor="middle">5</text>
<text class="tk" x="475.8" y="825.3" text-anchor="middle">10</text>
<text class="tk" x="498.2" y="825.3" text-anchor="middle">15</text>
<text class="tk" x="520.6" y="825.3" text-anchor="middle">20</text>
<text class="yl" transform="translate(418.8,766.6) rotate(-90)" text-anchor="middle">Precipitation ratio</text>
<text class="rl" x="425.8" y="837">(VIII)</text>
<text class="xl" x="470.6" y="835.6">Time/[h]</text>
<text class="tt" x="502.7" y="729.9">Total: 1</text>
<text class="cap" x="213.6" y="281.4">(a). Results of DTW- HCA</text>
<text class="cap" x="176.6" y="564.4">(b). Results of K-means clustering algorithm</text>
<text class="cap" x="165.3" y="853.5">(c). Results of hierarchical clustering algorithm</text>
</svg></body></html>
